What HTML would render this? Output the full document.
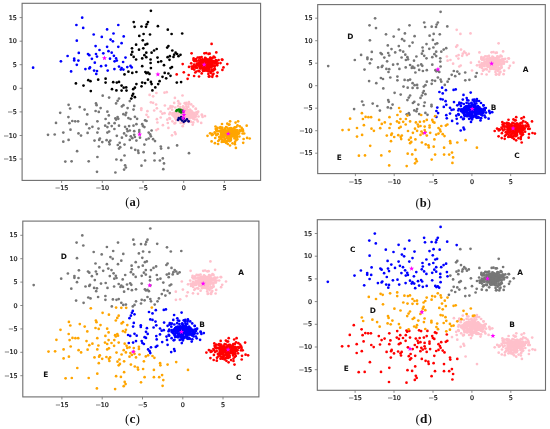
<!DOCTYPE html>
<html><head><meta charset="utf-8"><style>
html,body{margin:0;padding:0;background:#fff;}
svg{display:block;filter:blur(0.25px);}
.tk{font-family:"DejaVu Sans","Liberation Sans",sans-serif;font-size:6.4px;letter-spacing:-0.1px;fill:#111;stroke:#111;stroke-width:0.2px;}
.lt{font-family:"DejaVu Sans","Liberation Sans",sans-serif;font-size:7.4px;font-weight:bold;fill:#111;}
.lb{font-family:"Liberation Serif",serif;font-size:12.5px;fill:#111;}
</style></head><body>
<svg width="550" height="429" viewBox="0 0 550 429">
<rect width="550" height="429" fill="#fff"/>
<g fill="#767676"><circle cx="68.6" cy="104.8" r="1.35"/><circle cx="70.1" cy="108.5" r="1.35"/><circle cx="79.7" cy="107.1" r="1.35"/><circle cx="84.6" cy="109.6" r="1.35"/><circle cx="96.0" cy="103.4" r="1.35"/><circle cx="96.6" cy="105.2" r="1.35"/><circle cx="100.6" cy="108.1" r="1.35"/><circle cx="95.6" cy="111.0" r="1.35"/><circle cx="98.8" cy="111.9" r="1.35"/><circle cx="60.2" cy="112.8" r="1.35"/><circle cx="87.3" cy="114.4" r="1.35"/><circle cx="68.4" cy="117.1" r="1.35"/><circle cx="102.7" cy="95.7" r="1.35"/><circle cx="109.1" cy="97.6" r="1.35"/><circle cx="119.0" cy="98.6" r="1.35"/><circle cx="117.6" cy="100.8" r="1.35"/><circle cx="116.1" cy="103.4" r="1.35"/><circle cx="129.8" cy="101.1" r="1.35"/><circle cx="123.4" cy="105.2" r="1.35"/><circle cx="121.9" cy="106.4" r="1.35"/><circle cx="127.6" cy="108.1" r="1.35"/><circle cx="134.2" cy="105.9" r="1.35"/><circle cx="133.5" cy="109.6" r="1.35"/><circle cx="107.4" cy="111.7" r="1.35"/><circle cx="108.8" cy="115.4" r="1.35"/><circle cx="126.2" cy="112.8" r="1.35"/><circle cx="125.5" cy="115.1" r="1.35"/><circle cx="123.4" cy="114.2" r="1.35"/><circle cx="117.6" cy="117.1" r="1.35"/><circle cx="115.4" cy="118.3" r="1.35"/><circle cx="130.5" cy="119.0" r="1.35"/><circle cx="134.9" cy="116.8" r="1.35"/><circle cx="105.6" cy="119.0" r="1.35"/><circle cx="56.0" cy="122.9" r="1.35"/><circle cx="69.4" cy="123.2" r="1.35"/><circle cx="72.3" cy="121.0" r="1.35"/><circle cx="75.2" cy="121.3" r="1.35"/><circle cx="78.1" cy="121.3" r="1.35"/><circle cx="97.4" cy="121.3" r="1.35"/><circle cx="86.4" cy="124.2" r="1.35"/><circle cx="89.3" cy="128.3" r="1.35"/><circle cx="92.4" cy="126.8" r="1.35"/><circle cx="98.5" cy="128.6" r="1.35"/><circle cx="70.5" cy="129.7" r="1.35"/><circle cx="63.3" cy="132.6" r="1.35"/><circle cx="78.5" cy="133.4" r="1.35"/><circle cx="81.0" cy="135.6" r="1.35"/><circle cx="87.6" cy="132.9" r="1.35"/><circle cx="97.4" cy="132.6" r="1.35"/><circle cx="48.0" cy="134.8" r="1.35"/><circle cx="54.7" cy="134.5" r="1.35"/><circle cx="63.3" cy="141.7" r="1.35"/><circle cx="68.6" cy="139.9" r="1.35"/><circle cx="94.5" cy="140.6" r="1.35"/><circle cx="99.2" cy="139.9" r="1.35"/><circle cx="99.9" cy="138.5" r="1.35"/><circle cx="98.9" cy="146.5" r="1.35"/><circle cx="77.1" cy="151.2" r="1.35"/><circle cx="97.4" cy="157.0" r="1.35"/><circle cx="65.3" cy="161.6" r="1.35"/><circle cx="71.6" cy="161.3" r="1.35"/><circle cx="88.7" cy="161.3" r="1.35"/><circle cx="97.0" cy="171.8" r="1.35"/><circle cx="116.1" cy="119.6" r="1.35"/><circle cx="118.3" cy="118.8" r="1.35"/><circle cx="114.6" cy="123.2" r="1.35"/><circle cx="108.8" cy="123.2" r="1.35"/><circle cx="105.2" cy="125.7" r="1.35"/><circle cx="107.4" cy="127.1" r="1.35"/><circle cx="111.7" cy="126.1" r="1.35"/><circle cx="114.4" cy="129.0" r="1.35"/><circle cx="119.0" cy="125.7" r="1.35"/><circle cx="125.1" cy="126.8" r="1.35"/><circle cx="129.1" cy="126.1" r="1.35"/><circle cx="133.5" cy="125.7" r="1.35"/><circle cx="136.4" cy="124.2" r="1.35"/><circle cx="142.2" cy="124.2" r="1.35"/><circle cx="142.9" cy="126.1" r="1.35"/><circle cx="144.4" cy="127.1" r="1.35"/><circle cx="146.5" cy="121.0" r="1.35"/><circle cx="145.1" cy="120.3" r="1.35"/><circle cx="126.9" cy="129.0" r="1.35"/><circle cx="127.6" cy="131.2" r="1.35"/><circle cx="129.8" cy="130.5" r="1.35"/><circle cx="134.2" cy="131.2" r="1.35"/><circle cx="139.3" cy="130.0" r="1.35"/><circle cx="124.1" cy="133.4" r="1.35"/><circle cx="126.2" cy="135.6" r="1.35"/><circle cx="107.4" cy="132.6" r="1.35"/><circle cx="109.1" cy="131.5" r="1.35"/><circle cx="116.8" cy="135.8" r="1.35"/><circle cx="121.9" cy="137.7" r="1.35"/><circle cx="130.8" cy="136.3" r="1.35"/><circle cx="132.3" cy="138.2" r="1.35"/><circle cx="134.9" cy="137.0" r="1.35"/><circle cx="129.8" cy="139.9" r="1.35"/><circle cx="136.4" cy="140.6" r="1.35"/><circle cx="140.0" cy="137.7" r="1.35"/><circle cx="134.2" cy="134.8" r="1.35"/><circle cx="148.7" cy="132.6" r="1.35"/><circle cx="150.2" cy="134.4" r="1.35"/><circle cx="151.6" cy="130.5" r="1.35"/><circle cx="150.9" cy="136.3" r="1.35"/><circle cx="153.1" cy="139.2" r="1.35"/><circle cx="155.0" cy="141.1" r="1.35"/><circle cx="146.3" cy="139.6" r="1.35"/><circle cx="148.7" cy="138.5" r="1.35"/><circle cx="102.3" cy="142.1" r="1.35"/><circle cx="106.6" cy="140.2" r="1.35"/><circle cx="110.3" cy="140.6" r="1.35"/><circle cx="109.6" cy="144.3" r="1.35"/><circle cx="109.1" cy="142.1" r="1.35"/><circle cx="117.8" cy="145.0" r="1.35"/><circle cx="119.7" cy="142.8" r="1.35"/><circle cx="120.2" cy="147.2" r="1.35"/><circle cx="119.0" cy="148.6" r="1.35"/><circle cx="124.5" cy="144.6" r="1.35"/><circle cx="144.4" cy="144.6" r="1.35"/><circle cx="131.3" cy="147.9" r="1.35"/><circle cx="135.2" cy="149.8" r="1.35"/><circle cx="138.1" cy="150.7" r="1.35"/><circle cx="138.5" cy="152.9" r="1.35"/><circle cx="143.6" cy="152.2" r="1.35"/><circle cx="154.5" cy="153.2" r="1.35"/><circle cx="160.8" cy="146.5" r="1.35"/><circle cx="161.1" cy="148.6" r="1.35"/><circle cx="168.4" cy="147.9" r="1.35"/><circle cx="177.1" cy="145.4" r="1.35"/><circle cx="124.5" cy="155.5" r="1.35"/><circle cx="116.4" cy="159.5" r="1.35"/><circle cx="121.2" cy="160.2" r="1.35"/><circle cx="145.1" cy="160.5" r="1.35"/><circle cx="154.5" cy="160.5" r="1.35"/><circle cx="159.9" cy="160.5" r="1.35"/><circle cx="162.8" cy="158.4" r="1.35"/><circle cx="164.0" cy="163.4" r="1.35"/><circle cx="125.1" cy="165.3" r="1.35"/><circle cx="125.9" cy="167.5" r="1.35"/><circle cx="124.1" cy="169.6" r="1.35"/><circle cx="141.5" cy="165.7" r="1.35"/><circle cx="163.3" cy="169.2" r="1.35"/><circle cx="115.4" cy="172.5" r="1.35"/><circle cx="137.1" cy="118.8" r="1.35"/><circle cx="128.4" cy="118.1" r="1.35"/><circle cx="189.0" cy="153.2" r="1.35"/><circle cx="139.3" cy="132.1" r="1.35"/></g>
<g fill="#0000ff"><circle cx="82.2" cy="17.7" r="1.35"/><circle cx="76.4" cy="25.0" r="1.35"/><circle cx="83.2" cy="27.9" r="1.35"/><circle cx="93.7" cy="34.5" r="1.35"/><circle cx="101.8" cy="36.9" r="1.35"/><circle cx="76.8" cy="40.7" r="1.35"/><circle cx="95.6" cy="46.1" r="1.35"/><circle cx="99.5" cy="50.0" r="1.35"/><circle cx="78.8" cy="52.9" r="1.35"/><circle cx="67.6" cy="56.0" r="1.35"/><circle cx="88.0" cy="54.0" r="1.35"/><circle cx="89.3" cy="55.2" r="1.35"/><circle cx="96.0" cy="54.0" r="1.35"/><circle cx="97.0" cy="56.6" r="1.35"/><circle cx="74.2" cy="58.7" r="1.35"/><circle cx="78.4" cy="60.6" r="1.35"/><circle cx="91.9" cy="58.8" r="1.35"/><circle cx="60.9" cy="61.3" r="1.35"/><circle cx="94.8" cy="62.7" r="1.35"/><circle cx="118.3" cy="25.0" r="1.35"/><circle cx="107.1" cy="29.4" r="1.35"/><circle cx="113.5" cy="33.5" r="1.35"/><circle cx="123.7" cy="36.4" r="1.35"/><circle cx="110.6" cy="39.6" r="1.35"/><circle cx="112.9" cy="41.3" r="1.35"/><circle cx="121.6" cy="43.2" r="1.35"/><circle cx="107.1" cy="46.8" r="1.35"/><circle cx="118.3" cy="46.8" r="1.35"/><circle cx="108.5" cy="51.2" r="1.35"/><circle cx="111.7" cy="52.7" r="1.35"/><circle cx="103.3" cy="53.3" r="1.35"/><circle cx="113.9" cy="55.8" r="1.35"/><circle cx="116.1" cy="58.4" r="1.35"/><circle cx="110.0" cy="58.7" r="1.35"/><circle cx="125.5" cy="57.6" r="1.35"/><circle cx="114.6" cy="61.3" r="1.35"/><circle cx="116.8" cy="60.6" r="1.35"/><circle cx="123.1" cy="62.0" r="1.35"/><circle cx="33.1" cy="67.7" r="1.35"/><circle cx="74.2" cy="60.4" r="1.35"/><circle cx="76.8" cy="64.8" r="1.35"/><circle cx="71.1" cy="71.4" r="1.35"/><circle cx="85.4" cy="69.1" r="1.35"/><circle cx="89.3" cy="68.5" r="1.35"/><circle cx="90.0" cy="67.4" r="1.35"/><circle cx="94.1" cy="70.6" r="1.35"/><circle cx="97.0" cy="71.0" r="1.35"/><circle cx="96.3" cy="73.9" r="1.35"/><circle cx="101.1" cy="66.2" r="1.35"/><circle cx="105.9" cy="65.6" r="1.35"/><circle cx="107.7" cy="70.6" r="1.35"/><circle cx="114.4" cy="69.1" r="1.35"/><circle cx="119.0" cy="66.6" r="1.35"/><circle cx="121.6" cy="68.1" r="1.35"/><circle cx="123.4" cy="69.6" r="1.35"/><circle cx="127.3" cy="67.1" r="1.35"/><circle cx="130.5" cy="65.9" r="1.35"/><circle cx="131.7" cy="67.4" r="1.35"/><circle cx="120.8" cy="69.6" r="1.35"/></g>
<g fill="#000000"><circle cx="150.9" cy="10.8" r="1.35"/><circle cx="133.7" cy="22.1" r="1.35"/><circle cx="148.0" cy="22.1" r="1.35"/><circle cx="146.8" cy="24.3" r="1.35"/><circle cx="134.6" cy="26.8" r="1.35"/><circle cx="141.5" cy="26.5" r="1.35"/><circle cx="146.0" cy="26.8" r="1.35"/><circle cx="157.9" cy="26.2" r="1.35"/><circle cx="167.8" cy="29.7" r="1.35"/><circle cx="171.6" cy="34.0" r="1.35"/><circle cx="143.6" cy="34.0" r="1.35"/><circle cx="150.0" cy="34.5" r="1.35"/><circle cx="139.3" cy="35.9" r="1.35"/><circle cx="142.8" cy="40.3" r="1.35"/><circle cx="145.4" cy="44.7" r="1.35"/><circle cx="147.3" cy="43.9" r="1.35"/><circle cx="136.1" cy="44.7" r="1.35"/><circle cx="168.4" cy="46.1" r="1.35"/><circle cx="167.2" cy="47.6" r="1.35"/><circle cx="132.0" cy="48.3" r="1.35"/><circle cx="139.0" cy="49.7" r="1.35"/><circle cx="143.3" cy="48.3" r="1.35"/><circle cx="156.7" cy="49.0" r="1.35"/><circle cx="154.1" cy="50.5" r="1.35"/><circle cx="172.3" cy="50.5" r="1.35"/><circle cx="132.3" cy="51.9" r="1.35"/><circle cx="151.6" cy="52.7" r="1.35"/><circle cx="146.3" cy="52.7" r="1.35"/><circle cx="175.6" cy="52.7" r="1.35"/><circle cx="177.1" cy="54.0" r="1.35"/><circle cx="131.3" cy="54.7" r="1.35"/><circle cx="144.4" cy="55.2" r="1.35"/><circle cx="174.2" cy="54.7" r="1.35"/><circle cx="169.8" cy="56.2" r="1.35"/><circle cx="133.7" cy="56.9" r="1.35"/><circle cx="146.3" cy="57.2" r="1.35"/><circle cx="157.5" cy="57.6" r="1.35"/><circle cx="167.6" cy="57.2" r="1.35"/><circle cx="173.5" cy="56.9" r="1.35"/><circle cx="178.5" cy="56.2" r="1.35"/><circle cx="142.2" cy="58.4" r="1.35"/><circle cx="136.1" cy="59.5" r="1.35"/><circle cx="150.6" cy="59.5" r="1.35"/><circle cx="161.1" cy="61.3" r="1.35"/><circle cx="169.5" cy="59.8" r="1.35"/><circle cx="158.2" cy="62.0" r="1.35"/><circle cx="182.2" cy="33.5" r="1.35"/><circle cx="180.5" cy="54.8" r="1.35"/><circle cx="181.1" cy="82.1" r="1.35"/><circle cx="75.9" cy="83.4" r="1.35"/><circle cx="83.5" cy="85.6" r="1.35"/><circle cx="88.3" cy="80.2" r="1.35"/><circle cx="90.5" cy="81.2" r="1.35"/><circle cx="98.2" cy="79.7" r="1.35"/><circle cx="90.8" cy="91.1" r="1.35"/><circle cx="150.6" cy="63.0" r="1.35"/><circle cx="164.0" cy="65.2" r="1.35"/><circle cx="170.5" cy="68.1" r="1.35"/><circle cx="172.0" cy="67.1" r="1.35"/><circle cx="142.2" cy="66.2" r="1.35"/><circle cx="150.9" cy="68.1" r="1.35"/><circle cx="128.4" cy="71.7" r="1.35"/><circle cx="132.3" cy="72.9" r="1.35"/><circle cx="136.4" cy="72.0" r="1.35"/><circle cx="124.5" cy="74.4" r="1.35"/><circle cx="145.4" cy="72.0" r="1.35"/><circle cx="146.5" cy="73.2" r="1.35"/><circle cx="149.5" cy="73.9" r="1.35"/><circle cx="148.0" cy="72.5" r="1.35"/><circle cx="164.7" cy="72.9" r="1.35"/><circle cx="168.4" cy="73.5" r="1.35"/><circle cx="170.5" cy="75.8" r="1.35"/><circle cx="162.5" cy="76.8" r="1.35"/><circle cx="166.2" cy="78.3" r="1.35"/><circle cx="105.6" cy="78.7" r="1.35"/><circle cx="105.6" cy="82.6" r="1.35"/><circle cx="113.2" cy="82.2" r="1.35"/><circle cx="116.8" cy="82.6" r="1.35"/><circle cx="119.0" cy="81.9" r="1.35"/><circle cx="121.6" cy="85.6" r="1.35"/><circle cx="123.7" cy="87.7" r="1.35"/><circle cx="126.2" cy="87.4" r="1.35"/><circle cx="112.0" cy="89.2" r="1.35"/><circle cx="116.4" cy="90.4" r="1.35"/><circle cx="121.6" cy="90.6" r="1.35"/><circle cx="126.5" cy="90.6" r="1.35"/><circle cx="133.2" cy="89.2" r="1.35"/><circle cx="136.4" cy="84.1" r="1.35"/><circle cx="134.9" cy="87.7" r="1.35"/><circle cx="142.2" cy="82.6" r="1.35"/><circle cx="141.5" cy="86.3" r="1.35"/><circle cx="145.1" cy="83.1" r="1.35"/><circle cx="148.0" cy="79.7" r="1.35"/><circle cx="150.9" cy="81.9" r="1.35"/><circle cx="151.6" cy="84.1" r="1.35"/><circle cx="159.6" cy="81.2" r="1.35"/><circle cx="158.2" cy="84.1" r="1.35"/><circle cx="155.3" cy="87.4" r="1.35"/><circle cx="152.4" cy="90.4" r="1.35"/><circle cx="133.2" cy="93.8" r="1.35"/><circle cx="132.3" cy="95.7" r="1.35"/><circle cx="134.9" cy="97.2" r="1.35"/><circle cx="131.3" cy="98.6" r="1.35"/><circle cx="176.8" cy="82.6" r="1.35"/></g>
<g fill="#ffc0cb"><circle cx="201.8" cy="114.6" r="1.35"/><circle cx="205.0" cy="116.1" r="1.35"/><circle cx="172.0" cy="135.3" r="1.35"/><circle cx="175.6" cy="134.1" r="1.35"/><circle cx="156.4" cy="93.0" r="1.35"/><circle cx="164.5" cy="92.7" r="1.35"/><circle cx="166.7" cy="92.2" r="1.35"/><circle cx="149.6" cy="94.9" r="1.35"/><circle cx="153.1" cy="96.3" r="1.35"/><circle cx="182.5" cy="95.5" r="1.35"/><circle cx="150.9" cy="102.3" r="1.35"/><circle cx="153.1" cy="102.8" r="1.35"/><circle cx="156.1" cy="104.5" r="1.35"/><circle cx="178.2" cy="101.2" r="1.35"/><circle cx="184.7" cy="103.2" r="1.35"/><circle cx="186.3" cy="102.8" r="1.35"/><circle cx="141.3" cy="108.3" r="1.35"/><circle cx="141.3" cy="109.9" r="1.35"/><circle cx="147.4" cy="111.2" r="1.35"/><circle cx="154.2" cy="110.5" r="1.35"/><circle cx="156.9" cy="108.3" r="1.35"/><circle cx="160.7" cy="111.5" r="1.35"/><circle cx="162.4" cy="113.7" r="1.35"/><circle cx="164.5" cy="113.2" r="1.35"/><circle cx="168.4" cy="108.8" r="1.35"/><circle cx="172.7" cy="106.6" r="1.35"/><circle cx="146.5" cy="114.8" r="1.35"/><circle cx="148.2" cy="117.0" r="1.35"/><circle cx="156.9" cy="119.2" r="1.35"/><circle cx="157.4" cy="122.5" r="1.35"/><circle cx="160.7" cy="117.5" r="1.35"/><circle cx="167.3" cy="119.7" r="1.35"/><circle cx="167.8" cy="123.0" r="1.35"/><circle cx="162.9" cy="125.2" r="1.35"/><circle cx="168.4" cy="127.9" r="1.35"/><circle cx="156.4" cy="130.1" r="1.35"/><circle cx="158.0" cy="129.0" r="1.35"/><circle cx="197.8" cy="121.4" r="1.35"/><circle cx="174.9" cy="132.3" r="1.35"/><circle cx="174.9" cy="97.9" r="1.35"/><circle cx="181.4" cy="110.1" r="1.35"/><circle cx="191.7" cy="114.0" r="1.35"/><circle cx="175.1" cy="113.2" r="1.35"/><circle cx="186.9" cy="109.0" r="1.35"/><circle cx="190.1" cy="113.9" r="1.35"/><circle cx="190.7" cy="111.6" r="1.35"/><circle cx="185.7" cy="113.8" r="1.35"/><circle cx="182.2" cy="110.9" r="1.35"/><circle cx="175.9" cy="116.8" r="1.35"/><circle cx="184.1" cy="120.6" r="1.35"/><circle cx="180.7" cy="123.0" r="1.35"/><circle cx="178.8" cy="111.5" r="1.35"/><circle cx="188.5" cy="114.3" r="1.35"/><circle cx="182.3" cy="120.4" r="1.35"/><circle cx="198.2" cy="111.7" r="1.35"/><circle cx="192.5" cy="118.0" r="1.35"/><circle cx="182.7" cy="122.2" r="1.35"/><circle cx="190.1" cy="109.8" r="1.35"/><circle cx="169.4" cy="114.2" r="1.35"/><circle cx="189.0" cy="121.9" r="1.35"/><circle cx="170.0" cy="118.8" r="1.35"/><circle cx="179.2" cy="120.3" r="1.35"/><circle cx="184.3" cy="112.9" r="1.35"/><circle cx="189.0" cy="110.9" r="1.35"/><circle cx="195.7" cy="108.8" r="1.35"/><circle cx="173.9" cy="116.3" r="1.35"/><circle cx="175.9" cy="118.8" r="1.35"/><circle cx="183.5" cy="114.0" r="1.35"/><circle cx="187.9" cy="121.1" r="1.35"/><circle cx="174.5" cy="114.1" r="1.35"/><circle cx="182.5" cy="115.4" r="1.35"/><circle cx="183.6" cy="117.4" r="1.35"/><circle cx="189.5" cy="112.4" r="1.35"/><circle cx="183.4" cy="117.0" r="1.35"/><circle cx="182.7" cy="126.2" r="1.35"/><circle cx="176.5" cy="113.8" r="1.35"/><circle cx="172.5" cy="113.1" r="1.35"/><circle cx="185.2" cy="120.2" r="1.35"/><circle cx="182.1" cy="115.4" r="1.35"/><circle cx="187.6" cy="111.3" r="1.35"/><circle cx="183.8" cy="117.8" r="1.35"/><circle cx="183.0" cy="114.3" r="1.35"/><circle cx="189.8" cy="112.7" r="1.35"/><circle cx="178.5" cy="120.1" r="1.35"/><circle cx="181.2" cy="117.3" r="1.35"/><circle cx="175.5" cy="114.5" r="1.35"/><circle cx="180.3" cy="113.5" r="1.35"/><circle cx="188.1" cy="115.9" r="1.35"/><circle cx="202.1" cy="115.5" r="1.35"/><circle cx="192.6" cy="113.5" r="1.35"/><circle cx="192.7" cy="124.7" r="1.35"/><circle cx="178.3" cy="112.9" r="1.35"/><circle cx="188.7" cy="103.5" r="1.35"/><circle cx="186.6" cy="108.3" r="1.35"/><circle cx="190.0" cy="109.8" r="1.35"/><circle cx="188.0" cy="114.7" r="1.35"/><circle cx="188.0" cy="118.8" r="1.35"/><circle cx="193.2" cy="118.6" r="1.35"/><circle cx="186.0" cy="104.5" r="1.35"/><circle cx="182.4" cy="113.9" r="1.35"/><circle cx="193.1" cy="113.9" r="1.35"/><circle cx="177.8" cy="112.9" r="1.35"/><circle cx="188.6" cy="110.8" r="1.35"/><circle cx="178.1" cy="106.2" r="1.35"/><circle cx="197.0" cy="113.9" r="1.35"/><circle cx="186.2" cy="115.9" r="1.35"/><circle cx="195.0" cy="117.2" r="1.35"/><circle cx="189.3" cy="116.2" r="1.35"/><circle cx="178.7" cy="110.8" r="1.35"/><circle cx="194.4" cy="114.1" r="1.35"/><circle cx="178.8" cy="110.4" r="1.35"/><circle cx="183.7" cy="112.6" r="1.35"/><circle cx="195.9" cy="108.9" r="1.35"/><circle cx="180.1" cy="103.8" r="1.35"/><circle cx="184.1" cy="110.5" r="1.35"/><circle cx="179.1" cy="114.2" r="1.35"/><circle cx="170.6" cy="106.0" r="1.35"/><circle cx="194.6" cy="119.5" r="1.35"/><circle cx="172.4" cy="121.3" r="1.35"/><circle cx="193.2" cy="116.1" r="1.35"/><circle cx="183.6" cy="115.4" r="1.35"/><circle cx="183.1" cy="118.9" r="1.35"/><circle cx="184.3" cy="120.5" r="1.35"/><circle cx="183.5" cy="112.6" r="1.35"/><circle cx="187.7" cy="115.0" r="1.35"/><circle cx="177.1" cy="113.3" r="1.35"/><circle cx="180.3" cy="107.0" r="1.35"/><circle cx="190.0" cy="114.5" r="1.35"/><circle cx="180.4" cy="117.2" r="1.35"/><circle cx="176.8" cy="115.6" r="1.35"/><circle cx="186.4" cy="111.7" r="1.35"/><circle cx="188.5" cy="104.6" r="1.35"/><circle cx="178.6" cy="114.0" r="1.35"/><circle cx="180.1" cy="113.3" r="1.35"/><circle cx="185.3" cy="112.2" r="1.35"/><circle cx="182.2" cy="112.4" r="1.35"/><circle cx="184.5" cy="110.6" r="1.35"/><circle cx="169.4" cy="118.0" r="1.35"/><circle cx="184.1" cy="118.6" r="1.35"/><circle cx="176.0" cy="111.2" r="1.35"/><circle cx="179.1" cy="111.2" r="1.35"/><circle cx="189.9" cy="112.6" r="1.35"/><circle cx="188.0" cy="114.5" r="1.35"/><circle cx="173.2" cy="114.1" r="1.35"/><circle cx="187.6" cy="116.4" r="1.35"/><circle cx="183.3" cy="110.7" r="1.35"/><circle cx="177.3" cy="111.1" r="1.35"/><circle cx="198.5" cy="116.5" r="1.35"/><circle cx="185.2" cy="114.7" r="1.35"/><circle cx="196.0" cy="112.6" r="1.35"/><circle cx="191.0" cy="117.1" r="1.35"/><circle cx="184.0" cy="114.1" r="1.35"/><circle cx="170.4" cy="107.6" r="1.35"/><circle cx="191.0" cy="121.8" r="1.35"/><circle cx="189.8" cy="114.6" r="1.35"/><circle cx="187.6" cy="112.4" r="1.35"/><circle cx="172.5" cy="115.0" r="1.35"/><circle cx="195.6" cy="116.6" r="1.35"/><circle cx="176.2" cy="120.1" r="1.35"/><circle cx="174.6" cy="112.5" r="1.35"/><circle cx="197.2" cy="112.1" r="1.35"/><circle cx="186.0" cy="104.0" r="1.35"/><circle cx="180.1" cy="117.0" r="1.35"/><circle cx="188.2" cy="111.6" r="1.35"/><circle cx="176.2" cy="119.3" r="1.35"/><circle cx="186.3" cy="112.9" r="1.35"/><circle cx="174.0" cy="114.9" r="1.35"/><circle cx="179.9" cy="112.0" r="1.35"/><circle cx="183.2" cy="114.4" r="1.35"/><circle cx="181.4" cy="109.3" r="1.35"/><circle cx="194.8" cy="115.7" r="1.35"/><circle cx="190.6" cy="117.4" r="1.35"/><circle cx="184.6" cy="110.7" r="1.35"/><circle cx="195.8" cy="115.7" r="1.35"/><circle cx="183.5" cy="113.1" r="1.35"/><circle cx="172.5" cy="113.9" r="1.35"/><circle cx="178.9" cy="112.3" r="1.35"/><circle cx="175.3" cy="122.9" r="1.35"/><circle cx="184.4" cy="112.8" r="1.35"/><circle cx="179.8" cy="110.0" r="1.35"/><circle cx="182.0" cy="116.7" r="1.35"/><circle cx="187.8" cy="121.0" r="1.35"/><circle cx="178.8" cy="114.1" r="1.35"/><circle cx="190.6" cy="114.7" r="1.35"/><circle cx="186.5" cy="116.9" r="1.35"/><circle cx="186.4" cy="106.6" r="1.35"/><circle cx="178.8" cy="103.4" r="1.35"/><circle cx="179.1" cy="113.9" r="1.35"/><circle cx="185.4" cy="109.4" r="1.35"/><circle cx="174.5" cy="123.4" r="1.35"/><circle cx="188.8" cy="110.4" r="1.35"/><circle cx="188.9" cy="102.2" r="1.35"/><circle cx="185.7" cy="112.9" r="1.35"/><circle cx="191.3" cy="112.4" r="1.35"/><circle cx="196.9" cy="119.6" r="1.35"/><circle cx="190.4" cy="115.7" r="1.35"/><circle cx="191.2" cy="104.4" r="1.35"/><circle cx="184.0" cy="115.2" r="1.35"/><circle cx="180.2" cy="117.8" r="1.35"/><circle cx="179.2" cy="111.1" r="1.35"/><circle cx="184.4" cy="113.7" r="1.35"/><circle cx="182.7" cy="109.9" r="1.35"/><circle cx="187.9" cy="114.6" r="1.35"/><circle cx="189.2" cy="114.7" r="1.35"/><circle cx="175.2" cy="107.5" r="1.35"/><circle cx="187.7" cy="118.3" r="1.35"/><circle cx="192.4" cy="112.5" r="1.35"/><circle cx="172.0" cy="106.8" r="1.35"/><circle cx="186.7" cy="110.0" r="1.35"/><circle cx="185.6" cy="114.7" r="1.35"/><circle cx="172.1" cy="109.7" r="1.35"/><circle cx="184.3" cy="115.3" r="1.35"/><circle cx="186.8" cy="113.7" r="1.35"/><circle cx="189.3" cy="115.7" r="1.35"/><circle cx="183.8" cy="123.6" r="1.35"/><circle cx="180.8" cy="111.0" r="1.35"/><circle cx="194.4" cy="115.6" r="1.35"/><circle cx="183.1" cy="106.9" r="1.35"/><circle cx="181.6" cy="110.7" r="1.35"/><circle cx="197.1" cy="113.8" r="1.35"/><circle cx="193.6" cy="117.2" r="1.35"/><circle cx="185.7" cy="114.4" r="1.35"/><circle cx="185.0" cy="109.0" r="1.35"/><circle cx="202.6" cy="117.0" r="1.35"/><circle cx="179.6" cy="111.8" r="1.35"/><circle cx="175.9" cy="111.8" r="1.35"/><circle cx="188.5" cy="115.3" r="1.35"/><circle cx="188.2" cy="121.0" r="1.35"/><circle cx="190.0" cy="120.9" r="1.35"/><circle cx="178.7" cy="116.5" r="1.35"/><circle cx="181.0" cy="110.2" r="1.35"/><circle cx="184.7" cy="115.8" r="1.35"/><circle cx="188.3" cy="106.9" r="1.35"/><circle cx="184.1" cy="112.4" r="1.35"/><circle cx="193.7" cy="112.8" r="1.35"/><circle cx="174.2" cy="102.9" r="1.35"/><circle cx="201.2" cy="122.9" r="1.35"/><circle cx="183.8" cy="112.1" r="1.35"/><circle cx="191.6" cy="111.0" r="1.35"/><circle cx="182.0" cy="118.7" r="1.35"/><circle cx="184.9" cy="109.4" r="1.35"/><circle cx="175.7" cy="118.6" r="1.35"/><circle cx="183.9" cy="122.7" r="1.35"/><circle cx="182.1" cy="116.0" r="1.35"/><circle cx="187.6" cy="117.2" r="1.35"/><circle cx="177.3" cy="115.8" r="1.35"/><circle cx="183.7" cy="117.0" r="1.35"/><circle cx="184.2" cy="110.7" r="1.35"/><circle cx="193.2" cy="106.4" r="1.35"/><circle cx="178.0" cy="115.9" r="1.35"/><circle cx="164.9" cy="105.5" r="1.35"/><circle cx="178.5" cy="114.2" r="1.35"/><circle cx="188.1" cy="120.1" r="1.35"/><circle cx="187.7" cy="114.1" r="1.35"/><circle cx="170.0" cy="112.7" r="1.35"/><circle cx="193.3" cy="122.4" r="1.35"/><circle cx="190.3" cy="113.1" r="1.35"/><circle cx="187.8" cy="112.0" r="1.35"/><circle cx="194.2" cy="115.0" r="1.35"/><circle cx="190.8" cy="115.8" r="1.35"/><circle cx="189.7" cy="117.7" r="1.35"/><circle cx="183.2" cy="106.3" r="1.35"/><circle cx="187.5" cy="114.7" r="1.35"/><circle cx="175.2" cy="117.6" r="1.35"/><circle cx="185.6" cy="109.8" r="1.35"/><circle cx="187.4" cy="111.7" r="1.35"/><circle cx="183.8" cy="108.0" r="1.35"/><circle cx="181.1" cy="116.5" r="1.35"/><circle cx="191.0" cy="113.7" r="1.35"/><circle cx="181.9" cy="116.6" r="1.35"/></g>
<g fill="#ff0000"><circle cx="211.6" cy="43.9" r="1.35"/><circle cx="191.6" cy="53.3" r="1.35"/><circle cx="216.3" cy="52.4" r="1.35"/><circle cx="209.7" cy="53.7" r="1.35"/><circle cx="222.4" cy="59.8" r="1.35"/><circle cx="182.7" cy="64.1" r="1.35"/><circle cx="183.8" cy="72.3" r="1.35"/><circle cx="187.6" cy="78.8" r="1.35"/><circle cx="188.7" cy="75.0" r="1.35"/><circle cx="227.3" cy="64.1" r="1.35"/><circle cx="208.8" cy="76.6" r="1.35"/><circle cx="212.6" cy="75.0" r="1.35"/><circle cx="223.5" cy="67.4" r="1.35"/><circle cx="176.7" cy="74.4" r="1.35"/><circle cx="204.1" cy="62.4" r="1.35"/><circle cx="204.3" cy="66.1" r="1.35"/><circle cx="200.0" cy="65.7" r="1.35"/><circle cx="212.4" cy="62.8" r="1.35"/><circle cx="212.0" cy="63.6" r="1.35"/><circle cx="208.1" cy="63.9" r="1.35"/><circle cx="195.5" cy="60.9" r="1.35"/><circle cx="208.7" cy="62.5" r="1.35"/><circle cx="195.3" cy="72.5" r="1.35"/><circle cx="200.2" cy="66.8" r="1.35"/><circle cx="207.5" cy="64.9" r="1.35"/><circle cx="208.8" cy="67.6" r="1.35"/><circle cx="207.5" cy="63.0" r="1.35"/><circle cx="201.6" cy="57.0" r="1.35"/><circle cx="209.1" cy="59.4" r="1.35"/><circle cx="201.9" cy="68.1" r="1.35"/><circle cx="203.6" cy="65.2" r="1.35"/><circle cx="209.5" cy="63.6" r="1.35"/><circle cx="202.9" cy="69.0" r="1.35"/><circle cx="202.5" cy="59.3" r="1.35"/><circle cx="200.7" cy="63.6" r="1.35"/><circle cx="208.3" cy="71.4" r="1.35"/><circle cx="206.0" cy="58.9" r="1.35"/><circle cx="193.4" cy="66.2" r="1.35"/><circle cx="205.0" cy="68.4" r="1.35"/><circle cx="208.7" cy="65.0" r="1.35"/><circle cx="196.7" cy="61.0" r="1.35"/><circle cx="209.7" cy="60.5" r="1.35"/><circle cx="214.5" cy="63.1" r="1.35"/><circle cx="206.4" cy="70.6" r="1.35"/><circle cx="209.4" cy="67.5" r="1.35"/><circle cx="202.9" cy="70.4" r="1.35"/><circle cx="199.7" cy="67.1" r="1.35"/><circle cx="213.5" cy="73.8" r="1.35"/><circle cx="196.8" cy="63.7" r="1.35"/><circle cx="214.5" cy="62.1" r="1.35"/><circle cx="194.1" cy="76.0" r="1.35"/><circle cx="207.8" cy="68.0" r="1.35"/><circle cx="198.8" cy="60.4" r="1.35"/><circle cx="212.4" cy="64.0" r="1.35"/><circle cx="207.2" cy="62.8" r="1.35"/><circle cx="215.4" cy="62.0" r="1.35"/><circle cx="208.8" cy="62.3" r="1.35"/><circle cx="196.1" cy="59.0" r="1.35"/><circle cx="211.5" cy="62.4" r="1.35"/><circle cx="193.6" cy="67.6" r="1.35"/><circle cx="210.8" cy="72.9" r="1.35"/><circle cx="204.5" cy="60.2" r="1.35"/><circle cx="197.7" cy="57.5" r="1.35"/><circle cx="209.0" cy="65.4" r="1.35"/><circle cx="207.6" cy="61.8" r="1.35"/><circle cx="206.4" cy="59.6" r="1.35"/><circle cx="201.6" cy="66.6" r="1.35"/><circle cx="212.0" cy="64.6" r="1.35"/><circle cx="200.3" cy="60.5" r="1.35"/><circle cx="214.6" cy="66.7" r="1.35"/><circle cx="197.2" cy="65.3" r="1.35"/><circle cx="204.7" cy="66.1" r="1.35"/><circle cx="214.2" cy="69.3" r="1.35"/><circle cx="213.4" cy="70.4" r="1.35"/><circle cx="200.9" cy="61.9" r="1.35"/><circle cx="212.5" cy="60.9" r="1.35"/><circle cx="207.8" cy="64.1" r="1.35"/><circle cx="206.6" cy="62.2" r="1.35"/><circle cx="204.6" cy="63.5" r="1.35"/><circle cx="209.2" cy="64.7" r="1.35"/><circle cx="210.3" cy="62.2" r="1.35"/><circle cx="217.9" cy="63.3" r="1.35"/><circle cx="203.0" cy="66.4" r="1.35"/><circle cx="205.6" cy="60.6" r="1.35"/><circle cx="203.6" cy="63.0" r="1.35"/><circle cx="216.9" cy="76.2" r="1.35"/><circle cx="198.8" cy="63.6" r="1.35"/><circle cx="208.1" cy="63.7" r="1.35"/><circle cx="203.0" cy="61.8" r="1.35"/><circle cx="207.4" cy="67.1" r="1.35"/><circle cx="220.5" cy="63.1" r="1.35"/><circle cx="202.3" cy="65.2" r="1.35"/><circle cx="204.3" cy="65.0" r="1.35"/><circle cx="189.0" cy="66.9" r="1.35"/><circle cx="211.8" cy="70.0" r="1.35"/><circle cx="205.2" cy="60.5" r="1.35"/><circle cx="210.9" cy="58.1" r="1.35"/><circle cx="195.3" cy="66.3" r="1.35"/><circle cx="203.6" cy="61.9" r="1.35"/><circle cx="212.3" cy="76.8" r="1.35"/><circle cx="212.3" cy="71.2" r="1.35"/><circle cx="209.8" cy="71.4" r="1.35"/><circle cx="206.7" cy="59.4" r="1.35"/><circle cx="204.7" cy="63.9" r="1.35"/><circle cx="210.5" cy="64.1" r="1.35"/><circle cx="205.1" cy="57.9" r="1.35"/><circle cx="212.1" cy="66.1" r="1.35"/><circle cx="222.4" cy="69.9" r="1.35"/><circle cx="211.2" cy="65.9" r="1.35"/><circle cx="206.5" cy="61.6" r="1.35"/><circle cx="207.0" cy="61.9" r="1.35"/><circle cx="196.3" cy="71.5" r="1.35"/><circle cx="209.4" cy="69.1" r="1.35"/><circle cx="199.4" cy="71.3" r="1.35"/><circle cx="213.4" cy="61.4" r="1.35"/><circle cx="214.6" cy="68.9" r="1.35"/><circle cx="205.7" cy="69.8" r="1.35"/><circle cx="210.3" cy="57.6" r="1.35"/><circle cx="200.2" cy="57.7" r="1.35"/><circle cx="211.7" cy="65.5" r="1.35"/><circle cx="193.6" cy="58.4" r="1.35"/><circle cx="205.1" cy="67.4" r="1.35"/><circle cx="208.1" cy="62.9" r="1.35"/><circle cx="214.8" cy="69.3" r="1.35"/><circle cx="212.6" cy="58.1" r="1.35"/><circle cx="214.5" cy="65.5" r="1.35"/><circle cx="201.1" cy="60.2" r="1.35"/><circle cx="206.4" cy="64.2" r="1.35"/><circle cx="214.4" cy="65.9" r="1.35"/><circle cx="191.6" cy="66.5" r="1.35"/><circle cx="194.3" cy="61.1" r="1.35"/><circle cx="207.6" cy="67.5" r="1.35"/><circle cx="205.6" cy="61.0" r="1.35"/><circle cx="206.1" cy="58.8" r="1.35"/><circle cx="205.3" cy="60.1" r="1.35"/><circle cx="214.8" cy="57.5" r="1.35"/><circle cx="201.6" cy="60.8" r="1.35"/><circle cx="194.2" cy="69.6" r="1.35"/><circle cx="193.7" cy="59.9" r="1.35"/><circle cx="198.1" cy="64.8" r="1.35"/><circle cx="204.5" cy="64.9" r="1.35"/><circle cx="202.0" cy="63.7" r="1.35"/><circle cx="216.6" cy="64.5" r="1.35"/><circle cx="208.9" cy="60.3" r="1.35"/><circle cx="204.4" cy="70.4" r="1.35"/><circle cx="202.3" cy="59.9" r="1.35"/><circle cx="195.6" cy="67.4" r="1.35"/><circle cx="211.8" cy="61.2" r="1.35"/><circle cx="205.7" cy="61.1" r="1.35"/><circle cx="206.7" cy="70.0" r="1.35"/><circle cx="196.1" cy="67.6" r="1.35"/><circle cx="211.3" cy="67.3" r="1.35"/><circle cx="200.1" cy="68.2" r="1.35"/><circle cx="196.3" cy="65.3" r="1.35"/><circle cx="198.5" cy="63.1" r="1.35"/><circle cx="191.2" cy="63.3" r="1.35"/><circle cx="201.7" cy="73.4" r="1.35"/><circle cx="210.1" cy="66.0" r="1.35"/><circle cx="192.0" cy="68.7" r="1.35"/><circle cx="207.4" cy="66.8" r="1.35"/><circle cx="210.4" cy="61.4" r="1.35"/><circle cx="209.7" cy="63.3" r="1.35"/><circle cx="213.8" cy="61.8" r="1.35"/><circle cx="208.4" cy="74.1" r="1.35"/><circle cx="211.1" cy="58.9" r="1.35"/><circle cx="203.8" cy="66.8" r="1.35"/><circle cx="217.5" cy="72.6" r="1.35"/><circle cx="208.5" cy="53.9" r="1.35"/><circle cx="200.0" cy="61.6" r="1.35"/><circle cx="217.2" cy="65.3" r="1.35"/><circle cx="209.1" cy="60.7" r="1.35"/><circle cx="200.1" cy="65.1" r="1.35"/><circle cx="207.4" cy="61.0" r="1.35"/><circle cx="205.4" cy="65.6" r="1.35"/><circle cx="199.5" cy="66.3" r="1.35"/><circle cx="211.1" cy="64.3" r="1.35"/><circle cx="200.4" cy="68.5" r="1.35"/><circle cx="221.9" cy="59.6" r="1.35"/><circle cx="209.5" cy="76.4" r="1.35"/><circle cx="209.4" cy="62.6" r="1.35"/><circle cx="215.9" cy="62.8" r="1.35"/><circle cx="205.2" cy="62.4" r="1.35"/><circle cx="193.8" cy="60.1" r="1.35"/><circle cx="207.6" cy="67.9" r="1.35"/><circle cx="213.7" cy="56.6" r="1.35"/><circle cx="197.1" cy="67.7" r="1.35"/><circle cx="207.4" cy="63.9" r="1.35"/><circle cx="203.2" cy="69.1" r="1.35"/><circle cx="218.6" cy="60.1" r="1.35"/><circle cx="198.4" cy="70.8" r="1.35"/><circle cx="216.1" cy="60.3" r="1.35"/><circle cx="216.8" cy="61.1" r="1.35"/><circle cx="200.3" cy="63.6" r="1.35"/><circle cx="192.5" cy="68.1" r="1.35"/><circle cx="205.3" cy="62.4" r="1.35"/><circle cx="201.2" cy="65.3" r="1.35"/><circle cx="208.5" cy="63.1" r="1.35"/><circle cx="209.6" cy="63.8" r="1.35"/><circle cx="203.7" cy="61.2" r="1.35"/><circle cx="206.0" cy="68.4" r="1.35"/><circle cx="201.8" cy="64.7" r="1.35"/><circle cx="205.0" cy="64.0" r="1.35"/><circle cx="205.7" cy="64.0" r="1.35"/><circle cx="204.8" cy="70.4" r="1.35"/><circle cx="208.2" cy="60.0" r="1.35"/><circle cx="208.3" cy="65.6" r="1.35"/><circle cx="208.4" cy="69.1" r="1.35"/><circle cx="194.1" cy="64.5" r="1.35"/><circle cx="200.0" cy="61.4" r="1.35"/><circle cx="199.0" cy="76.5" r="1.35"/><circle cx="199.3" cy="57.7" r="1.35"/><circle cx="203.3" cy="70.9" r="1.35"/><circle cx="201.0" cy="62.4" r="1.35"/><circle cx="208.7" cy="63.9" r="1.35"/><circle cx="214.7" cy="61.6" r="1.35"/><circle cx="205.5" cy="62.1" r="1.35"/><circle cx="215.8" cy="60.4" r="1.35"/><circle cx="211.9" cy="69.6" r="1.35"/><circle cx="204.7" cy="61.5" r="1.35"/><circle cx="203.8" cy="60.0" r="1.35"/><circle cx="209.3" cy="60.7" r="1.35"/><circle cx="204.4" cy="53.3" r="1.35"/><circle cx="213.2" cy="65.7" r="1.35"/><circle cx="206.2" cy="53.1" r="1.35"/></g>
<g fill="#ffa500"><circle cx="207.5" cy="135.8" r="1.35"/><circle cx="211.6" cy="141.4" r="1.35"/><circle cx="235.9" cy="147.9" r="1.35"/><circle cx="243.2" cy="142.8" r="1.35"/><circle cx="249.7" cy="138.5" r="1.35"/><circle cx="238.1" cy="121.3" r="1.35"/><circle cx="230.1" cy="121.3" r="1.35"/><circle cx="215.5" cy="126.5" r="1.35"/><circle cx="226.6" cy="131.2" r="1.35"/><circle cx="231.0" cy="138.9" r="1.35"/><circle cx="231.6" cy="133.1" r="1.35"/><circle cx="221.1" cy="130.5" r="1.35"/><circle cx="226.4" cy="135.2" r="1.35"/><circle cx="234.3" cy="128.2" r="1.35"/><circle cx="223.4" cy="132.0" r="1.35"/><circle cx="222.0" cy="124.0" r="1.35"/><circle cx="224.8" cy="128.7" r="1.35"/><circle cx="223.7" cy="130.4" r="1.35"/><circle cx="225.3" cy="131.7" r="1.35"/><circle cx="227.8" cy="136.7" r="1.35"/><circle cx="244.2" cy="133.5" r="1.35"/><circle cx="216.4" cy="130.2" r="1.35"/><circle cx="215.8" cy="128.9" r="1.35"/><circle cx="224.2" cy="133.2" r="1.35"/><circle cx="237.7" cy="133.3" r="1.35"/><circle cx="218.3" cy="141.0" r="1.35"/><circle cx="237.1" cy="130.7" r="1.35"/><circle cx="222.5" cy="130.2" r="1.35"/><circle cx="232.1" cy="131.1" r="1.35"/><circle cx="211.9" cy="135.1" r="1.35"/><circle cx="235.0" cy="130.7" r="1.35"/><circle cx="234.9" cy="144.2" r="1.35"/><circle cx="229.7" cy="131.7" r="1.35"/><circle cx="247.1" cy="137.9" r="1.35"/><circle cx="226.0" cy="133.7" r="1.35"/><circle cx="234.9" cy="135.7" r="1.35"/><circle cx="236.9" cy="137.2" r="1.35"/><circle cx="230.4" cy="136.1" r="1.35"/><circle cx="229.6" cy="136.7" r="1.35"/><circle cx="216.7" cy="129.2" r="1.35"/><circle cx="230.7" cy="136.2" r="1.35"/><circle cx="229.9" cy="129.6" r="1.35"/><circle cx="221.3" cy="134.3" r="1.35"/><circle cx="232.4" cy="131.6" r="1.35"/><circle cx="226.0" cy="142.8" r="1.35"/><circle cx="237.6" cy="132.4" r="1.35"/><circle cx="228.5" cy="135.0" r="1.35"/><circle cx="230.4" cy="135.6" r="1.35"/><circle cx="220.9" cy="137.0" r="1.35"/><circle cx="224.1" cy="136.4" r="1.35"/><circle cx="220.0" cy="131.1" r="1.35"/><circle cx="218.9" cy="131.0" r="1.35"/><circle cx="221.0" cy="132.3" r="1.35"/><circle cx="238.5" cy="133.0" r="1.35"/><circle cx="223.1" cy="133.6" r="1.35"/><circle cx="229.5" cy="141.2" r="1.35"/><circle cx="224.0" cy="133.1" r="1.35"/><circle cx="225.0" cy="133.5" r="1.35"/><circle cx="233.8" cy="130.6" r="1.35"/><circle cx="235.1" cy="131.3" r="1.35"/><circle cx="226.3" cy="133.9" r="1.35"/><circle cx="226.5" cy="135.1" r="1.35"/><circle cx="227.1" cy="141.1" r="1.35"/><circle cx="226.0" cy="133.9" r="1.35"/><circle cx="221.3" cy="133.9" r="1.35"/><circle cx="232.2" cy="134.5" r="1.35"/><circle cx="226.9" cy="141.6" r="1.35"/><circle cx="235.6" cy="122.6" r="1.35"/><circle cx="210.1" cy="133.3" r="1.35"/><circle cx="232.3" cy="135.1" r="1.35"/><circle cx="232.5" cy="143.3" r="1.35"/><circle cx="234.7" cy="132.2" r="1.35"/><circle cx="228.6" cy="136.3" r="1.35"/><circle cx="233.1" cy="135.9" r="1.35"/><circle cx="230.1" cy="136.0" r="1.35"/><circle cx="212.0" cy="133.9" r="1.35"/><circle cx="229.9" cy="130.6" r="1.35"/><circle cx="222.0" cy="134.0" r="1.35"/><circle cx="233.0" cy="133.2" r="1.35"/><circle cx="237.5" cy="125.4" r="1.35"/><circle cx="221.8" cy="142.0" r="1.35"/><circle cx="234.7" cy="127.3" r="1.35"/><circle cx="235.2" cy="130.4" r="1.35"/><circle cx="223.9" cy="136.8" r="1.35"/><circle cx="235.0" cy="137.7" r="1.35"/><circle cx="215.2" cy="138.0" r="1.35"/><circle cx="246.7" cy="125.7" r="1.35"/><circle cx="223.4" cy="136.9" r="1.35"/><circle cx="230.1" cy="137.0" r="1.35"/><circle cx="238.0" cy="134.1" r="1.35"/><circle cx="220.5" cy="128.3" r="1.35"/><circle cx="224.2" cy="132.9" r="1.35"/><circle cx="228.4" cy="135.1" r="1.35"/><circle cx="230.8" cy="136.8" r="1.35"/><circle cx="214.9" cy="143.2" r="1.35"/><circle cx="219.2" cy="137.0" r="1.35"/><circle cx="228.3" cy="133.6" r="1.35"/><circle cx="232.5" cy="133.3" r="1.35"/><circle cx="222.6" cy="136.8" r="1.35"/><circle cx="212.9" cy="134.5" r="1.35"/><circle cx="232.0" cy="131.6" r="1.35"/><circle cx="227.6" cy="134.6" r="1.35"/><circle cx="235.3" cy="133.7" r="1.35"/><circle cx="233.9" cy="131.3" r="1.35"/><circle cx="230.0" cy="128.3" r="1.35"/><circle cx="224.3" cy="135.3" r="1.35"/><circle cx="222.5" cy="137.2" r="1.35"/><circle cx="239.8" cy="126.3" r="1.35"/><circle cx="228.6" cy="131.4" r="1.35"/><circle cx="237.1" cy="130.4" r="1.35"/><circle cx="237.3" cy="139.2" r="1.35"/><circle cx="223.8" cy="131.9" r="1.35"/><circle cx="239.0" cy="133.4" r="1.35"/><circle cx="222.2" cy="135.3" r="1.35"/><circle cx="223.6" cy="137.5" r="1.35"/><circle cx="239.4" cy="136.5" r="1.35"/><circle cx="228.6" cy="124.6" r="1.35"/><circle cx="237.1" cy="132.4" r="1.35"/><circle cx="224.0" cy="132.1" r="1.35"/><circle cx="240.3" cy="131.2" r="1.35"/><circle cx="237.7" cy="133.4" r="1.35"/><circle cx="232.2" cy="134.7" r="1.35"/><circle cx="231.6" cy="128.3" r="1.35"/><circle cx="218.0" cy="134.1" r="1.35"/><circle cx="230.2" cy="136.2" r="1.35"/><circle cx="226.2" cy="130.5" r="1.35"/><circle cx="243.1" cy="131.1" r="1.35"/><circle cx="230.8" cy="140.4" r="1.35"/><circle cx="242.6" cy="133.5" r="1.35"/><circle cx="228.2" cy="138.6" r="1.35"/><circle cx="228.0" cy="138.5" r="1.35"/><circle cx="229.0" cy="131.8" r="1.35"/><circle cx="228.7" cy="132.6" r="1.35"/><circle cx="222.2" cy="127.7" r="1.35"/><circle cx="223.7" cy="141.5" r="1.35"/><circle cx="227.1" cy="137.1" r="1.35"/><circle cx="221.0" cy="135.3" r="1.35"/><circle cx="230.6" cy="138.8" r="1.35"/><circle cx="227.4" cy="127.8" r="1.35"/><circle cx="233.4" cy="134.5" r="1.35"/><circle cx="229.4" cy="134.3" r="1.35"/><circle cx="228.1" cy="130.7" r="1.35"/><circle cx="227.8" cy="144.0" r="1.35"/><circle cx="228.3" cy="137.6" r="1.35"/><circle cx="233.2" cy="136.4" r="1.35"/><circle cx="229.5" cy="124.6" r="1.35"/><circle cx="220.8" cy="138.6" r="1.35"/><circle cx="218.1" cy="144.0" r="1.35"/><circle cx="214.7" cy="132.3" r="1.35"/><circle cx="223.8" cy="141.7" r="1.35"/><circle cx="217.6" cy="131.2" r="1.35"/><circle cx="222.8" cy="135.4" r="1.35"/><circle cx="230.9" cy="128.1" r="1.35"/><circle cx="242.7" cy="129.4" r="1.35"/><circle cx="229.5" cy="133.0" r="1.35"/><circle cx="241.6" cy="127.8" r="1.35"/><circle cx="226.2" cy="131.9" r="1.35"/><circle cx="230.5" cy="133.6" r="1.35"/><circle cx="224.8" cy="139.4" r="1.35"/><circle cx="224.5" cy="140.4" r="1.35"/><circle cx="237.4" cy="131.5" r="1.35"/><circle cx="219.6" cy="127.9" r="1.35"/><circle cx="235.0" cy="141.9" r="1.35"/><circle cx="241.9" cy="130.4" r="1.35"/><circle cx="243.6" cy="139.0" r="1.35"/><circle cx="232.3" cy="132.0" r="1.35"/><circle cx="229.9" cy="133.1" r="1.35"/><circle cx="236.2" cy="140.2" r="1.35"/><circle cx="219.3" cy="139.7" r="1.35"/><circle cx="224.4" cy="136.4" r="1.35"/><circle cx="231.1" cy="132.7" r="1.35"/><circle cx="228.7" cy="136.7" r="1.35"/><circle cx="225.2" cy="129.8" r="1.35"/><circle cx="234.0" cy="133.4" r="1.35"/><circle cx="226.1" cy="127.2" r="1.35"/><circle cx="224.1" cy="131.1" r="1.35"/><circle cx="236.9" cy="134.9" r="1.35"/><circle cx="234.5" cy="138.5" r="1.35"/><circle cx="235.9" cy="133.0" r="1.35"/><circle cx="216.8" cy="131.0" r="1.35"/><circle cx="221.9" cy="128.4" r="1.35"/><circle cx="223.5" cy="134.5" r="1.35"/><circle cx="230.5" cy="135.2" r="1.35"/><circle cx="230.3" cy="136.2" r="1.35"/><circle cx="233.4" cy="133.8" r="1.35"/><circle cx="230.0" cy="145.5" r="1.35"/><circle cx="237.0" cy="133.7" r="1.35"/><circle cx="215.4" cy="133.4" r="1.35"/><circle cx="231.9" cy="129.3" r="1.35"/><circle cx="220.5" cy="127.2" r="1.35"/><circle cx="227.3" cy="123.7" r="1.35"/><circle cx="227.4" cy="130.9" r="1.35"/><circle cx="225.8" cy="138.5" r="1.35"/><circle cx="236.5" cy="130.0" r="1.35"/><circle cx="239.7" cy="130.2" r="1.35"/><circle cx="224.2" cy="140.9" r="1.35"/><circle cx="223.7" cy="136.7" r="1.35"/><circle cx="222.5" cy="131.3" r="1.35"/><circle cx="230.8" cy="135.0" r="1.35"/><circle cx="229.7" cy="134.4" r="1.35"/><circle cx="230.0" cy="130.6" r="1.35"/><circle cx="235.5" cy="136.7" r="1.35"/><circle cx="217.4" cy="127.8" r="1.35"/><circle cx="229.3" cy="129.1" r="1.35"/><circle cx="216.4" cy="135.2" r="1.35"/><circle cx="228.6" cy="139.9" r="1.35"/><circle cx="224.7" cy="130.7" r="1.35"/><circle cx="236.3" cy="127.0" r="1.35"/><circle cx="222.1" cy="139.8" r="1.35"/><circle cx="232.3" cy="129.8" r="1.35"/><circle cx="229.9" cy="139.3" r="1.35"/><circle cx="234.2" cy="130.5" r="1.35"/><circle cx="232.5" cy="135.9" r="1.35"/><circle cx="230.7" cy="130.5" r="1.35"/><circle cx="224.4" cy="141.6" r="1.35"/><circle cx="230.9" cy="131.8" r="1.35"/><circle cx="228.5" cy="130.0" r="1.35"/><circle cx="224.1" cy="134.2" r="1.35"/></g>
<g fill="#008000"><circle cx="177.2" cy="110.0" r="1.35"/><circle cx="178.8" cy="109.5" r="1.35"/><circle cx="180.4" cy="109.8" r="1.35"/><circle cx="182.0" cy="110.5" r="1.35"/><circle cx="179.6" cy="111.4" r="1.35"/><circle cx="182.9" cy="111.7" r="1.35"/><circle cx="176.4" cy="110.9" r="1.35"/><circle cx="181.2" cy="112.4" r="1.35"/></g>
<g fill="#000080"><circle cx="178.8" cy="118.0" r="1.35"/><circle cx="181.2" cy="117.1" r="1.35"/><circle cx="183.7" cy="118.5" r="1.35"/><circle cx="178.0" cy="119.9" r="1.35"/><circle cx="182.0" cy="120.4" r="1.35"/><circle cx="185.3" cy="120.8" r="1.35"/><circle cx="188.6" cy="121.3" r="1.35"/><circle cx="186.9" cy="119.4" r="1.35"/><circle cx="180.4" cy="119.0" r="1.35"/><circle cx="183.7" cy="121.8" r="1.35"/></g>
<path d="M104.48,55.54 L105.12,57.26 L106.95,57.34 L105.51,58.48 L106.00,60.25 L104.48,59.24 L102.95,60.25 L103.44,58.48 L102.00,57.34 L103.83,57.26Z" fill="#ff00ff"/>
<path d="M157.91,71.83 L158.55,73.54 L160.38,73.62 L158.95,74.77 L159.44,76.53 L157.91,75.52 L156.38,76.53 L156.87,74.77 L155.44,73.62 L157.27,73.54Z" fill="#ff00ff"/>
<path d="M204.15,62.04 L204.79,63.75 L206.63,63.83 L205.19,64.98 L205.68,66.74 L204.15,65.73 L202.62,66.74 L203.11,64.98 L201.68,63.83 L203.51,63.75Z" fill="#ff00ff"/>
<path d="M183.58,108.79 L184.22,110.51 L186.05,110.59 L184.62,111.73 L185.11,113.49 L183.58,112.48 L182.05,113.49 L182.54,111.73 L181.11,110.59 L182.94,110.51Z" fill="#ff00ff"/>
<path d="M183.88,112.29 L184.52,114.00 L186.35,114.08 L184.92,115.22 L185.41,116.99 L183.88,115.98 L182.35,116.99 L182.84,115.22 L181.40,114.08 L183.24,114.00Z" fill="#ff00ff"/>
<path d="M183.28,115.48 L183.92,117.20 L185.75,117.28 L184.32,118.42 L184.81,120.19 L183.28,119.17 L181.75,120.19 L182.24,118.42 L180.81,117.28 L182.64,117.20Z" fill="#ff00ff"/>
<path d="M228.22,131.17 L228.86,132.88 L230.70,132.96 L229.26,134.10 L229.75,135.87 L228.22,134.86 L226.69,135.87 L227.18,134.10 L225.75,132.96 L227.58,132.88Z" fill="#ff00ff"/>
<path d="M139.63,131.87 L140.27,133.58 L142.10,133.66 L140.67,134.80 L141.16,136.57 L139.63,135.56 L138.10,136.57 L138.59,134.80 L137.16,133.66 L138.99,133.58Z" fill="#ff00ff"/>
<rect x="22.1" y="3.3" width="238.5" height="177.1" fill="none" stroke="#6e6e6e" stroke-width="1.1"/>
<line x1="61.6" y1="180.4" x2="61.6" y2="182.9" stroke="#6e6e6e" stroke-width="0.8"/>
<text x="61.6" y="190.3" text-anchor="middle" class="tk">−15</text>
<line x1="102.3" y1="180.4" x2="102.3" y2="182.9" stroke="#6e6e6e" stroke-width="0.8"/>
<text x="102.3" y="190.3" text-anchor="middle" class="tk">−10</text>
<line x1="143.0" y1="180.4" x2="143.0" y2="182.9" stroke="#6e6e6e" stroke-width="0.8"/>
<text x="143.0" y="190.3" text-anchor="middle" class="tk">−5</text>
<line x1="183.7" y1="180.4" x2="183.7" y2="182.9" stroke="#6e6e6e" stroke-width="0.8"/>
<text x="183.7" y="190.3" text-anchor="middle" class="tk">0</text>
<line x1="224.4" y1="180.4" x2="224.4" y2="182.9" stroke="#6e6e6e" stroke-width="0.8"/>
<text x="224.4" y="190.3" text-anchor="middle" class="tk">5</text>
<line x1="19.6" y1="159.0" x2="22.1" y2="159.0" stroke="#6e6e6e" stroke-width="0.8"/>
<text x="16.8" y="161.1" text-anchor="end" class="tk">−15</text>
<line x1="19.6" y1="135.5" x2="22.1" y2="135.5" stroke="#6e6e6e" stroke-width="0.8"/>
<text x="16.8" y="137.6" text-anchor="end" class="tk">−10</text>
<line x1="19.6" y1="111.9" x2="22.1" y2="111.9" stroke="#6e6e6e" stroke-width="0.8"/>
<text x="16.8" y="114.0" text-anchor="end" class="tk">−5</text>
<line x1="19.6" y1="88.3" x2="22.1" y2="88.3" stroke="#6e6e6e" stroke-width="0.8"/>
<text x="16.8" y="90.4" text-anchor="end" class="tk">0</text>
<line x1="19.6" y1="64.7" x2="22.1" y2="64.7" stroke="#6e6e6e" stroke-width="0.8"/>
<text x="16.8" y="66.8" text-anchor="end" class="tk">5</text>
<line x1="19.6" y1="41.2" x2="22.1" y2="41.2" stroke="#6e6e6e" stroke-width="0.8"/>
<text x="16.8" y="43.3" text-anchor="end" class="tk">10</text>
<line x1="19.6" y1="17.6" x2="22.1" y2="17.6" stroke="#6e6e6e" stroke-width="0.8"/>
<text x="16.8" y="19.7" text-anchor="end" class="tk">15</text>
<text x="132.5" y="206.2" text-anchor="middle" class="lb" style="font-size:12.5px">(<tspan font-weight="bold">a</tspan>)</text>
<g fill="#767676"><circle cx="375.1" cy="18.3" r="1.35"/><circle cx="369.5" cy="25.3" r="1.35"/><circle cx="376.0" cy="28.1" r="1.35"/><circle cx="386.0" cy="34.3" r="1.35"/><circle cx="393.7" cy="36.6" r="1.35"/><circle cx="369.9" cy="40.3" r="1.35"/><circle cx="387.8" cy="45.4" r="1.35"/><circle cx="391.5" cy="49.1" r="1.35"/><circle cx="371.8" cy="51.9" r="1.35"/><circle cx="361.1" cy="54.9" r="1.35"/><circle cx="380.6" cy="53.0" r="1.35"/><circle cx="381.8" cy="54.2" r="1.35"/><circle cx="388.2" cy="53.0" r="1.35"/><circle cx="389.2" cy="55.5" r="1.35"/><circle cx="367.4" cy="57.5" r="1.35"/><circle cx="371.4" cy="59.3" r="1.35"/><circle cx="384.3" cy="57.6" r="1.35"/><circle cx="354.8" cy="60.0" r="1.35"/><circle cx="387.1" cy="61.3" r="1.35"/><circle cx="409.5" cy="25.3" r="1.35"/><circle cx="398.8" cy="29.5" r="1.35"/><circle cx="404.9" cy="33.4" r="1.35"/><circle cx="414.6" cy="36.2" r="1.35"/><circle cx="402.1" cy="39.2" r="1.35"/><circle cx="404.3" cy="40.8" r="1.35"/><circle cx="412.6" cy="42.6" r="1.35"/><circle cx="398.8" cy="46.1" r="1.35"/><circle cx="409.5" cy="46.1" r="1.35"/><circle cx="400.1" cy="50.3" r="1.35"/><circle cx="403.2" cy="51.7" r="1.35"/><circle cx="395.2" cy="52.4" r="1.35"/><circle cx="405.3" cy="54.7" r="1.35"/><circle cx="407.4" cy="57.2" r="1.35"/><circle cx="401.6" cy="57.5" r="1.35"/><circle cx="416.4" cy="56.5" r="1.35"/><circle cx="405.9" cy="60.0" r="1.35"/><circle cx="408.0" cy="59.3" r="1.35"/><circle cx="414.0" cy="60.7" r="1.35"/><circle cx="328.2" cy="66.1" r="1.35"/><circle cx="367.4" cy="59.1" r="1.35"/><circle cx="369.9" cy="63.3" r="1.35"/><circle cx="364.5" cy="69.6" r="1.35"/><circle cx="378.1" cy="67.4" r="1.35"/><circle cx="381.8" cy="66.9" r="1.35"/><circle cx="382.5" cy="65.8" r="1.35"/><circle cx="386.4" cy="68.9" r="1.35"/><circle cx="389.2" cy="69.2" r="1.35"/><circle cx="388.5" cy="72.0" r="1.35"/><circle cx="393.1" cy="64.7" r="1.35"/><circle cx="397.6" cy="64.1" r="1.35"/><circle cx="399.4" cy="68.9" r="1.35"/><circle cx="405.7" cy="67.4" r="1.35"/><circle cx="410.1" cy="65.0" r="1.35"/><circle cx="412.6" cy="66.5" r="1.35"/><circle cx="414.3" cy="67.9" r="1.35"/><circle cx="418.1" cy="65.5" r="1.35"/><circle cx="421.2" cy="64.4" r="1.35"/><circle cx="422.3" cy="65.8" r="1.35"/><circle cx="411.8" cy="67.9" r="1.35"/><circle cx="440.6" cy="11.8" r="1.35"/><circle cx="424.2" cy="22.5" r="1.35"/><circle cx="437.9" cy="22.5" r="1.35"/><circle cx="436.7" cy="24.6" r="1.35"/><circle cx="425.1" cy="27.0" r="1.35"/><circle cx="431.7" cy="26.7" r="1.35"/><circle cx="436.0" cy="27.0" r="1.35"/><circle cx="447.3" cy="26.4" r="1.35"/><circle cx="433.7" cy="33.9" r="1.35"/><circle cx="439.8" cy="34.3" r="1.35"/><circle cx="429.6" cy="35.7" r="1.35"/><circle cx="432.9" cy="39.9" r="1.35"/><circle cx="435.4" cy="44.1" r="1.35"/><circle cx="437.2" cy="43.3" r="1.35"/><circle cx="426.5" cy="44.1" r="1.35"/><circle cx="422.6" cy="47.5" r="1.35"/><circle cx="429.3" cy="48.8" r="1.35"/><circle cx="433.4" cy="47.5" r="1.35"/><circle cx="446.2" cy="48.2" r="1.35"/><circle cx="443.7" cy="49.6" r="1.35"/><circle cx="422.9" cy="50.9" r="1.35"/><circle cx="441.3" cy="51.7" r="1.35"/><circle cx="436.2" cy="51.7" r="1.35"/><circle cx="421.9" cy="53.7" r="1.35"/><circle cx="434.4" cy="54.2" r="1.35"/><circle cx="424.2" cy="55.8" r="1.35"/><circle cx="436.2" cy="56.1" r="1.35"/><circle cx="432.3" cy="57.2" r="1.35"/><circle cx="426.5" cy="58.3" r="1.35"/><circle cx="440.3" cy="58.3" r="1.35"/><circle cx="469.4" cy="79.8" r="1.35"/><circle cx="369.1" cy="81.1" r="1.35"/><circle cx="376.3" cy="83.2" r="1.35"/><circle cx="380.9" cy="78.0" r="1.35"/><circle cx="383.0" cy="79.0" r="1.35"/><circle cx="390.3" cy="77.5" r="1.35"/><circle cx="383.3" cy="88.4" r="1.35"/><circle cx="440.3" cy="61.6" r="1.35"/><circle cx="432.3" cy="64.7" r="1.35"/><circle cx="440.6" cy="66.5" r="1.35"/><circle cx="419.2" cy="69.9" r="1.35"/><circle cx="422.9" cy="71.0" r="1.35"/><circle cx="426.8" cy="70.2" r="1.35"/><circle cx="415.4" cy="72.5" r="1.35"/><circle cx="435.4" cy="70.2" r="1.35"/><circle cx="436.4" cy="71.3" r="1.35"/><circle cx="439.3" cy="72.0" r="1.35"/><circle cx="437.9" cy="70.7" r="1.35"/><circle cx="453.8" cy="71.0" r="1.35"/><circle cx="457.3" cy="71.6" r="1.35"/><circle cx="459.3" cy="73.8" r="1.35"/><circle cx="451.7" cy="74.8" r="1.35"/><circle cx="455.2" cy="76.2" r="1.35"/><circle cx="397.4" cy="76.6" r="1.35"/><circle cx="397.4" cy="80.3" r="1.35"/><circle cx="404.6" cy="79.9" r="1.35"/><circle cx="408.0" cy="80.3" r="1.35"/><circle cx="410.1" cy="79.6" r="1.35"/><circle cx="412.6" cy="83.2" r="1.35"/><circle cx="414.6" cy="85.2" r="1.35"/><circle cx="417.1" cy="84.9" r="1.35"/><circle cx="403.5" cy="86.6" r="1.35"/><circle cx="407.7" cy="87.7" r="1.35"/><circle cx="412.6" cy="87.9" r="1.35"/><circle cx="417.4" cy="87.9" r="1.35"/><circle cx="423.8" cy="86.6" r="1.35"/><circle cx="426.8" cy="81.7" r="1.35"/><circle cx="425.4" cy="85.2" r="1.35"/><circle cx="432.3" cy="80.3" r="1.35"/><circle cx="431.7" cy="83.8" r="1.35"/><circle cx="435.1" cy="80.8" r="1.35"/><circle cx="437.9" cy="77.5" r="1.35"/><circle cx="440.6" cy="79.6" r="1.35"/><circle cx="441.3" cy="81.7" r="1.35"/><circle cx="448.9" cy="79.0" r="1.35"/><circle cx="447.6" cy="81.7" r="1.35"/><circle cx="444.8" cy="84.9" r="1.35"/><circle cx="423.8" cy="91.0" r="1.35"/><circle cx="422.9" cy="92.8" r="1.35"/><circle cx="425.4" cy="94.2" r="1.35"/><circle cx="421.9" cy="95.5" r="1.35"/><circle cx="465.3" cy="80.3" r="1.35"/><circle cx="362.1" cy="101.5" r="1.35"/><circle cx="363.5" cy="105.0" r="1.35"/><circle cx="372.7" cy="103.6" r="1.35"/><circle cx="377.3" cy="106.0" r="1.35"/><circle cx="388.2" cy="100.1" r="1.35"/><circle cx="388.8" cy="101.8" r="1.35"/><circle cx="392.6" cy="104.6" r="1.35"/><circle cx="387.8" cy="107.4" r="1.35"/><circle cx="390.9" cy="108.2" r="1.35"/><circle cx="354.1" cy="109.1" r="1.35"/><circle cx="379.9" cy="110.6" r="1.35"/><circle cx="394.6" cy="92.8" r="1.35"/><circle cx="400.7" cy="94.6" r="1.35"/><circle cx="410.1" cy="95.5" r="1.35"/><circle cx="408.8" cy="97.6" r="1.35"/><circle cx="407.4" cy="100.1" r="1.35"/><circle cx="420.5" cy="97.9" r="1.35"/><circle cx="414.3" cy="101.8" r="1.35"/><circle cx="412.9" cy="103.0" r="1.35"/><circle cx="418.4" cy="104.6" r="1.35"/><circle cx="424.7" cy="102.5" r="1.35"/><circle cx="424.0" cy="106.0" r="1.35"/><circle cx="417.1" cy="109.1" r="1.35"/><circle cx="416.4" cy="111.3" r="1.35"/><circle cx="414.3" cy="110.4" r="1.35"/><circle cx="408.8" cy="113.2" r="1.35"/><circle cx="406.7" cy="114.3" r="1.35"/><circle cx="425.4" cy="112.9" r="1.35"/><circle cx="409.5" cy="114.8" r="1.35"/><circle cx="427.5" cy="114.8" r="1.35"/><circle cx="419.2" cy="114.1" r="1.35"/><circle cx="431.5" cy="104.8" r="1.35"/><circle cx="431.5" cy="106.3" r="1.35"/><circle cx="475.6" cy="76.7" r="1.35"/><circle cx="476.7" cy="73.0" r="1.35"/><circle cx="465.2" cy="72.5" r="1.35"/></g>
<g fill="#0000ff"><circle cx="442.1" cy="87.7" r="1.35"/><circle cx="436.4" cy="116.9" r="1.35"/><circle cx="489.1" cy="110.8" r="1.35"/><circle cx="492.2" cy="112.2" r="1.35"/><circle cx="460.7" cy="130.5" r="1.35"/><circle cx="464.2" cy="129.4" r="1.35"/><circle cx="445.9" cy="90.2" r="1.35"/><circle cx="453.6" cy="89.9" r="1.35"/><circle cx="455.7" cy="89.4" r="1.35"/><circle cx="439.4" cy="92.0" r="1.35"/><circle cx="442.7" cy="93.4" r="1.35"/><circle cx="470.7" cy="92.6" r="1.35"/><circle cx="440.6" cy="99.1" r="1.35"/><circle cx="442.7" cy="99.5" r="1.35"/><circle cx="445.6" cy="101.2" r="1.35"/><circle cx="466.7" cy="98.0" r="1.35"/><circle cx="472.8" cy="99.9" r="1.35"/><circle cx="474.4" cy="99.5" r="1.35"/><circle cx="437.3" cy="107.6" r="1.35"/><circle cx="443.8" cy="106.9" r="1.35"/><circle cx="446.3" cy="104.8" r="1.35"/><circle cx="450.0" cy="107.8" r="1.35"/><circle cx="451.6" cy="109.9" r="1.35"/><circle cx="453.6" cy="109.5" r="1.35"/><circle cx="457.3" cy="105.3" r="1.35"/><circle cx="461.4" cy="103.2" r="1.35"/><circle cx="436.4" cy="111.0" r="1.35"/><circle cx="438.1" cy="113.1" r="1.35"/><circle cx="446.3" cy="115.2" r="1.35"/><circle cx="446.8" cy="118.3" r="1.35"/><circle cx="450.0" cy="113.6" r="1.35"/><circle cx="456.3" cy="115.7" r="1.35"/><circle cx="456.7" cy="118.8" r="1.35"/><circle cx="452.1" cy="120.9" r="1.35"/><circle cx="457.3" cy="123.5" r="1.35"/><circle cx="485.3" cy="117.3" r="1.35"/><circle cx="463.5" cy="127.7" r="1.35"/><circle cx="463.5" cy="94.9" r="1.35"/><circle cx="469.7" cy="106.5" r="1.35"/><circle cx="479.5" cy="110.2" r="1.35"/><circle cx="463.7" cy="109.4" r="1.35"/><circle cx="474.9" cy="105.4" r="1.35"/><circle cx="478.1" cy="110.1" r="1.35"/><circle cx="478.6" cy="107.9" r="1.35"/><circle cx="473.8" cy="110.0" r="1.35"/><circle cx="470.5" cy="107.3" r="1.35"/><circle cx="464.5" cy="112.9" r="1.35"/><circle cx="472.3" cy="116.5" r="1.35"/><circle cx="469.1" cy="118.8" r="1.35"/><circle cx="467.2" cy="107.8" r="1.35"/><circle cx="476.5" cy="110.5" r="1.35"/><circle cx="470.6" cy="116.3" r="1.35"/><circle cx="485.8" cy="108.0" r="1.35"/><circle cx="480.4" cy="114.0" r="1.35"/><circle cx="470.9" cy="118.0" r="1.35"/><circle cx="478.0" cy="106.3" r="1.35"/><circle cx="458.3" cy="110.5" r="1.35"/><circle cx="476.9" cy="117.8" r="1.35"/><circle cx="458.8" cy="114.8" r="1.35"/><circle cx="467.6" cy="116.2" r="1.35"/><circle cx="472.5" cy="109.2" r="1.35"/><circle cx="477.0" cy="107.2" r="1.35"/><circle cx="483.4" cy="105.3" r="1.35"/><circle cx="462.6" cy="112.4" r="1.35"/><circle cx="464.5" cy="114.8" r="1.35"/><circle cx="471.7" cy="110.2" r="1.35"/><circle cx="475.9" cy="117.0" r="1.35"/><circle cx="463.1" cy="110.3" r="1.35"/><circle cx="470.8" cy="111.6" r="1.35"/><circle cx="471.8" cy="113.5" r="1.35"/><circle cx="477.5" cy="108.7" r="1.35"/><circle cx="471.6" cy="113.1" r="1.35"/><circle cx="471.0" cy="121.9" r="1.35"/><circle cx="465.0" cy="110.1" r="1.35"/><circle cx="461.2" cy="109.4" r="1.35"/><circle cx="473.4" cy="116.1" r="1.35"/><circle cx="470.4" cy="111.6" r="1.35"/><circle cx="475.7" cy="107.6" r="1.35"/><circle cx="472.0" cy="113.9" r="1.35"/><circle cx="471.2" cy="110.5" r="1.35"/><circle cx="477.7" cy="109.0" r="1.35"/><circle cx="466.9" cy="116.0" r="1.35"/><circle cx="469.5" cy="113.4" r="1.35"/><circle cx="464.1" cy="110.7" r="1.35"/><circle cx="468.7" cy="109.8" r="1.35"/><circle cx="476.1" cy="112.0" r="1.35"/><circle cx="489.4" cy="111.6" r="1.35"/><circle cx="480.4" cy="109.7" r="1.35"/><circle cx="480.5" cy="120.4" r="1.35"/><circle cx="466.7" cy="109.2" r="1.35"/><circle cx="476.7" cy="100.3" r="1.35"/><circle cx="474.7" cy="104.8" r="1.35"/><circle cx="477.9" cy="106.2" r="1.35"/><circle cx="476.0" cy="110.9" r="1.35"/><circle cx="476.0" cy="114.9" r="1.35"/><circle cx="481.0" cy="114.6" r="1.35"/><circle cx="474.1" cy="101.2" r="1.35"/><circle cx="470.6" cy="110.2" r="1.35"/><circle cx="480.9" cy="110.1" r="1.35"/><circle cx="466.3" cy="109.1" r="1.35"/><circle cx="476.6" cy="107.2" r="1.35"/><circle cx="466.6" cy="102.8" r="1.35"/><circle cx="484.6" cy="110.2" r="1.35"/><circle cx="474.3" cy="112.1" r="1.35"/><circle cx="482.7" cy="113.3" r="1.35"/><circle cx="477.3" cy="112.3" r="1.35"/><circle cx="467.2" cy="107.2" r="1.35"/><circle cx="482.1" cy="110.3" r="1.35"/><circle cx="467.3" cy="106.8" r="1.35"/><circle cx="471.9" cy="108.9" r="1.35"/><circle cx="483.5" cy="105.4" r="1.35"/><circle cx="468.4" cy="100.5" r="1.35"/><circle cx="472.3" cy="106.9" r="1.35"/><circle cx="467.5" cy="110.4" r="1.35"/><circle cx="459.4" cy="102.6" r="1.35"/><circle cx="482.4" cy="115.4" r="1.35"/><circle cx="461.2" cy="117.2" r="1.35"/><circle cx="481.0" cy="112.2" r="1.35"/><circle cx="471.8" cy="111.6" r="1.35"/><circle cx="471.4" cy="114.9" r="1.35"/><circle cx="472.5" cy="116.4" r="1.35"/><circle cx="471.8" cy="108.9" r="1.35"/><circle cx="475.7" cy="111.2" r="1.35"/><circle cx="465.6" cy="109.6" r="1.35"/><circle cx="468.7" cy="103.6" r="1.35"/><circle cx="477.9" cy="110.7" r="1.35"/><circle cx="468.8" cy="113.3" r="1.35"/><circle cx="465.4" cy="111.8" r="1.35"/><circle cx="474.5" cy="108.0" r="1.35"/><circle cx="476.5" cy="101.3" r="1.35"/><circle cx="467.1" cy="110.2" r="1.35"/><circle cx="468.4" cy="109.5" r="1.35"/><circle cx="473.4" cy="108.5" r="1.35"/><circle cx="470.5" cy="108.7" r="1.35"/><circle cx="472.7" cy="107.0" r="1.35"/><circle cx="458.3" cy="114.0" r="1.35"/><circle cx="472.3" cy="114.7" r="1.35"/><circle cx="464.6" cy="107.6" r="1.35"/><circle cx="467.5" cy="107.5" r="1.35"/><circle cx="477.8" cy="108.9" r="1.35"/><circle cx="476.0" cy="110.7" r="1.35"/><circle cx="461.9" cy="110.4" r="1.35"/><circle cx="475.6" cy="112.5" r="1.35"/><circle cx="471.5" cy="107.0" r="1.35"/><circle cx="465.8" cy="107.5" r="1.35"/><circle cx="486.0" cy="112.6" r="1.35"/><circle cx="473.4" cy="110.9" r="1.35"/><circle cx="483.6" cy="108.9" r="1.35"/><circle cx="478.9" cy="113.2" r="1.35"/><circle cx="472.2" cy="110.3" r="1.35"/><circle cx="459.2" cy="104.1" r="1.35"/><circle cx="478.9" cy="117.7" r="1.35"/><circle cx="477.8" cy="110.8" r="1.35"/><circle cx="475.6" cy="108.7" r="1.35"/><circle cx="461.2" cy="111.2" r="1.35"/><circle cx="483.3" cy="112.7" r="1.35"/><circle cx="464.7" cy="116.1" r="1.35"/><circle cx="463.3" cy="108.8" r="1.35"/><circle cx="484.8" cy="108.4" r="1.35"/><circle cx="474.1" cy="100.7" r="1.35"/><circle cx="468.4" cy="113.1" r="1.35"/><circle cx="476.2" cy="107.9" r="1.35"/><circle cx="464.8" cy="115.2" r="1.35"/><circle cx="474.4" cy="109.2" r="1.35"/><circle cx="462.6" cy="111.1" r="1.35"/><circle cx="468.3" cy="108.3" r="1.35"/><circle cx="471.4" cy="110.6" r="1.35"/><circle cx="469.7" cy="105.7" r="1.35"/><circle cx="482.5" cy="111.8" r="1.35"/><circle cx="478.5" cy="113.5" r="1.35"/><circle cx="472.8" cy="107.0" r="1.35"/><circle cx="483.5" cy="111.9" r="1.35"/><circle cx="471.7" cy="109.4" r="1.35"/><circle cx="461.2" cy="110.2" r="1.35"/><circle cx="467.3" cy="108.7" r="1.35"/><circle cx="463.9" cy="118.7" r="1.35"/><circle cx="472.6" cy="109.1" r="1.35"/><circle cx="468.2" cy="106.4" r="1.35"/><circle cx="470.3" cy="112.8" r="1.35"/><circle cx="475.8" cy="117.0" r="1.35"/><circle cx="467.3" cy="110.3" r="1.35"/><circle cx="478.5" cy="110.9" r="1.35"/><circle cx="474.6" cy="113.0" r="1.35"/><circle cx="474.5" cy="103.1" r="1.35"/><circle cx="467.2" cy="100.1" r="1.35"/><circle cx="467.5" cy="110.2" r="1.35"/><circle cx="473.6" cy="105.9" r="1.35"/><circle cx="463.2" cy="119.2" r="1.35"/><circle cx="476.8" cy="106.8" r="1.35"/><circle cx="476.9" cy="99.0" r="1.35"/><circle cx="473.8" cy="109.2" r="1.35"/><circle cx="479.1" cy="108.7" r="1.35"/><circle cx="484.6" cy="115.5" r="1.35"/><circle cx="478.3" cy="111.8" r="1.35"/><circle cx="479.1" cy="101.0" r="1.35"/><circle cx="472.2" cy="111.3" r="1.35"/><circle cx="468.6" cy="113.8" r="1.35"/><circle cx="467.6" cy="107.5" r="1.35"/><circle cx="472.6" cy="110.0" r="1.35"/><circle cx="471.0" cy="106.3" r="1.35"/><circle cx="475.9" cy="110.9" r="1.35"/><circle cx="477.2" cy="110.9" r="1.35"/><circle cx="463.8" cy="104.0" r="1.35"/><circle cx="475.7" cy="114.3" r="1.35"/><circle cx="480.2" cy="108.8" r="1.35"/><circle cx="460.7" cy="103.4" r="1.35"/><circle cx="474.7" cy="106.4" r="1.35"/><circle cx="473.7" cy="110.9" r="1.35"/><circle cx="460.9" cy="106.1" r="1.35"/><circle cx="472.5" cy="111.5" r="1.35"/><circle cx="474.9" cy="109.9" r="1.35"/><circle cx="477.3" cy="111.8" r="1.35"/><circle cx="472.0" cy="119.4" r="1.35"/><circle cx="469.2" cy="107.4" r="1.35"/><circle cx="482.1" cy="111.8" r="1.35"/><circle cx="471.4" cy="103.5" r="1.35"/><circle cx="469.9" cy="107.1" r="1.35"/><circle cx="484.7" cy="110.1" r="1.35"/><circle cx="481.3" cy="113.3" r="1.35"/><circle cx="473.8" cy="110.6" r="1.35"/><circle cx="473.1" cy="105.4" r="1.35"/><circle cx="489.9" cy="113.1" r="1.35"/><circle cx="468.0" cy="108.1" r="1.35"/><circle cx="464.5" cy="108.1" r="1.35"/><circle cx="476.5" cy="111.4" r="1.35"/><circle cx="476.2" cy="116.9" r="1.35"/><circle cx="477.9" cy="116.9" r="1.35"/><circle cx="467.1" cy="112.6" r="1.35"/><circle cx="469.3" cy="106.6" r="1.35"/><circle cx="472.9" cy="111.9" r="1.35"/><circle cx="476.3" cy="103.5" r="1.35"/><circle cx="472.3" cy="108.7" r="1.35"/><circle cx="481.4" cy="109.1" r="1.35"/><circle cx="462.8" cy="99.6" r="1.35"/><circle cx="488.6" cy="118.7" r="1.35"/><circle cx="472.0" cy="108.5" r="1.35"/><circle cx="479.4" cy="107.4" r="1.35"/><circle cx="470.3" cy="114.8" r="1.35"/><circle cx="473.0" cy="105.8" r="1.35"/><circle cx="464.2" cy="114.6" r="1.35"/><circle cx="472.1" cy="118.5" r="1.35"/><circle cx="470.4" cy="112.1" r="1.35"/><circle cx="475.6" cy="113.2" r="1.35"/><circle cx="465.8" cy="111.9" r="1.35"/><circle cx="471.9" cy="113.1" r="1.35"/><circle cx="472.4" cy="107.0" r="1.35"/><circle cx="481.0" cy="103.0" r="1.35"/><circle cx="466.5" cy="112.0" r="1.35"/><circle cx="454.0" cy="102.1" r="1.35"/><circle cx="466.9" cy="110.4" r="1.35"/><circle cx="476.1" cy="116.1" r="1.35"/><circle cx="475.7" cy="110.4" r="1.35"/><circle cx="458.8" cy="109.0" r="1.35"/><circle cx="481.1" cy="118.2" r="1.35"/><circle cx="478.2" cy="109.4" r="1.35"/><circle cx="475.8" cy="108.4" r="1.35"/><circle cx="481.9" cy="111.2" r="1.35"/><circle cx="478.7" cy="112.0" r="1.35"/><circle cx="477.7" cy="113.7" r="1.35"/><circle cx="471.5" cy="102.8" r="1.35"/><circle cx="475.6" cy="110.9" r="1.35"/><circle cx="463.8" cy="113.6" r="1.35"/><circle cx="473.7" cy="106.2" r="1.35"/><circle cx="475.4" cy="108.0" r="1.35"/><circle cx="472.0" cy="104.5" r="1.35"/><circle cx="469.4" cy="112.6" r="1.35"/><circle cx="478.8" cy="110.0" r="1.35"/><circle cx="470.2" cy="112.7" r="1.35"/><circle cx="465.7" cy="106.4" r="1.35"/><circle cx="467.2" cy="106.0" r="1.35"/><circle cx="468.8" cy="106.2" r="1.35"/><circle cx="470.3" cy="106.9" r="1.35"/><circle cx="468.0" cy="107.8" r="1.35"/><circle cx="471.1" cy="108.0" r="1.35"/><circle cx="464.9" cy="107.3" r="1.35"/><circle cx="469.6" cy="108.7" r="1.35"/><circle cx="467.2" cy="114.1" r="1.35"/><circle cx="469.6" cy="113.2" r="1.35"/><circle cx="471.9" cy="114.5" r="1.35"/><circle cx="466.5" cy="115.9" r="1.35"/><circle cx="470.3" cy="116.3" r="1.35"/><circle cx="473.4" cy="116.8" r="1.35"/><circle cx="476.6" cy="117.2" r="1.35"/><circle cx="475.0" cy="115.4" r="1.35"/><circle cx="468.8" cy="115.0" r="1.35"/><circle cx="471.9" cy="117.7" r="1.35"/></g>
<g fill="#ffc0cb"><circle cx="456.7" cy="29.8" r="1.35"/><circle cx="460.4" cy="33.9" r="1.35"/><circle cx="457.3" cy="45.4" r="1.35"/><circle cx="456.2" cy="46.8" r="1.35"/><circle cx="461.0" cy="49.6" r="1.35"/><circle cx="464.2" cy="51.7" r="1.35"/><circle cx="465.6" cy="53.0" r="1.35"/><circle cx="462.8" cy="53.7" r="1.35"/><circle cx="458.6" cy="55.1" r="1.35"/><circle cx="446.9" cy="56.5" r="1.35"/><circle cx="456.5" cy="56.1" r="1.35"/><circle cx="462.2" cy="55.8" r="1.35"/><circle cx="466.9" cy="55.1" r="1.35"/><circle cx="450.4" cy="60.0" r="1.35"/><circle cx="458.4" cy="58.6" r="1.35"/><circle cx="447.6" cy="60.7" r="1.35"/><circle cx="470.5" cy="33.4" r="1.35"/><circle cx="468.8" cy="53.8" r="1.35"/><circle cx="453.1" cy="63.7" r="1.35"/><circle cx="459.3" cy="66.5" r="1.35"/><circle cx="460.7" cy="65.5" r="1.35"/><circle cx="498.6" cy="43.3" r="1.35"/><circle cx="479.4" cy="52.4" r="1.35"/><circle cx="503.1" cy="51.4" r="1.35"/><circle cx="496.8" cy="52.7" r="1.35"/><circle cx="508.9" cy="58.6" r="1.35"/><circle cx="470.9" cy="62.7" r="1.35"/><circle cx="472.0" cy="70.5" r="1.35"/><circle cx="513.5" cy="62.7" r="1.35"/><circle cx="495.9" cy="74.6" r="1.35"/><circle cx="499.5" cy="73.0" r="1.35"/><circle cx="509.9" cy="65.8" r="1.35"/><circle cx="491.4" cy="61.0" r="1.35"/><circle cx="491.5" cy="64.6" r="1.35"/><circle cx="487.4" cy="64.1" r="1.35"/><circle cx="499.3" cy="61.4" r="1.35"/><circle cx="498.9" cy="62.2" r="1.35"/><circle cx="495.2" cy="62.4" r="1.35"/><circle cx="483.2" cy="59.6" r="1.35"/><circle cx="495.8" cy="61.1" r="1.35"/><circle cx="483.0" cy="70.7" r="1.35"/><circle cx="487.7" cy="65.2" r="1.35"/><circle cx="494.6" cy="63.4" r="1.35"/><circle cx="495.9" cy="66.0" r="1.35"/><circle cx="494.7" cy="61.5" r="1.35"/><circle cx="489.0" cy="55.9" r="1.35"/><circle cx="496.1" cy="58.1" r="1.35"/><circle cx="489.3" cy="66.4" r="1.35"/><circle cx="490.9" cy="63.7" r="1.35"/><circle cx="496.5" cy="62.2" r="1.35"/><circle cx="490.3" cy="67.3" r="1.35"/><circle cx="489.8" cy="58.0" r="1.35"/><circle cx="488.2" cy="62.2" r="1.35"/><circle cx="495.4" cy="69.6" r="1.35"/><circle cx="493.1" cy="57.6" r="1.35"/><circle cx="481.1" cy="64.6" r="1.35"/><circle cx="492.2" cy="66.7" r="1.35"/><circle cx="495.8" cy="63.5" r="1.35"/><circle cx="484.3" cy="59.7" r="1.35"/><circle cx="496.8" cy="59.2" r="1.35"/><circle cx="501.3" cy="61.7" r="1.35"/><circle cx="493.6" cy="68.8" r="1.35"/><circle cx="496.5" cy="65.8" r="1.35"/><circle cx="490.2" cy="68.6" r="1.35"/><circle cx="487.2" cy="65.5" r="1.35"/><circle cx="500.4" cy="71.9" r="1.35"/><circle cx="484.4" cy="62.2" r="1.35"/><circle cx="501.3" cy="60.8" r="1.35"/><circle cx="481.8" cy="74.0" r="1.35"/><circle cx="494.9" cy="66.4" r="1.35"/><circle cx="486.3" cy="59.1" r="1.35"/><circle cx="499.3" cy="62.6" r="1.35"/><circle cx="494.3" cy="61.4" r="1.35"/><circle cx="502.2" cy="60.6" r="1.35"/><circle cx="495.9" cy="60.9" r="1.35"/><circle cx="483.7" cy="57.7" r="1.35"/><circle cx="498.4" cy="61.0" r="1.35"/><circle cx="481.4" cy="65.9" r="1.35"/><circle cx="497.8" cy="71.0" r="1.35"/><circle cx="491.8" cy="58.9" r="1.35"/><circle cx="485.2" cy="56.3" r="1.35"/><circle cx="496.1" cy="63.9" r="1.35"/><circle cx="494.8" cy="60.5" r="1.35"/><circle cx="493.6" cy="58.3" r="1.35"/><circle cx="489.0" cy="65.0" r="1.35"/><circle cx="498.9" cy="63.1" r="1.35"/><circle cx="487.7" cy="59.2" r="1.35"/><circle cx="501.4" cy="65.1" r="1.35"/><circle cx="484.8" cy="63.8" r="1.35"/><circle cx="492.0" cy="64.5" r="1.35"/><circle cx="501.1" cy="67.6" r="1.35"/><circle cx="500.2" cy="68.6" r="1.35"/><circle cx="488.3" cy="60.5" r="1.35"/><circle cx="499.4" cy="59.6" r="1.35"/><circle cx="494.9" cy="62.6" r="1.35"/><circle cx="493.8" cy="60.8" r="1.35"/><circle cx="491.8" cy="62.0" r="1.35"/><circle cx="496.2" cy="63.2" r="1.35"/><circle cx="497.3" cy="60.8" r="1.35"/><circle cx="504.6" cy="61.8" r="1.35"/><circle cx="490.4" cy="64.8" r="1.35"/><circle cx="492.8" cy="59.3" r="1.35"/><circle cx="490.9" cy="61.6" r="1.35"/><circle cx="503.6" cy="74.2" r="1.35"/><circle cx="486.3" cy="62.2" r="1.35"/><circle cx="495.2" cy="62.2" r="1.35"/><circle cx="490.4" cy="60.4" r="1.35"/><circle cx="494.5" cy="65.5" r="1.35"/><circle cx="507.0" cy="61.7" r="1.35"/><circle cx="489.6" cy="63.7" r="1.35"/><circle cx="491.6" cy="63.5" r="1.35"/><circle cx="477.0" cy="65.3" r="1.35"/><circle cx="498.7" cy="68.2" r="1.35"/><circle cx="492.5" cy="59.2" r="1.35"/><circle cx="497.9" cy="56.9" r="1.35"/><circle cx="483.0" cy="64.7" r="1.35"/><circle cx="490.9" cy="60.6" r="1.35"/><circle cx="499.2" cy="74.7" r="1.35"/><circle cx="499.2" cy="69.4" r="1.35"/><circle cx="496.8" cy="69.6" r="1.35"/><circle cx="493.9" cy="58.1" r="1.35"/><circle cx="492.0" cy="62.4" r="1.35"/><circle cx="497.5" cy="62.6" r="1.35"/><circle cx="492.4" cy="56.7" r="1.35"/><circle cx="499.0" cy="64.5" r="1.35"/><circle cx="508.9" cy="68.1" r="1.35"/><circle cx="498.2" cy="64.4" r="1.35"/><circle cx="493.6" cy="60.2" r="1.35"/><circle cx="494.2" cy="60.5" r="1.35"/><circle cx="484.0" cy="69.7" r="1.35"/><circle cx="496.4" cy="67.3" r="1.35"/><circle cx="486.9" cy="69.5" r="1.35"/><circle cx="500.2" cy="60.0" r="1.35"/><circle cx="501.4" cy="67.2" r="1.35"/><circle cx="492.9" cy="68.1" r="1.35"/><circle cx="497.3" cy="56.4" r="1.35"/><circle cx="487.7" cy="56.6" r="1.35"/><circle cx="498.6" cy="64.0" r="1.35"/><circle cx="481.4" cy="57.2" r="1.35"/><circle cx="492.3" cy="65.8" r="1.35"/><circle cx="495.2" cy="61.5" r="1.35"/><circle cx="501.6" cy="67.6" r="1.35"/><circle cx="499.5" cy="56.9" r="1.35"/><circle cx="501.3" cy="64.0" r="1.35"/><circle cx="488.5" cy="58.9" r="1.35"/><circle cx="493.5" cy="62.7" r="1.35"/><circle cx="501.2" cy="64.4" r="1.35"/><circle cx="479.5" cy="64.9" r="1.35"/><circle cx="482.1" cy="59.7" r="1.35"/><circle cx="494.7" cy="65.8" r="1.35"/><circle cx="492.8" cy="59.7" r="1.35"/><circle cx="493.3" cy="57.6" r="1.35"/><circle cx="492.5" cy="58.8" r="1.35"/><circle cx="501.6" cy="56.3" r="1.35"/><circle cx="489.0" cy="59.5" r="1.35"/><circle cx="481.9" cy="67.9" r="1.35"/><circle cx="481.4" cy="58.7" r="1.35"/><circle cx="485.7" cy="63.3" r="1.35"/><circle cx="491.7" cy="63.4" r="1.35"/><circle cx="489.4" cy="62.2" r="1.35"/><circle cx="503.3" cy="63.0" r="1.35"/><circle cx="496.0" cy="59.0" r="1.35"/><circle cx="491.7" cy="68.6" r="1.35"/><circle cx="489.6" cy="58.6" r="1.35"/><circle cx="483.3" cy="65.8" r="1.35"/><circle cx="498.7" cy="59.8" r="1.35"/><circle cx="492.9" cy="59.8" r="1.35"/><circle cx="493.8" cy="68.3" r="1.35"/><circle cx="483.8" cy="66.0" r="1.35"/><circle cx="498.2" cy="65.6" r="1.35"/><circle cx="487.6" cy="66.5" r="1.35"/><circle cx="483.9" cy="63.7" r="1.35"/><circle cx="486.0" cy="61.7" r="1.35"/><circle cx="479.1" cy="61.8" r="1.35"/><circle cx="489.1" cy="71.5" r="1.35"/><circle cx="497.1" cy="64.4" r="1.35"/><circle cx="479.9" cy="67.0" r="1.35"/><circle cx="494.6" cy="65.2" r="1.35"/><circle cx="497.4" cy="60.0" r="1.35"/><circle cx="496.7" cy="61.8" r="1.35"/><circle cx="500.6" cy="60.4" r="1.35"/><circle cx="495.5" cy="72.1" r="1.35"/><circle cx="498.1" cy="57.6" r="1.35"/><circle cx="491.1" cy="65.2" r="1.35"/><circle cx="504.2" cy="70.7" r="1.35"/><circle cx="495.6" cy="52.9" r="1.35"/><circle cx="487.5" cy="60.3" r="1.35"/><circle cx="503.9" cy="63.7" r="1.35"/><circle cx="496.1" cy="59.4" r="1.35"/><circle cx="487.6" cy="63.6" r="1.35"/><circle cx="494.6" cy="59.7" r="1.35"/><circle cx="492.7" cy="64.1" r="1.35"/><circle cx="486.9" cy="64.8" r="1.35"/><circle cx="498.1" cy="62.8" r="1.35"/><circle cx="487.9" cy="66.8" r="1.35"/><circle cx="508.4" cy="58.4" r="1.35"/><circle cx="496.6" cy="74.3" r="1.35"/><circle cx="496.5" cy="61.2" r="1.35"/><circle cx="502.7" cy="61.4" r="1.35"/><circle cx="492.5" cy="61.0" r="1.35"/><circle cx="481.5" cy="58.8" r="1.35"/><circle cx="494.8" cy="66.2" r="1.35"/><circle cx="500.6" cy="55.5" r="1.35"/><circle cx="484.7" cy="66.1" r="1.35"/><circle cx="494.6" cy="62.4" r="1.35"/><circle cx="490.5" cy="67.4" r="1.35"/><circle cx="505.2" cy="58.8" r="1.35"/><circle cx="485.9" cy="69.0" r="1.35"/><circle cx="502.8" cy="59.0" r="1.35"/><circle cx="503.5" cy="59.8" r="1.35"/><circle cx="487.8" cy="62.1" r="1.35"/><circle cx="480.3" cy="66.4" r="1.35"/><circle cx="492.5" cy="61.0" r="1.35"/><circle cx="488.6" cy="63.8" r="1.35"/><circle cx="495.5" cy="61.6" r="1.35"/><circle cx="496.6" cy="62.3" r="1.35"/><circle cx="491.0" cy="59.9" r="1.35"/><circle cx="493.2" cy="66.8" r="1.35"/><circle cx="489.2" cy="63.2" r="1.35"/><circle cx="492.2" cy="62.6" r="1.35"/><circle cx="492.9" cy="62.5" r="1.35"/><circle cx="492.1" cy="68.6" r="1.35"/><circle cx="495.3" cy="58.7" r="1.35"/><circle cx="495.4" cy="64.0" r="1.35"/><circle cx="495.5" cy="67.4" r="1.35"/><circle cx="481.8" cy="63.0" r="1.35"/><circle cx="487.4" cy="60.1" r="1.35"/><circle cx="486.6" cy="74.5" r="1.35"/><circle cx="486.8" cy="56.5" r="1.35"/><circle cx="490.6" cy="69.1" r="1.35"/><circle cx="488.4" cy="61.0" r="1.35"/><circle cx="495.8" cy="62.5" r="1.35"/><circle cx="501.5" cy="60.2" r="1.35"/><circle cx="492.7" cy="60.7" r="1.35"/><circle cx="502.5" cy="59.1" r="1.35"/><circle cx="498.8" cy="67.9" r="1.35"/><circle cx="492.0" cy="60.1" r="1.35"/><circle cx="491.1" cy="58.7" r="1.35"/><circle cx="496.3" cy="59.3" r="1.35"/><circle cx="491.6" cy="52.3" r="1.35"/><circle cx="500.1" cy="64.1" r="1.35"/><circle cx="493.4" cy="52.1" r="1.35"/></g>
<g fill="#ff0000"><circle cx="494.7" cy="131.0" r="1.35"/><circle cx="498.6" cy="136.3" r="1.35"/><circle cx="521.7" cy="142.5" r="1.35"/><circle cx="528.7" cy="137.7" r="1.35"/><circle cx="534.9" cy="133.6" r="1.35"/><circle cx="523.8" cy="117.2" r="1.35"/><circle cx="516.2" cy="117.2" r="1.35"/><circle cx="502.3" cy="122.1" r="1.35"/><circle cx="512.8" cy="126.6" r="1.35"/><circle cx="517.1" cy="134.0" r="1.35"/><circle cx="517.6" cy="128.4" r="1.35"/><circle cx="507.6" cy="126.0" r="1.35"/><circle cx="512.7" cy="130.5" r="1.35"/><circle cx="520.2" cy="123.8" r="1.35"/><circle cx="509.8" cy="127.4" r="1.35"/><circle cx="508.5" cy="119.8" r="1.35"/><circle cx="511.2" cy="124.3" r="1.35"/><circle cx="510.1" cy="125.9" r="1.35"/><circle cx="511.6" cy="127.1" r="1.35"/><circle cx="514.0" cy="131.9" r="1.35"/><circle cx="529.7" cy="128.8" r="1.35"/><circle cx="503.1" cy="125.7" r="1.35"/><circle cx="502.6" cy="124.5" r="1.35"/><circle cx="510.6" cy="128.6" r="1.35"/><circle cx="523.4" cy="128.7" r="1.35"/><circle cx="504.9" cy="136.0" r="1.35"/><circle cx="522.9" cy="126.1" r="1.35"/><circle cx="508.9" cy="125.7" r="1.35"/><circle cx="518.1" cy="126.5" r="1.35"/><circle cx="498.8" cy="130.4" r="1.35"/><circle cx="520.9" cy="126.2" r="1.35"/><circle cx="520.8" cy="139.1" r="1.35"/><circle cx="515.8" cy="127.2" r="1.35"/><circle cx="532.5" cy="133.0" r="1.35"/><circle cx="512.3" cy="129.0" r="1.35"/><circle cx="520.8" cy="130.9" r="1.35"/><circle cx="522.6" cy="132.3" r="1.35"/><circle cx="516.5" cy="131.3" r="1.35"/><circle cx="515.7" cy="131.9" r="1.35"/><circle cx="503.4" cy="124.7" r="1.35"/><circle cx="516.7" cy="131.4" r="1.35"/><circle cx="516.0" cy="125.1" r="1.35"/><circle cx="507.8" cy="129.6" r="1.35"/><circle cx="518.4" cy="127.0" r="1.35"/><circle cx="512.3" cy="137.7" r="1.35"/><circle cx="523.3" cy="127.8" r="1.35"/><circle cx="514.7" cy="130.3" r="1.35"/><circle cx="516.5" cy="130.9" r="1.35"/><circle cx="507.5" cy="132.1" r="1.35"/><circle cx="510.4" cy="131.6" r="1.35"/><circle cx="506.5" cy="126.6" r="1.35"/><circle cx="505.5" cy="126.5" r="1.35"/><circle cx="507.5" cy="127.7" r="1.35"/><circle cx="524.2" cy="128.3" r="1.35"/><circle cx="509.5" cy="128.9" r="1.35"/><circle cx="515.7" cy="136.2" r="1.35"/><circle cx="510.4" cy="128.5" r="1.35"/><circle cx="511.3" cy="128.8" r="1.35"/><circle cx="519.7" cy="126.0" r="1.35"/><circle cx="520.9" cy="126.8" r="1.35"/><circle cx="512.6" cy="129.2" r="1.35"/><circle cx="512.7" cy="130.4" r="1.35"/><circle cx="513.4" cy="136.1" r="1.35"/><circle cx="512.3" cy="129.2" r="1.35"/><circle cx="507.8" cy="129.2" r="1.35"/><circle cx="518.2" cy="129.8" r="1.35"/><circle cx="513.2" cy="136.5" r="1.35"/><circle cx="521.5" cy="118.4" r="1.35"/><circle cx="497.1" cy="128.6" r="1.35"/><circle cx="518.2" cy="130.4" r="1.35"/><circle cx="518.5" cy="138.2" r="1.35"/><circle cx="520.6" cy="127.6" r="1.35"/><circle cx="514.8" cy="131.5" r="1.35"/><circle cx="519.1" cy="131.1" r="1.35"/><circle cx="516.2" cy="131.2" r="1.35"/><circle cx="498.9" cy="129.3" r="1.35"/><circle cx="516.0" cy="126.1" r="1.35"/><circle cx="508.5" cy="129.3" r="1.35"/><circle cx="518.9" cy="128.6" r="1.35"/><circle cx="523.3" cy="121.1" r="1.35"/><circle cx="508.3" cy="136.9" r="1.35"/><circle cx="520.6" cy="123.0" r="1.35"/><circle cx="521.1" cy="125.8" r="1.35"/><circle cx="510.3" cy="132.0" r="1.35"/><circle cx="520.8" cy="132.8" r="1.35"/><circle cx="501.9" cy="133.2" r="1.35"/><circle cx="532.0" cy="121.4" r="1.35"/><circle cx="509.8" cy="132.1" r="1.35"/><circle cx="516.2" cy="132.2" r="1.35"/><circle cx="523.8" cy="129.5" r="1.35"/><circle cx="507.0" cy="123.8" r="1.35"/><circle cx="510.5" cy="128.2" r="1.35"/><circle cx="514.5" cy="130.4" r="1.35"/><circle cx="516.9" cy="131.9" r="1.35"/><circle cx="501.7" cy="138.1" r="1.35"/><circle cx="505.8" cy="132.2" r="1.35"/><circle cx="514.5" cy="128.9" r="1.35"/><circle cx="518.5" cy="128.7" r="1.35"/><circle cx="509.1" cy="132.0" r="1.35"/><circle cx="499.8" cy="129.8" r="1.35"/><circle cx="518.0" cy="127.0" r="1.35"/><circle cx="513.8" cy="129.9" r="1.35"/><circle cx="521.2" cy="129.1" r="1.35"/><circle cx="519.8" cy="126.8" r="1.35"/><circle cx="516.1" cy="123.9" r="1.35"/><circle cx="510.6" cy="130.6" r="1.35"/><circle cx="509.0" cy="132.4" r="1.35"/><circle cx="525.5" cy="122.0" r="1.35"/><circle cx="514.8" cy="126.8" r="1.35"/><circle cx="522.8" cy="125.9" r="1.35"/><circle cx="523.0" cy="134.3" r="1.35"/><circle cx="510.1" cy="127.3" r="1.35"/><circle cx="524.7" cy="128.7" r="1.35"/><circle cx="508.6" cy="130.6" r="1.35"/><circle cx="510.0" cy="132.6" r="1.35"/><circle cx="525.1" cy="131.7" r="1.35"/><circle cx="514.8" cy="120.4" r="1.35"/><circle cx="522.9" cy="127.8" r="1.35"/><circle cx="510.3" cy="127.5" r="1.35"/><circle cx="526.0" cy="126.6" r="1.35"/><circle cx="523.4" cy="128.7" r="1.35"/><circle cx="518.2" cy="130.0" r="1.35"/><circle cx="517.6" cy="123.9" r="1.35"/><circle cx="504.6" cy="129.4" r="1.35"/><circle cx="516.3" cy="131.5" r="1.35"/><circle cx="512.5" cy="126.0" r="1.35"/><circle cx="528.6" cy="126.6" r="1.35"/><circle cx="516.9" cy="135.4" r="1.35"/><circle cx="528.1" cy="128.8" r="1.35"/><circle cx="514.4" cy="133.7" r="1.35"/><circle cx="514.2" cy="133.6" r="1.35"/><circle cx="515.1" cy="127.3" r="1.35"/><circle cx="514.8" cy="128.0" r="1.35"/><circle cx="508.7" cy="123.4" r="1.35"/><circle cx="510.0" cy="136.5" r="1.35"/><circle cx="513.3" cy="132.2" r="1.35"/><circle cx="507.6" cy="130.6" r="1.35"/><circle cx="516.7" cy="133.9" r="1.35"/><circle cx="513.7" cy="123.4" r="1.35"/><circle cx="519.4" cy="129.8" r="1.35"/><circle cx="515.5" cy="129.6" r="1.35"/><circle cx="514.3" cy="126.2" r="1.35"/><circle cx="514.0" cy="138.9" r="1.35"/><circle cx="514.5" cy="132.7" r="1.35"/><circle cx="519.2" cy="131.6" r="1.35"/><circle cx="515.7" cy="120.3" r="1.35"/><circle cx="507.3" cy="133.7" r="1.35"/><circle cx="504.7" cy="138.8" r="1.35"/><circle cx="501.5" cy="127.7" r="1.35"/><circle cx="510.2" cy="136.7" r="1.35"/><circle cx="504.3" cy="126.6" r="1.35"/><circle cx="509.2" cy="130.6" r="1.35"/><circle cx="516.9" cy="123.7" r="1.35"/><circle cx="528.2" cy="125.0" r="1.35"/><circle cx="515.6" cy="128.4" r="1.35"/><circle cx="527.2" cy="123.4" r="1.35"/><circle cx="512.4" cy="127.3" r="1.35"/><circle cx="516.6" cy="128.9" r="1.35"/><circle cx="511.1" cy="134.5" r="1.35"/><circle cx="510.9" cy="135.4" r="1.35"/><circle cx="523.2" cy="127.0" r="1.35"/><circle cx="506.2" cy="123.5" r="1.35"/><circle cx="520.9" cy="136.9" r="1.35"/><circle cx="527.5" cy="125.9" r="1.35"/><circle cx="529.0" cy="134.1" r="1.35"/><circle cx="518.3" cy="127.4" r="1.35"/><circle cx="516.0" cy="128.5" r="1.35"/><circle cx="522.0" cy="135.2" r="1.35"/><circle cx="505.9" cy="134.8" r="1.35"/><circle cx="510.7" cy="131.6" r="1.35"/><circle cx="517.2" cy="128.1" r="1.35"/><circle cx="514.8" cy="131.9" r="1.35"/><circle cx="511.5" cy="125.3" r="1.35"/><circle cx="520.0" cy="128.7" r="1.35"/><circle cx="512.4" cy="122.9" r="1.35"/><circle cx="510.5" cy="126.5" r="1.35"/><circle cx="522.7" cy="130.2" r="1.35"/><circle cx="520.4" cy="133.7" r="1.35"/><circle cx="521.7" cy="128.3" r="1.35"/><circle cx="503.5" cy="126.4" r="1.35"/><circle cx="508.4" cy="124.0" r="1.35"/><circle cx="509.9" cy="129.8" r="1.35"/><circle cx="516.6" cy="130.5" r="1.35"/><circle cx="516.4" cy="131.4" r="1.35"/><circle cx="519.3" cy="129.1" r="1.35"/><circle cx="516.1" cy="140.3" r="1.35"/><circle cx="522.7" cy="129.0" r="1.35"/><circle cx="502.2" cy="128.8" r="1.35"/><circle cx="517.9" cy="124.8" r="1.35"/><circle cx="507.0" cy="122.9" r="1.35"/><circle cx="513.5" cy="119.4" r="1.35"/><circle cx="513.6" cy="126.4" r="1.35"/><circle cx="512.1" cy="133.7" r="1.35"/><circle cx="522.3" cy="125.5" r="1.35"/><circle cx="525.4" cy="125.7" r="1.35"/><circle cx="510.6" cy="135.9" r="1.35"/><circle cx="510.1" cy="131.9" r="1.35"/><circle cx="508.9" cy="126.8" r="1.35"/><circle cx="516.9" cy="130.2" r="1.35"/><circle cx="515.8" cy="129.7" r="1.35"/><circle cx="516.1" cy="126.1" r="1.35"/><circle cx="521.3" cy="131.9" r="1.35"/><circle cx="504.1" cy="123.4" r="1.35"/><circle cx="515.4" cy="124.7" r="1.35"/><circle cx="503.1" cy="130.5" r="1.35"/><circle cx="514.8" cy="135.0" r="1.35"/><circle cx="511.0" cy="126.2" r="1.35"/><circle cx="522.2" cy="122.7" r="1.35"/><circle cx="508.6" cy="134.8" r="1.35"/><circle cx="518.3" cy="125.3" r="1.35"/><circle cx="516.0" cy="134.4" r="1.35"/><circle cx="520.1" cy="125.9" r="1.35"/><circle cx="518.5" cy="131.1" r="1.35"/><circle cx="516.7" cy="125.9" r="1.35"/><circle cx="510.7" cy="136.6" r="1.35"/><circle cx="516.9" cy="127.2" r="1.35"/><circle cx="514.7" cy="125.5" r="1.35"/><circle cx="510.5" cy="129.5" r="1.35"/></g>
<g fill="#ffa500"><circle cx="361.9" cy="113.2" r="1.35"/><circle cx="399.1" cy="108.0" r="1.35"/><circle cx="400.4" cy="111.6" r="1.35"/><circle cx="421.2" cy="115.0" r="1.35"/><circle cx="397.4" cy="115.0" r="1.35"/><circle cx="350.1" cy="118.7" r="1.35"/><circle cx="362.9" cy="119.0" r="1.35"/><circle cx="365.6" cy="116.9" r="1.35"/><circle cx="368.4" cy="117.2" r="1.35"/><circle cx="371.1" cy="117.2" r="1.35"/><circle cx="389.5" cy="117.2" r="1.35"/><circle cx="379.1" cy="119.9" r="1.35"/><circle cx="381.8" cy="123.9" r="1.35"/><circle cx="384.8" cy="122.4" r="1.35"/><circle cx="390.6" cy="124.1" r="1.35"/><circle cx="363.9" cy="125.2" r="1.35"/><circle cx="357.0" cy="128.0" r="1.35"/><circle cx="371.5" cy="128.7" r="1.35"/><circle cx="373.9" cy="130.8" r="1.35"/><circle cx="380.2" cy="128.2" r="1.35"/><circle cx="389.5" cy="128.0" r="1.35"/><circle cx="342.5" cy="130.1" r="1.35"/><circle cx="348.8" cy="129.8" r="1.35"/><circle cx="357.0" cy="136.6" r="1.35"/><circle cx="362.1" cy="134.9" r="1.35"/><circle cx="386.8" cy="135.6" r="1.35"/><circle cx="391.3" cy="134.9" r="1.35"/><circle cx="391.9" cy="133.6" r="1.35"/><circle cx="391.0" cy="141.2" r="1.35"/><circle cx="370.2" cy="145.8" r="1.35"/><circle cx="389.5" cy="151.3" r="1.35"/><circle cx="358.9" cy="155.7" r="1.35"/><circle cx="365.0" cy="155.4" r="1.35"/><circle cx="381.3" cy="155.4" r="1.35"/><circle cx="389.2" cy="165.4" r="1.35"/><circle cx="407.4" cy="115.6" r="1.35"/><circle cx="405.9" cy="119.0" r="1.35"/><circle cx="400.4" cy="119.0" r="1.35"/><circle cx="397.0" cy="121.4" r="1.35"/><circle cx="399.1" cy="122.7" r="1.35"/><circle cx="403.2" cy="121.8" r="1.35"/><circle cx="405.7" cy="124.5" r="1.35"/><circle cx="410.1" cy="121.4" r="1.35"/><circle cx="415.9" cy="122.4" r="1.35"/><circle cx="419.9" cy="121.8" r="1.35"/><circle cx="424.0" cy="121.4" r="1.35"/><circle cx="426.8" cy="119.9" r="1.35"/><circle cx="432.3" cy="119.9" r="1.35"/><circle cx="433.0" cy="121.8" r="1.35"/><circle cx="434.4" cy="122.7" r="1.35"/><circle cx="435.1" cy="116.2" r="1.35"/><circle cx="417.8" cy="124.5" r="1.35"/><circle cx="418.4" cy="126.6" r="1.35"/><circle cx="420.5" cy="126.0" r="1.35"/><circle cx="424.7" cy="126.6" r="1.35"/><circle cx="429.6" cy="125.5" r="1.35"/><circle cx="415.0" cy="128.7" r="1.35"/><circle cx="417.1" cy="130.8" r="1.35"/><circle cx="399.1" cy="128.0" r="1.35"/><circle cx="400.7" cy="126.9" r="1.35"/><circle cx="408.0" cy="131.0" r="1.35"/><circle cx="412.9" cy="132.8" r="1.35"/><circle cx="421.5" cy="131.5" r="1.35"/><circle cx="422.9" cy="133.3" r="1.35"/><circle cx="425.4" cy="132.1" r="1.35"/><circle cx="420.5" cy="134.9" r="1.35"/><circle cx="426.8" cy="135.6" r="1.35"/><circle cx="430.2" cy="132.8" r="1.35"/><circle cx="424.7" cy="130.1" r="1.35"/><circle cx="438.5" cy="128.0" r="1.35"/><circle cx="440.0" cy="129.7" r="1.35"/><circle cx="441.3" cy="126.0" r="1.35"/><circle cx="440.6" cy="131.5" r="1.35"/><circle cx="442.7" cy="134.2" r="1.35"/><circle cx="444.5" cy="136.1" r="1.35"/><circle cx="436.2" cy="134.6" r="1.35"/><circle cx="438.5" cy="133.6" r="1.35"/><circle cx="394.2" cy="137.0" r="1.35"/><circle cx="398.3" cy="135.2" r="1.35"/><circle cx="401.8" cy="135.6" r="1.35"/><circle cx="401.2" cy="139.1" r="1.35"/><circle cx="400.7" cy="137.0" r="1.35"/><circle cx="409.0" cy="139.8" r="1.35"/><circle cx="410.8" cy="137.7" r="1.35"/><circle cx="411.3" cy="141.9" r="1.35"/><circle cx="410.1" cy="143.2" r="1.35"/><circle cx="415.4" cy="139.4" r="1.35"/><circle cx="434.4" cy="139.4" r="1.35"/><circle cx="421.9" cy="142.5" r="1.35"/><circle cx="425.7" cy="144.4" r="1.35"/><circle cx="428.4" cy="145.3" r="1.35"/><circle cx="428.8" cy="147.4" r="1.35"/><circle cx="433.7" cy="146.7" r="1.35"/><circle cx="444.1" cy="147.7" r="1.35"/><circle cx="450.1" cy="141.2" r="1.35"/><circle cx="450.4" cy="143.2" r="1.35"/><circle cx="457.3" cy="142.5" r="1.35"/><circle cx="465.6" cy="140.2" r="1.35"/><circle cx="415.4" cy="149.9" r="1.35"/><circle cx="407.7" cy="153.7" r="1.35"/><circle cx="412.2" cy="154.4" r="1.35"/><circle cx="435.1" cy="154.6" r="1.35"/><circle cx="444.1" cy="154.6" r="1.35"/><circle cx="449.2" cy="154.6" r="1.35"/><circle cx="452.0" cy="152.6" r="1.35"/><circle cx="453.1" cy="157.4" r="1.35"/><circle cx="415.9" cy="159.2" r="1.35"/><circle cx="416.8" cy="161.3" r="1.35"/><circle cx="415.0" cy="163.3" r="1.35"/><circle cx="431.7" cy="159.6" r="1.35"/><circle cx="452.4" cy="162.9" r="1.35"/><circle cx="406.7" cy="166.1" r="1.35"/><circle cx="476.9" cy="147.7" r="1.35"/><circle cx="429.6" cy="127.5" r="1.35"/><circle cx="445.9" cy="125.6" r="1.35"/><circle cx="447.4" cy="124.5" r="1.35"/></g>
<path d="M437.95,66.79 L438.59,68.51 L440.42,68.59 L438.99,69.73 L439.48,71.50 L437.95,70.48 L436.42,71.50 L436.91,69.73 L435.47,68.59 L437.31,68.51Z" fill="#ff00ff"/>
<path d="M491.62,61.08 L492.27,62.79 L494.10,62.87 L492.66,64.02 L493.15,65.78 L491.62,64.77 L490.10,65.78 L490.59,64.02 L489.15,62.87 L490.98,62.79Z" fill="#ff00ff"/>
<path d="M472.20,106.39 L472.85,108.10 L474.68,108.18 L473.24,109.33 L473.73,111.09 L472.20,110.08 L470.68,111.09 L471.17,109.33 L469.73,108.18 L471.56,108.10Z" fill="#ff00ff"/>
<path d="M513.06,125.87 L513.71,127.59 L515.54,127.67 L514.10,128.81 L514.59,130.57 L513.06,129.56 L511.53,130.57 L512.02,128.81 L510.59,127.67 L512.42,127.59Z" fill="#ff00ff"/>
<path d="M424.82,130.37 L425.46,132.09 L427.29,132.17 L425.86,133.31 L426.35,135.07 L424.82,134.06 L423.29,135.07 L423.78,133.31 L422.35,132.17 L424.18,132.09Z" fill="#ff00ff"/>
<rect x="317.7" y="4.6" width="227.6" height="169.0" fill="none" stroke="#6e6e6e" stroke-width="1.1"/>
<line x1="355.4" y1="173.6" x2="355.4" y2="176.1" stroke="#6e6e6e" stroke-width="0.8"/>
<text x="355.4" y="183.5" text-anchor="middle" class="tk">−15</text>
<line x1="394.2" y1="173.6" x2="394.2" y2="176.1" stroke="#6e6e6e" stroke-width="0.8"/>
<text x="394.2" y="183.5" text-anchor="middle" class="tk">−10</text>
<line x1="433.1" y1="173.6" x2="433.1" y2="176.1" stroke="#6e6e6e" stroke-width="0.8"/>
<text x="433.1" y="183.5" text-anchor="middle" class="tk">−5</text>
<line x1="471.9" y1="173.6" x2="471.9" y2="176.1" stroke="#6e6e6e" stroke-width="0.8"/>
<text x="471.9" y="183.5" text-anchor="middle" class="tk">0</text>
<line x1="510.7" y1="173.6" x2="510.7" y2="176.1" stroke="#6e6e6e" stroke-width="0.8"/>
<text x="510.7" y="183.5" text-anchor="middle" class="tk">5</text>
<line x1="315.2" y1="153.2" x2="317.7" y2="153.2" stroke="#6e6e6e" stroke-width="0.8"/>
<text x="312.4" y="155.3" text-anchor="end" class="tk">−15</text>
<line x1="315.2" y1="130.7" x2="317.7" y2="130.7" stroke="#6e6e6e" stroke-width="0.8"/>
<text x="312.4" y="132.8" text-anchor="end" class="tk">−10</text>
<line x1="315.2" y1="108.2" x2="317.7" y2="108.2" stroke="#6e6e6e" stroke-width="0.8"/>
<text x="312.4" y="110.3" text-anchor="end" class="tk">−5</text>
<line x1="315.2" y1="85.7" x2="317.7" y2="85.7" stroke="#6e6e6e" stroke-width="0.8"/>
<text x="312.4" y="87.8" text-anchor="end" class="tk">0</text>
<line x1="315.2" y1="63.2" x2="317.7" y2="63.2" stroke="#6e6e6e" stroke-width="0.8"/>
<text x="312.4" y="65.3" text-anchor="end" class="tk">5</text>
<line x1="315.2" y1="40.7" x2="317.7" y2="40.7" stroke="#6e6e6e" stroke-width="0.8"/>
<text x="312.4" y="42.8" text-anchor="end" class="tk">10</text>
<line x1="315.2" y1="18.2" x2="317.7" y2="18.2" stroke="#6e6e6e" stroke-width="0.8"/>
<text x="312.4" y="20.3" text-anchor="end" class="tk">15</text>
<text x="350.2" y="39.0" text-anchor="middle" class="lt">D</text>
<text x="525.7" y="71.8" text-anchor="middle" class="lt">A</text>
<text x="493.5" y="110.2" text-anchor="middle" class="lt">B</text>
<text x="517.0" y="157.6" text-anchor="middle" class="lt">C</text>
<text x="339.3" y="159.6" text-anchor="middle" class="lt">E</text>
<text x="423.2" y="206.5" text-anchor="middle" class="lb" style="font-size:12.5px">(<tspan font-weight="bold">b</tspan>)</text>
<g fill="#767676"><circle cx="82.3" cy="235.4" r="1.35"/><circle cx="76.6" cy="242.6" r="1.35"/><circle cx="83.3" cy="245.5" r="1.35"/><circle cx="93.7" cy="252.0" r="1.35"/><circle cx="101.7" cy="254.4" r="1.35"/><circle cx="77.0" cy="258.2" r="1.35"/><circle cx="95.5" cy="263.5" r="1.35"/><circle cx="99.4" cy="267.4" r="1.35"/><circle cx="78.9" cy="270.3" r="1.35"/><circle cx="67.9" cy="273.5" r="1.35"/><circle cx="88.0" cy="271.5" r="1.35"/><circle cx="89.3" cy="272.7" r="1.35"/><circle cx="95.9" cy="271.5" r="1.35"/><circle cx="96.9" cy="274.1" r="1.35"/><circle cx="74.4" cy="276.1" r="1.35"/><circle cx="78.5" cy="278.0" r="1.35"/><circle cx="91.9" cy="276.2" r="1.35"/><circle cx="61.2" cy="278.7" r="1.35"/><circle cx="94.8" cy="280.1" r="1.35"/><circle cx="118.0" cy="242.6" r="1.35"/><circle cx="106.9" cy="247.0" r="1.35"/><circle cx="113.2" cy="251.0" r="1.35"/><circle cx="123.3" cy="253.9" r="1.35"/><circle cx="110.4" cy="257.1" r="1.35"/><circle cx="112.7" cy="258.8" r="1.35"/><circle cx="121.3" cy="260.7" r="1.35"/><circle cx="106.9" cy="264.2" r="1.35"/><circle cx="118.0" cy="264.2" r="1.35"/><circle cx="108.3" cy="268.6" r="1.35"/><circle cx="111.5" cy="270.1" r="1.35"/><circle cx="103.2" cy="270.8" r="1.35"/><circle cx="113.6" cy="273.3" r="1.35"/><circle cx="115.8" cy="275.8" r="1.35"/><circle cx="109.8" cy="276.1" r="1.35"/><circle cx="125.2" cy="275.0" r="1.35"/><circle cx="114.3" cy="278.7" r="1.35"/><circle cx="116.5" cy="278.0" r="1.35"/><circle cx="122.7" cy="279.4" r="1.35"/><circle cx="33.7" cy="285.1" r="1.35"/><circle cx="74.4" cy="277.8" r="1.35"/><circle cx="77.0" cy="282.2" r="1.35"/><circle cx="71.3" cy="288.7" r="1.35"/><circle cx="85.5" cy="286.5" r="1.35"/><circle cx="89.3" cy="285.9" r="1.35"/><circle cx="90.0" cy="284.8" r="1.35"/><circle cx="94.1" cy="287.9" r="1.35"/><circle cx="96.9" cy="288.3" r="1.35"/><circle cx="96.2" cy="291.2" r="1.35"/><circle cx="101.0" cy="283.6" r="1.35"/><circle cx="105.7" cy="283.0" r="1.35"/><circle cx="107.5" cy="287.9" r="1.35"/><circle cx="114.1" cy="286.5" r="1.35"/><circle cx="118.7" cy="284.0" r="1.35"/><circle cx="121.3" cy="285.5" r="1.35"/><circle cx="123.0" cy="286.9" r="1.35"/><circle cx="127.0" cy="284.5" r="1.35"/><circle cx="130.2" cy="283.3" r="1.35"/><circle cx="131.3" cy="284.8" r="1.35"/><circle cx="120.5" cy="286.9" r="1.35"/><circle cx="150.3" cy="228.5" r="1.35"/><circle cx="133.3" cy="239.7" r="1.35"/><circle cx="147.5" cy="239.7" r="1.35"/><circle cx="146.3" cy="241.9" r="1.35"/><circle cx="134.2" cy="244.4" r="1.35"/><circle cx="141.0" cy="244.1" r="1.35"/><circle cx="145.5" cy="244.4" r="1.35"/><circle cx="157.2" cy="243.8" r="1.35"/><circle cx="167.0" cy="247.3" r="1.35"/><circle cx="170.8" cy="251.5" r="1.35"/><circle cx="143.1" cy="251.5" r="1.35"/><circle cx="149.4" cy="252.0" r="1.35"/><circle cx="138.9" cy="253.4" r="1.35"/><circle cx="142.3" cy="257.8" r="1.35"/><circle cx="144.9" cy="262.2" r="1.35"/><circle cx="146.8" cy="261.4" r="1.35"/><circle cx="135.7" cy="262.2" r="1.35"/><circle cx="167.6" cy="263.5" r="1.35"/><circle cx="166.4" cy="265.0" r="1.35"/><circle cx="131.6" cy="265.7" r="1.35"/><circle cx="138.6" cy="267.1" r="1.35"/><circle cx="142.8" cy="265.7" r="1.35"/><circle cx="156.1" cy="266.4" r="1.35"/><circle cx="153.5" cy="267.9" r="1.35"/><circle cx="171.5" cy="267.9" r="1.35"/><circle cx="131.9" cy="269.3" r="1.35"/><circle cx="151.0" cy="270.1" r="1.35"/><circle cx="145.8" cy="270.1" r="1.35"/><circle cx="174.7" cy="270.1" r="1.35"/><circle cx="176.2" cy="271.5" r="1.35"/><circle cx="130.9" cy="272.2" r="1.35"/><circle cx="143.9" cy="272.7" r="1.35"/><circle cx="173.4" cy="272.2" r="1.35"/><circle cx="169.0" cy="273.7" r="1.35"/><circle cx="133.3" cy="274.4" r="1.35"/><circle cx="145.8" cy="274.6" r="1.35"/><circle cx="156.8" cy="275.0" r="1.35"/><circle cx="166.8" cy="274.6" r="1.35"/><circle cx="172.7" cy="274.4" r="1.35"/><circle cx="177.6" cy="273.7" r="1.35"/><circle cx="141.7" cy="275.8" r="1.35"/><circle cx="135.7" cy="276.9" r="1.35"/><circle cx="150.0" cy="276.9" r="1.35"/><circle cx="160.4" cy="278.7" r="1.35"/><circle cx="168.7" cy="277.2" r="1.35"/><circle cx="157.5" cy="279.4" r="1.35"/><circle cx="181.3" cy="251.0" r="1.35"/><circle cx="179.6" cy="272.3" r="1.35"/><circle cx="76.1" cy="300.6" r="1.35"/><circle cx="83.6" cy="302.8" r="1.35"/><circle cx="88.3" cy="297.5" r="1.35"/><circle cx="90.5" cy="298.4" r="1.35"/><circle cx="98.1" cy="297.0" r="1.35"/><circle cx="150.0" cy="280.4" r="1.35"/><circle cx="163.3" cy="282.6" r="1.35"/><circle cx="169.7" cy="285.5" r="1.35"/><circle cx="171.2" cy="284.5" r="1.35"/><circle cx="141.7" cy="283.6" r="1.35"/><circle cx="150.3" cy="285.5" r="1.35"/><circle cx="128.1" cy="289.0" r="1.35"/><circle cx="131.9" cy="290.2" r="1.35"/><circle cx="136.0" cy="289.3" r="1.35"/><circle cx="124.1" cy="291.7" r="1.35"/><circle cx="144.9" cy="289.3" r="1.35"/><circle cx="146.0" cy="290.5" r="1.35"/><circle cx="148.9" cy="291.2" r="1.35"/><circle cx="147.5" cy="289.8" r="1.35"/><circle cx="164.0" cy="290.2" r="1.35"/><circle cx="167.6" cy="290.8" r="1.35"/><circle cx="169.7" cy="293.1" r="1.35"/><circle cx="161.8" cy="294.1" r="1.35"/><circle cx="165.4" cy="295.6" r="1.35"/><circle cx="105.4" cy="296.0" r="1.35"/><circle cx="105.4" cy="299.8" r="1.35"/><circle cx="112.9" cy="299.4" r="1.35"/><circle cx="116.5" cy="299.8" r="1.35"/><circle cx="118.7" cy="299.1" r="1.35"/><circle cx="121.3" cy="302.8" r="1.35"/><circle cx="123.3" cy="304.9" r="1.35"/><circle cx="125.9" cy="304.6" r="1.35"/><circle cx="111.8" cy="306.4" r="1.35"/><circle cx="132.8" cy="306.4" r="1.35"/><circle cx="136.0" cy="301.3" r="1.35"/><circle cx="134.5" cy="304.9" r="1.35"/><circle cx="141.7" cy="299.8" r="1.35"/><circle cx="141.0" cy="303.5" r="1.35"/><circle cx="144.6" cy="300.3" r="1.35"/><circle cx="147.5" cy="297.0" r="1.35"/><circle cx="150.3" cy="299.1" r="1.35"/><circle cx="151.0" cy="301.3" r="1.35"/><circle cx="158.9" cy="298.4" r="1.35"/><circle cx="157.5" cy="301.3" r="1.35"/><circle cx="154.7" cy="304.6" r="1.35"/></g>
<g fill="#0000ff"><circle cx="132.8" cy="310.9" r="1.35"/><circle cx="131.9" cy="312.8" r="1.35"/><circle cx="134.5" cy="314.3" r="1.35"/><circle cx="130.9" cy="315.7" r="1.35"/><circle cx="129.5" cy="318.2" r="1.35"/><circle cx="133.8" cy="322.9" r="1.35"/><circle cx="133.1" cy="326.6" r="1.35"/><circle cx="130.2" cy="335.9" r="1.35"/><circle cx="134.5" cy="333.8" r="1.35"/><circle cx="128.8" cy="343.0" r="1.35"/><circle cx="133.1" cy="342.6" r="1.35"/><circle cx="136.0" cy="341.1" r="1.35"/><circle cx="141.7" cy="341.1" r="1.35"/><circle cx="142.4" cy="343.0" r="1.35"/><circle cx="143.9" cy="344.0" r="1.35"/><circle cx="146.0" cy="337.9" r="1.35"/><circle cx="144.6" cy="337.2" r="1.35"/><circle cx="148.1" cy="349.4" r="1.35"/><circle cx="149.6" cy="351.2" r="1.35"/><circle cx="151.0" cy="347.3" r="1.35"/><circle cx="150.3" cy="353.1" r="1.35"/><circle cx="136.7" cy="335.7" r="1.35"/><circle cx="128.1" cy="335.0" r="1.35"/><circle cx="200.6" cy="331.6" r="1.35"/><circle cx="203.8" cy="333.1" r="1.35"/><circle cx="171.2" cy="352.1" r="1.35"/><circle cx="174.7" cy="350.9" r="1.35"/><circle cx="155.8" cy="310.2" r="1.35"/><circle cx="163.8" cy="309.9" r="1.35"/><circle cx="165.9" cy="309.4" r="1.35"/><circle cx="149.0" cy="312.0" r="1.35"/><circle cx="152.5" cy="313.4" r="1.35"/><circle cx="181.6" cy="312.6" r="1.35"/><circle cx="150.3" cy="319.4" r="1.35"/><circle cx="152.5" cy="319.9" r="1.35"/><circle cx="155.5" cy="321.6" r="1.35"/><circle cx="177.3" cy="318.3" r="1.35"/><circle cx="183.7" cy="320.3" r="1.35"/><circle cx="185.3" cy="319.9" r="1.35"/><circle cx="140.8" cy="325.3" r="1.35"/><circle cx="140.8" cy="326.9" r="1.35"/><circle cx="146.9" cy="328.2" r="1.35"/><circle cx="153.6" cy="327.5" r="1.35"/><circle cx="156.3" cy="325.3" r="1.35"/><circle cx="160.0" cy="328.5" r="1.35"/><circle cx="161.7" cy="330.7" r="1.35"/><circle cx="163.8" cy="330.2" r="1.35"/><circle cx="167.6" cy="325.8" r="1.35"/><circle cx="171.9" cy="323.6" r="1.35"/><circle cx="146.0" cy="331.8" r="1.35"/><circle cx="147.7" cy="333.9" r="1.35"/><circle cx="156.3" cy="336.1" r="1.35"/><circle cx="156.7" cy="339.4" r="1.35"/><circle cx="160.0" cy="334.4" r="1.35"/><circle cx="166.5" cy="336.6" r="1.35"/><circle cx="167.0" cy="339.9" r="1.35"/><circle cx="162.2" cy="342.1" r="1.35"/><circle cx="167.6" cy="344.8" r="1.35"/><circle cx="155.8" cy="346.9" r="1.35"/><circle cx="157.3" cy="345.8" r="1.35"/><circle cx="196.7" cy="338.3" r="1.35"/><circle cx="174.1" cy="349.1" r="1.35"/><circle cx="174.1" cy="315.0" r="1.35"/><circle cx="180.5" cy="327.1" r="1.35"/><circle cx="190.7" cy="331.0" r="1.35"/><circle cx="174.2" cy="330.2" r="1.35"/><circle cx="185.9" cy="326.0" r="1.35"/><circle cx="189.1" cy="330.9" r="1.35"/><circle cx="189.7" cy="328.6" r="1.35"/><circle cx="184.7" cy="330.8" r="1.35"/><circle cx="181.3" cy="327.9" r="1.35"/><circle cx="175.1" cy="333.8" r="1.35"/><circle cx="183.2" cy="337.5" r="1.35"/><circle cx="179.8" cy="339.9" r="1.35"/><circle cx="177.9" cy="328.5" r="1.35"/><circle cx="187.5" cy="331.2" r="1.35"/><circle cx="181.4" cy="337.3" r="1.35"/><circle cx="197.1" cy="328.7" r="1.35"/><circle cx="191.5" cy="334.9" r="1.35"/><circle cx="181.7" cy="339.1" r="1.35"/><circle cx="189.1" cy="326.8" r="1.35"/><circle cx="168.6" cy="331.2" r="1.35"/><circle cx="188.0" cy="338.8" r="1.35"/><circle cx="169.2" cy="335.7" r="1.35"/><circle cx="178.3" cy="337.2" r="1.35"/><circle cx="183.4" cy="329.9" r="1.35"/><circle cx="188.0" cy="327.9" r="1.35"/><circle cx="194.7" cy="325.8" r="1.35"/><circle cx="173.1" cy="333.2" r="1.35"/><circle cx="175.0" cy="335.8" r="1.35"/><circle cx="182.5" cy="331.0" r="1.35"/><circle cx="186.9" cy="338.1" r="1.35"/><circle cx="173.7" cy="331.1" r="1.35"/><circle cx="181.6" cy="332.4" r="1.35"/><circle cx="182.7" cy="334.4" r="1.35"/><circle cx="188.5" cy="329.4" r="1.35"/><circle cx="182.5" cy="334.0" r="1.35"/><circle cx="181.8" cy="343.1" r="1.35"/><circle cx="175.6" cy="330.8" r="1.35"/><circle cx="171.6" cy="330.1" r="1.35"/><circle cx="184.3" cy="337.1" r="1.35"/><circle cx="181.2" cy="332.4" r="1.35"/><circle cx="186.7" cy="328.3" r="1.35"/><circle cx="182.9" cy="334.8" r="1.35"/><circle cx="182.1" cy="331.3" r="1.35"/><circle cx="188.8" cy="329.7" r="1.35"/><circle cx="177.6" cy="337.0" r="1.35"/><circle cx="180.3" cy="334.3" r="1.35"/><circle cx="174.6" cy="331.5" r="1.35"/><circle cx="179.4" cy="330.5" r="1.35"/><circle cx="187.2" cy="332.8" r="1.35"/><circle cx="200.9" cy="332.4" r="1.35"/><circle cx="191.6" cy="330.5" r="1.35"/><circle cx="191.7" cy="341.6" r="1.35"/><circle cx="177.4" cy="329.9" r="1.35"/><circle cx="187.8" cy="320.6" r="1.35"/><circle cx="185.6" cy="325.3" r="1.35"/><circle cx="189.0" cy="326.8" r="1.35"/><circle cx="187.1" cy="331.7" r="1.35"/><circle cx="187.1" cy="335.8" r="1.35"/><circle cx="192.2" cy="335.5" r="1.35"/><circle cx="185.1" cy="321.6" r="1.35"/><circle cx="181.4" cy="330.9" r="1.35"/><circle cx="192.1" cy="330.9" r="1.35"/><circle cx="177.0" cy="329.9" r="1.35"/><circle cx="187.6" cy="327.8" r="1.35"/><circle cx="177.2" cy="323.2" r="1.35"/><circle cx="195.9" cy="330.9" r="1.35"/><circle cx="185.2" cy="332.9" r="1.35"/><circle cx="194.0" cy="334.1" r="1.35"/><circle cx="188.3" cy="333.1" r="1.35"/><circle cx="177.8" cy="327.8" r="1.35"/><circle cx="193.4" cy="331.0" r="1.35"/><circle cx="178.0" cy="327.4" r="1.35"/><circle cx="182.8" cy="329.6" r="1.35"/><circle cx="194.8" cy="326.0" r="1.35"/><circle cx="179.2" cy="320.8" r="1.35"/><circle cx="183.2" cy="327.5" r="1.35"/><circle cx="178.2" cy="331.2" r="1.35"/><circle cx="169.8" cy="323.1" r="1.35"/><circle cx="193.6" cy="336.4" r="1.35"/><circle cx="171.6" cy="338.2" r="1.35"/><circle cx="192.2" cy="333.0" r="1.35"/><circle cx="182.7" cy="332.4" r="1.35"/><circle cx="182.2" cy="335.8" r="1.35"/><circle cx="183.3" cy="337.4" r="1.35"/><circle cx="182.6" cy="329.6" r="1.35"/><circle cx="186.7" cy="332.0" r="1.35"/><circle cx="176.2" cy="330.3" r="1.35"/><circle cx="179.4" cy="324.0" r="1.35"/><circle cx="189.0" cy="331.5" r="1.35"/><circle cx="179.5" cy="334.1" r="1.35"/><circle cx="176.0" cy="332.6" r="1.35"/><circle cx="185.4" cy="328.7" r="1.35"/><circle cx="187.5" cy="321.7" r="1.35"/><circle cx="177.8" cy="330.9" r="1.35"/><circle cx="179.2" cy="330.2" r="1.35"/><circle cx="184.3" cy="329.2" r="1.35"/><circle cx="181.3" cy="329.4" r="1.35"/><circle cx="183.6" cy="327.6" r="1.35"/><circle cx="168.7" cy="334.9" r="1.35"/><circle cx="183.1" cy="335.6" r="1.35"/><circle cx="175.2" cy="328.2" r="1.35"/><circle cx="178.2" cy="328.2" r="1.35"/><circle cx="188.9" cy="329.6" r="1.35"/><circle cx="187.0" cy="331.5" r="1.35"/><circle cx="172.4" cy="331.1" r="1.35"/><circle cx="186.6" cy="333.4" r="1.35"/><circle cx="182.4" cy="327.7" r="1.35"/><circle cx="176.4" cy="328.2" r="1.35"/><circle cx="197.4" cy="333.5" r="1.35"/><circle cx="184.3" cy="331.7" r="1.35"/><circle cx="194.9" cy="329.6" r="1.35"/><circle cx="190.0" cy="334.1" r="1.35"/><circle cx="183.0" cy="331.0" r="1.35"/><circle cx="169.6" cy="324.6" r="1.35"/><circle cx="190.0" cy="338.8" r="1.35"/><circle cx="188.9" cy="331.6" r="1.35"/><circle cx="186.6" cy="329.4" r="1.35"/><circle cx="171.7" cy="331.9" r="1.35"/><circle cx="194.6" cy="333.6" r="1.35"/><circle cx="175.3" cy="337.0" r="1.35"/><circle cx="173.8" cy="329.5" r="1.35"/><circle cx="196.1" cy="329.1" r="1.35"/><circle cx="185.0" cy="321.1" r="1.35"/><circle cx="179.2" cy="334.0" r="1.35"/><circle cx="187.2" cy="328.6" r="1.35"/><circle cx="175.4" cy="336.2" r="1.35"/><circle cx="185.4" cy="329.9" r="1.35"/><circle cx="173.2" cy="331.9" r="1.35"/><circle cx="179.0" cy="329.0" r="1.35"/><circle cx="182.3" cy="331.4" r="1.35"/><circle cx="180.4" cy="326.3" r="1.35"/><circle cx="193.8" cy="332.6" r="1.35"/><circle cx="189.6" cy="334.4" r="1.35"/><circle cx="183.7" cy="327.7" r="1.35"/><circle cx="194.7" cy="332.7" r="1.35"/><circle cx="182.6" cy="330.1" r="1.35"/><circle cx="171.7" cy="330.9" r="1.35"/><circle cx="178.0" cy="329.3" r="1.35"/><circle cx="174.5" cy="339.8" r="1.35"/><circle cx="183.4" cy="329.8" r="1.35"/><circle cx="179.0" cy="327.0" r="1.35"/><circle cx="181.1" cy="333.7" r="1.35"/><circle cx="186.8" cy="338.0" r="1.35"/><circle cx="178.0" cy="331.1" r="1.35"/><circle cx="189.7" cy="331.7" r="1.35"/><circle cx="185.5" cy="333.9" r="1.35"/><circle cx="185.5" cy="323.6" r="1.35"/><circle cx="177.9" cy="320.5" r="1.35"/><circle cx="178.2" cy="330.9" r="1.35"/><circle cx="184.5" cy="326.4" r="1.35"/><circle cx="173.7" cy="340.3" r="1.35"/><circle cx="187.8" cy="327.5" r="1.35"/><circle cx="187.9" cy="319.3" r="1.35"/><circle cx="184.7" cy="329.9" r="1.35"/><circle cx="190.3" cy="329.4" r="1.35"/><circle cx="195.9" cy="336.5" r="1.35"/><circle cx="189.4" cy="332.7" r="1.35"/><circle cx="190.2" cy="321.4" r="1.35"/><circle cx="183.1" cy="332.1" r="1.35"/><circle cx="179.3" cy="334.7" r="1.35"/><circle cx="178.3" cy="328.2" r="1.35"/><circle cx="183.4" cy="330.7" r="1.35"/><circle cx="181.8" cy="326.9" r="1.35"/><circle cx="186.9" cy="331.6" r="1.35"/><circle cx="188.2" cy="331.7" r="1.35"/><circle cx="174.3" cy="324.5" r="1.35"/><circle cx="186.7" cy="335.3" r="1.35"/><circle cx="191.4" cy="329.5" r="1.35"/><circle cx="171.2" cy="323.8" r="1.35"/><circle cx="185.7" cy="327.0" r="1.35"/><circle cx="184.7" cy="331.7" r="1.35"/><circle cx="171.3" cy="326.7" r="1.35"/><circle cx="183.4" cy="332.3" r="1.35"/><circle cx="185.8" cy="330.7" r="1.35"/><circle cx="188.3" cy="332.6" r="1.35"/><circle cx="182.9" cy="340.5" r="1.35"/><circle cx="179.9" cy="328.0" r="1.35"/><circle cx="193.4" cy="332.6" r="1.35"/><circle cx="182.2" cy="324.0" r="1.35"/><circle cx="180.7" cy="327.7" r="1.35"/><circle cx="196.0" cy="330.8" r="1.35"/><circle cx="192.5" cy="334.2" r="1.35"/><circle cx="184.7" cy="331.3" r="1.35"/><circle cx="184.0" cy="326.0" r="1.35"/><circle cx="201.4" cy="334.0" r="1.35"/><circle cx="178.8" cy="328.8" r="1.35"/><circle cx="175.1" cy="328.8" r="1.35"/><circle cx="187.5" cy="332.2" r="1.35"/><circle cx="187.2" cy="337.9" r="1.35"/><circle cx="189.0" cy="337.9" r="1.35"/><circle cx="177.8" cy="333.5" r="1.35"/><circle cx="180.1" cy="327.2" r="1.35"/><circle cx="183.8" cy="332.8" r="1.35"/><circle cx="187.3" cy="324.0" r="1.35"/><circle cx="183.2" cy="329.4" r="1.35"/><circle cx="192.6" cy="329.8" r="1.35"/><circle cx="173.3" cy="319.9" r="1.35"/><circle cx="200.1" cy="339.8" r="1.35"/><circle cx="182.9" cy="329.1" r="1.35"/><circle cx="190.5" cy="328.0" r="1.35"/><circle cx="181.1" cy="335.7" r="1.35"/><circle cx="183.9" cy="326.4" r="1.35"/><circle cx="174.8" cy="335.6" r="1.35"/><circle cx="183.0" cy="339.6" r="1.35"/><circle cx="181.2" cy="332.9" r="1.35"/><circle cx="186.6" cy="334.1" r="1.35"/><circle cx="176.4" cy="332.8" r="1.35"/><circle cx="182.8" cy="334.0" r="1.35"/><circle cx="183.2" cy="327.7" r="1.35"/><circle cx="192.2" cy="323.4" r="1.35"/><circle cx="177.2" cy="332.9" r="1.35"/><circle cx="164.1" cy="322.6" r="1.35"/><circle cx="177.6" cy="331.1" r="1.35"/><circle cx="187.2" cy="337.0" r="1.35"/><circle cx="186.7" cy="331.1" r="1.35"/><circle cx="169.2" cy="329.7" r="1.35"/><circle cx="192.3" cy="339.3" r="1.35"/><circle cx="189.3" cy="330.1" r="1.35"/><circle cx="186.8" cy="329.0" r="1.35"/><circle cx="193.1" cy="332.0" r="1.35"/><circle cx="189.8" cy="332.8" r="1.35"/><circle cx="188.7" cy="334.6" r="1.35"/><circle cx="182.3" cy="323.3" r="1.35"/><circle cx="186.6" cy="331.7" r="1.35"/><circle cx="174.4" cy="334.5" r="1.35"/><circle cx="184.6" cy="326.8" r="1.35"/><circle cx="186.4" cy="328.7" r="1.35"/><circle cx="182.8" cy="325.0" r="1.35"/><circle cx="180.2" cy="333.4" r="1.35"/><circle cx="190.0" cy="330.7" r="1.35"/><circle cx="181.0" cy="333.6" r="1.35"/><circle cx="176.3" cy="327.0" r="1.35"/><circle cx="177.9" cy="326.6" r="1.35"/><circle cx="179.5" cy="326.8" r="1.35"/><circle cx="181.1" cy="327.5" r="1.35"/><circle cx="178.7" cy="328.4" r="1.35"/><circle cx="181.9" cy="328.7" r="1.35"/><circle cx="175.5" cy="328.0" r="1.35"/><circle cx="180.3" cy="329.4" r="1.35"/><circle cx="177.9" cy="335.0" r="1.35"/><circle cx="180.3" cy="334.0" r="1.35"/><circle cx="182.8" cy="335.4" r="1.35"/><circle cx="177.1" cy="336.8" r="1.35"/><circle cx="181.1" cy="337.3" r="1.35"/><circle cx="184.4" cy="337.8" r="1.35"/><circle cx="187.6" cy="338.3" r="1.35"/><circle cx="186.0" cy="336.4" r="1.35"/><circle cx="179.5" cy="335.9" r="1.35"/><circle cx="182.8" cy="338.7" r="1.35"/></g>
<g fill="#ffc0cb"><circle cx="180.2" cy="299.3" r="1.35"/><circle cx="175.9" cy="299.8" r="1.35"/><circle cx="210.4" cy="261.4" r="1.35"/><circle cx="190.6" cy="270.8" r="1.35"/><circle cx="215.1" cy="269.8" r="1.35"/><circle cx="208.6" cy="271.2" r="1.35"/><circle cx="221.1" cy="277.2" r="1.35"/><circle cx="181.8" cy="281.5" r="1.35"/><circle cx="182.9" cy="289.6" r="1.35"/><circle cx="186.6" cy="296.1" r="1.35"/><circle cx="187.7" cy="292.3" r="1.35"/><circle cx="226.0" cy="281.5" r="1.35"/><circle cx="207.7" cy="293.9" r="1.35"/><circle cx="211.4" cy="292.3" r="1.35"/><circle cx="222.2" cy="284.8" r="1.35"/><circle cx="175.8" cy="291.7" r="1.35"/><circle cx="203.0" cy="279.8" r="1.35"/><circle cx="203.1" cy="283.5" r="1.35"/><circle cx="198.9" cy="283.0" r="1.35"/><circle cx="211.2" cy="280.2" r="1.35"/><circle cx="210.8" cy="281.0" r="1.35"/><circle cx="206.9" cy="281.3" r="1.35"/><circle cx="194.4" cy="278.3" r="1.35"/><circle cx="207.6" cy="279.9" r="1.35"/><circle cx="194.3" cy="289.8" r="1.35"/><circle cx="199.1" cy="284.2" r="1.35"/><circle cx="206.4" cy="282.3" r="1.35"/><circle cx="207.7" cy="284.9" r="1.35"/><circle cx="206.4" cy="280.3" r="1.35"/><circle cx="200.5" cy="274.5" r="1.35"/><circle cx="207.9" cy="276.8" r="1.35"/><circle cx="200.8" cy="285.4" r="1.35"/><circle cx="202.4" cy="282.6" r="1.35"/><circle cx="208.3" cy="281.0" r="1.35"/><circle cx="201.8" cy="286.3" r="1.35"/><circle cx="201.4" cy="276.7" r="1.35"/><circle cx="199.6" cy="281.0" r="1.35"/><circle cx="207.1" cy="288.7" r="1.35"/><circle cx="204.8" cy="276.3" r="1.35"/><circle cx="192.3" cy="283.5" r="1.35"/><circle cx="203.9" cy="285.7" r="1.35"/><circle cx="207.5" cy="282.4" r="1.35"/><circle cx="195.7" cy="278.4" r="1.35"/><circle cx="208.6" cy="277.9" r="1.35"/><circle cx="213.2" cy="280.5" r="1.35"/><circle cx="205.2" cy="287.9" r="1.35"/><circle cx="208.2" cy="284.8" r="1.35"/><circle cx="201.8" cy="287.7" r="1.35"/><circle cx="198.7" cy="284.4" r="1.35"/><circle cx="212.3" cy="291.1" r="1.35"/><circle cx="195.7" cy="281.0" r="1.35"/><circle cx="213.2" cy="279.5" r="1.35"/><circle cx="193.0" cy="293.3" r="1.35"/><circle cx="206.7" cy="285.4" r="1.35"/><circle cx="197.7" cy="277.7" r="1.35"/><circle cx="211.2" cy="281.4" r="1.35"/><circle cx="206.0" cy="280.2" r="1.35"/><circle cx="214.1" cy="279.3" r="1.35"/><circle cx="207.6" cy="279.7" r="1.35"/><circle cx="195.0" cy="276.4" r="1.35"/><circle cx="210.3" cy="279.7" r="1.35"/><circle cx="192.6" cy="284.9" r="1.35"/><circle cx="209.6" cy="290.1" r="1.35"/><circle cx="203.4" cy="277.6" r="1.35"/><circle cx="196.6" cy="274.9" r="1.35"/><circle cx="207.8" cy="282.8" r="1.35"/><circle cx="206.5" cy="279.2" r="1.35"/><circle cx="205.2" cy="277.0" r="1.35"/><circle cx="200.5" cy="283.9" r="1.35"/><circle cx="210.8" cy="282.0" r="1.35"/><circle cx="199.2" cy="277.9" r="1.35"/><circle cx="213.4" cy="284.1" r="1.35"/><circle cx="196.2" cy="282.7" r="1.35"/><circle cx="203.6" cy="283.4" r="1.35"/><circle cx="213.0" cy="286.7" r="1.35"/><circle cx="212.1" cy="287.7" r="1.35"/><circle cx="199.8" cy="279.3" r="1.35"/><circle cx="211.3" cy="278.3" r="1.35"/><circle cx="206.6" cy="281.5" r="1.35"/><circle cx="205.4" cy="279.5" r="1.35"/><circle cx="203.4" cy="280.9" r="1.35"/><circle cx="208.0" cy="282.1" r="1.35"/><circle cx="209.1" cy="279.6" r="1.35"/><circle cx="216.7" cy="280.6" r="1.35"/><circle cx="201.9" cy="283.7" r="1.35"/><circle cx="204.4" cy="278.0" r="1.35"/><circle cx="202.5" cy="280.4" r="1.35"/><circle cx="215.6" cy="293.5" r="1.35"/><circle cx="197.7" cy="281.0" r="1.35"/><circle cx="206.9" cy="281.0" r="1.35"/><circle cx="201.9" cy="279.2" r="1.35"/><circle cx="206.2" cy="284.4" r="1.35"/><circle cx="219.2" cy="280.5" r="1.35"/><circle cx="201.2" cy="282.5" r="1.35"/><circle cx="203.1" cy="282.4" r="1.35"/><circle cx="188.0" cy="284.3" r="1.35"/><circle cx="210.6" cy="287.3" r="1.35"/><circle cx="204.1" cy="277.8" r="1.35"/><circle cx="209.7" cy="275.5" r="1.35"/><circle cx="194.2" cy="283.7" r="1.35"/><circle cx="202.4" cy="279.3" r="1.35"/><circle cx="211.1" cy="294.0" r="1.35"/><circle cx="211.1" cy="288.5" r="1.35"/><circle cx="208.6" cy="288.7" r="1.35"/><circle cx="205.6" cy="276.8" r="1.35"/><circle cx="203.6" cy="281.2" r="1.35"/><circle cx="209.3" cy="281.5" r="1.35"/><circle cx="204.0" cy="275.3" r="1.35"/><circle cx="210.8" cy="283.4" r="1.35"/><circle cx="221.1" cy="287.2" r="1.35"/><circle cx="210.0" cy="283.3" r="1.35"/><circle cx="205.3" cy="279.0" r="1.35"/><circle cx="205.9" cy="279.2" r="1.35"/><circle cx="195.3" cy="288.8" r="1.35"/><circle cx="208.2" cy="286.4" r="1.35"/><circle cx="198.3" cy="288.6" r="1.35"/><circle cx="212.2" cy="278.8" r="1.35"/><circle cx="213.4" cy="286.3" r="1.35"/><circle cx="204.5" cy="287.2" r="1.35"/><circle cx="209.1" cy="275.0" r="1.35"/><circle cx="199.1" cy="275.1" r="1.35"/><circle cx="210.5" cy="282.9" r="1.35"/><circle cx="192.6" cy="275.8" r="1.35"/><circle cx="203.9" cy="284.8" r="1.35"/><circle cx="206.9" cy="280.3" r="1.35"/><circle cx="213.6" cy="286.6" r="1.35"/><circle cx="211.4" cy="275.5" r="1.35"/><circle cx="213.3" cy="282.9" r="1.35"/><circle cx="200.0" cy="277.6" r="1.35"/><circle cx="205.2" cy="281.5" r="1.35"/><circle cx="213.1" cy="283.3" r="1.35"/><circle cx="190.6" cy="283.8" r="1.35"/><circle cx="193.3" cy="278.4" r="1.35"/><circle cx="206.4" cy="284.8" r="1.35"/><circle cx="204.5" cy="278.4" r="1.35"/><circle cx="205.0" cy="276.2" r="1.35"/><circle cx="204.1" cy="277.5" r="1.35"/><circle cx="213.5" cy="274.9" r="1.35"/><circle cx="200.4" cy="278.2" r="1.35"/><circle cx="193.2" cy="286.9" r="1.35"/><circle cx="192.6" cy="277.3" r="1.35"/><circle cx="197.1" cy="282.1" r="1.35"/><circle cx="203.3" cy="282.2" r="1.35"/><circle cx="200.9" cy="281.0" r="1.35"/><circle cx="215.3" cy="281.9" r="1.35"/><circle cx="207.7" cy="277.6" r="1.35"/><circle cx="203.3" cy="287.7" r="1.35"/><circle cx="201.2" cy="277.3" r="1.35"/><circle cx="194.6" cy="284.7" r="1.35"/><circle cx="210.6" cy="278.6" r="1.35"/><circle cx="204.6" cy="278.5" r="1.35"/><circle cx="205.5" cy="287.3" r="1.35"/><circle cx="195.1" cy="284.9" r="1.35"/><circle cx="210.1" cy="284.6" r="1.35"/><circle cx="199.1" cy="285.5" r="1.35"/><circle cx="195.3" cy="282.6" r="1.35"/><circle cx="197.4" cy="280.5" r="1.35"/><circle cx="190.2" cy="280.6" r="1.35"/><circle cx="200.6" cy="290.7" r="1.35"/><circle cx="208.9" cy="283.3" r="1.35"/><circle cx="191.0" cy="286.0" r="1.35"/><circle cx="206.3" cy="284.1" r="1.35"/><circle cx="209.2" cy="278.8" r="1.35"/><circle cx="208.5" cy="280.6" r="1.35"/><circle cx="212.6" cy="279.2" r="1.35"/><circle cx="207.2" cy="291.4" r="1.35"/><circle cx="209.9" cy="276.3" r="1.35"/><circle cx="202.7" cy="284.2" r="1.35"/><circle cx="216.2" cy="289.9" r="1.35"/><circle cx="207.3" cy="271.3" r="1.35"/><circle cx="198.9" cy="279.0" r="1.35"/><circle cx="215.9" cy="282.6" r="1.35"/><circle cx="207.9" cy="278.1" r="1.35"/><circle cx="199.0" cy="282.5" r="1.35"/><circle cx="206.3" cy="278.4" r="1.35"/><circle cx="204.3" cy="283.0" r="1.35"/><circle cx="198.4" cy="283.7" r="1.35"/><circle cx="209.9" cy="281.6" r="1.35"/><circle cx="199.4" cy="285.8" r="1.35"/><circle cx="220.6" cy="277.0" r="1.35"/><circle cx="208.4" cy="293.6" r="1.35"/><circle cx="208.3" cy="279.9" r="1.35"/><circle cx="214.7" cy="280.2" r="1.35"/><circle cx="204.1" cy="279.8" r="1.35"/><circle cx="192.8" cy="277.5" r="1.35"/><circle cx="206.5" cy="285.2" r="1.35"/><circle cx="212.5" cy="274.0" r="1.35"/><circle cx="196.0" cy="285.0" r="1.35"/><circle cx="206.3" cy="281.3" r="1.35"/><circle cx="202.1" cy="286.4" r="1.35"/><circle cx="217.3" cy="277.5" r="1.35"/><circle cx="197.3" cy="288.1" r="1.35"/><circle cx="214.8" cy="277.7" r="1.35"/><circle cx="215.5" cy="278.5" r="1.35"/><circle cx="199.2" cy="280.9" r="1.35"/><circle cx="191.5" cy="285.4" r="1.35"/><circle cx="204.2" cy="279.8" r="1.35"/><circle cx="200.1" cy="282.6" r="1.35"/><circle cx="207.3" cy="280.4" r="1.35"/><circle cx="208.4" cy="281.2" r="1.35"/><circle cx="202.6" cy="278.6" r="1.35"/><circle cx="204.8" cy="285.8" r="1.35"/><circle cx="200.7" cy="282.1" r="1.35"/><circle cx="203.8" cy="281.4" r="1.35"/><circle cx="204.5" cy="281.3" r="1.35"/><circle cx="203.7" cy="287.7" r="1.35"/><circle cx="207.1" cy="277.4" r="1.35"/><circle cx="207.1" cy="282.9" r="1.35"/><circle cx="207.2" cy="286.4" r="1.35"/><circle cx="193.0" cy="281.8" r="1.35"/><circle cx="198.9" cy="278.8" r="1.35"/><circle cx="198.0" cy="293.8" r="1.35"/><circle cx="198.2" cy="275.1" r="1.35"/><circle cx="202.2" cy="288.2" r="1.35"/><circle cx="199.9" cy="279.8" r="1.35"/><circle cx="207.5" cy="281.3" r="1.35"/><circle cx="213.5" cy="278.9" r="1.35"/><circle cx="204.4" cy="279.4" r="1.35"/><circle cx="214.5" cy="277.8" r="1.35"/><circle cx="210.7" cy="286.9" r="1.35"/><circle cx="203.6" cy="278.8" r="1.35"/><circle cx="202.7" cy="277.3" r="1.35"/><circle cx="208.1" cy="278.0" r="1.35"/><circle cx="203.2" cy="270.8" r="1.35"/><circle cx="212.0" cy="283.0" r="1.35"/><circle cx="205.1" cy="270.5" r="1.35"/></g>
<g fill="#ff0000"><circle cx="206.4" cy="352.6" r="1.35"/><circle cx="210.4" cy="358.1" r="1.35"/><circle cx="234.5" cy="364.6" r="1.35"/><circle cx="241.7" cy="359.5" r="1.35"/><circle cx="248.1" cy="355.3" r="1.35"/><circle cx="236.6" cy="338.2" r="1.35"/><circle cx="228.7" cy="338.2" r="1.35"/><circle cx="214.3" cy="343.4" r="1.35"/><circle cx="225.2" cy="348.0" r="1.35"/><circle cx="229.6" cy="355.8" r="1.35"/><circle cx="230.2" cy="349.9" r="1.35"/><circle cx="219.8" cy="347.4" r="1.35"/><circle cx="225.0" cy="352.1" r="1.35"/><circle cx="232.8" cy="345.1" r="1.35"/><circle cx="222.1" cy="348.8" r="1.35"/><circle cx="220.7" cy="340.9" r="1.35"/><circle cx="223.5" cy="345.6" r="1.35"/><circle cx="222.4" cy="347.2" r="1.35"/><circle cx="223.9" cy="348.5" r="1.35"/><circle cx="226.4" cy="353.5" r="1.35"/><circle cx="242.7" cy="350.3" r="1.35"/><circle cx="215.1" cy="347.1" r="1.35"/><circle cx="214.6" cy="345.8" r="1.35"/><circle cx="222.9" cy="350.0" r="1.35"/><circle cx="236.2" cy="350.2" r="1.35"/><circle cx="217.0" cy="357.8" r="1.35"/><circle cx="235.6" cy="347.5" r="1.35"/><circle cx="221.2" cy="347.0" r="1.35"/><circle cx="230.7" cy="347.9" r="1.35"/><circle cx="210.7" cy="351.9" r="1.35"/><circle cx="233.6" cy="347.6" r="1.35"/><circle cx="233.5" cy="361.0" r="1.35"/><circle cx="228.3" cy="348.6" r="1.35"/><circle cx="245.6" cy="354.7" r="1.35"/><circle cx="224.7" cy="350.5" r="1.35"/><circle cx="233.5" cy="352.5" r="1.35"/><circle cx="235.4" cy="354.0" r="1.35"/><circle cx="229.0" cy="352.9" r="1.35"/><circle cx="228.2" cy="353.6" r="1.35"/><circle cx="215.5" cy="346.1" r="1.35"/><circle cx="229.3" cy="353.0" r="1.35"/><circle cx="228.5" cy="346.5" r="1.35"/><circle cx="220.0" cy="351.1" r="1.35"/><circle cx="231.0" cy="348.4" r="1.35"/><circle cx="224.6" cy="359.5" r="1.35"/><circle cx="236.1" cy="349.3" r="1.35"/><circle cx="227.2" cy="351.8" r="1.35"/><circle cx="229.0" cy="352.4" r="1.35"/><circle cx="219.6" cy="353.8" r="1.35"/><circle cx="222.7" cy="353.2" r="1.35"/><circle cx="218.7" cy="348.0" r="1.35"/><circle cx="217.6" cy="347.9" r="1.35"/><circle cx="219.7" cy="349.2" r="1.35"/><circle cx="237.0" cy="349.8" r="1.35"/><circle cx="221.8" cy="350.5" r="1.35"/><circle cx="228.1" cy="358.0" r="1.35"/><circle cx="222.7" cy="350.0" r="1.35"/><circle cx="223.7" cy="350.3" r="1.35"/><circle cx="232.4" cy="347.4" r="1.35"/><circle cx="233.6" cy="348.2" r="1.35"/><circle cx="225.0" cy="350.7" r="1.35"/><circle cx="225.1" cy="352.0" r="1.35"/><circle cx="225.8" cy="357.9" r="1.35"/><circle cx="224.7" cy="350.8" r="1.35"/><circle cx="220.0" cy="350.8" r="1.35"/><circle cx="230.8" cy="351.3" r="1.35"/><circle cx="225.6" cy="358.3" r="1.35"/><circle cx="234.2" cy="339.5" r="1.35"/><circle cx="208.9" cy="350.1" r="1.35"/><circle cx="230.8" cy="351.9" r="1.35"/><circle cx="231.1" cy="360.1" r="1.35"/><circle cx="233.2" cy="349.1" r="1.35"/><circle cx="227.2" cy="353.1" r="1.35"/><circle cx="231.7" cy="352.7" r="1.35"/><circle cx="228.7" cy="352.8" r="1.35"/><circle cx="210.8" cy="350.8" r="1.35"/><circle cx="228.5" cy="347.5" r="1.35"/><circle cx="220.7" cy="350.8" r="1.35"/><circle cx="231.5" cy="350.0" r="1.35"/><circle cx="236.1" cy="342.3" r="1.35"/><circle cx="220.5" cy="358.7" r="1.35"/><circle cx="233.3" cy="344.2" r="1.35"/><circle cx="233.8" cy="347.2" r="1.35"/><circle cx="222.6" cy="353.7" r="1.35"/><circle cx="233.5" cy="354.5" r="1.35"/><circle cx="213.9" cy="354.9" r="1.35"/><circle cx="245.1" cy="342.6" r="1.35"/><circle cx="222.1" cy="353.7" r="1.35"/><circle cx="228.7" cy="353.8" r="1.35"/><circle cx="236.6" cy="351.0" r="1.35"/><circle cx="219.2" cy="345.1" r="1.35"/><circle cx="222.8" cy="349.7" r="1.35"/><circle cx="227.0" cy="352.0" r="1.35"/><circle cx="229.4" cy="353.6" r="1.35"/><circle cx="213.7" cy="360.0" r="1.35"/><circle cx="217.9" cy="353.9" r="1.35"/><circle cx="226.9" cy="350.4" r="1.35"/><circle cx="231.1" cy="350.2" r="1.35"/><circle cx="221.3" cy="353.6" r="1.35"/><circle cx="211.7" cy="351.4" r="1.35"/><circle cx="230.6" cy="348.4" r="1.35"/><circle cx="226.2" cy="351.4" r="1.35"/><circle cx="233.9" cy="350.6" r="1.35"/><circle cx="232.4" cy="348.2" r="1.35"/><circle cx="228.6" cy="345.2" r="1.35"/><circle cx="222.9" cy="352.2" r="1.35"/><circle cx="221.2" cy="354.0" r="1.35"/><circle cx="238.4" cy="343.2" r="1.35"/><circle cx="227.2" cy="348.3" r="1.35"/><circle cx="235.6" cy="347.3" r="1.35"/><circle cx="235.8" cy="356.0" r="1.35"/><circle cx="222.4" cy="348.7" r="1.35"/><circle cx="237.5" cy="350.2" r="1.35"/><circle cx="220.8" cy="352.1" r="1.35"/><circle cx="222.3" cy="354.3" r="1.35"/><circle cx="238.0" cy="353.3" r="1.35"/><circle cx="227.2" cy="341.5" r="1.35"/><circle cx="235.7" cy="349.2" r="1.35"/><circle cx="222.6" cy="348.9" r="1.35"/><circle cx="238.8" cy="348.0" r="1.35"/><circle cx="236.2" cy="350.2" r="1.35"/><circle cx="230.8" cy="351.5" r="1.35"/><circle cx="230.2" cy="345.2" r="1.35"/><circle cx="216.7" cy="350.9" r="1.35"/><circle cx="228.8" cy="353.1" r="1.35"/><circle cx="224.8" cy="347.3" r="1.35"/><circle cx="241.6" cy="348.0" r="1.35"/><circle cx="229.4" cy="357.2" r="1.35"/><circle cx="241.0" cy="350.3" r="1.35"/><circle cx="226.8" cy="355.4" r="1.35"/><circle cx="226.7" cy="355.3" r="1.35"/><circle cx="227.6" cy="348.7" r="1.35"/><circle cx="227.3" cy="349.5" r="1.35"/><circle cx="220.9" cy="344.6" r="1.35"/><circle cx="222.3" cy="358.3" r="1.35"/><circle cx="225.7" cy="353.9" r="1.35"/><circle cx="219.7" cy="352.2" r="1.35"/><circle cx="229.2" cy="355.6" r="1.35"/><circle cx="226.1" cy="344.6" r="1.35"/><circle cx="232.0" cy="351.3" r="1.35"/><circle cx="228.0" cy="351.2" r="1.35"/><circle cx="226.7" cy="347.6" r="1.35"/><circle cx="226.4" cy="360.8" r="1.35"/><circle cx="226.9" cy="354.4" r="1.35"/><circle cx="231.8" cy="353.2" r="1.35"/><circle cx="228.1" cy="341.5" r="1.35"/><circle cx="219.5" cy="355.4" r="1.35"/><circle cx="216.8" cy="360.7" r="1.35"/><circle cx="213.4" cy="349.1" r="1.35"/><circle cx="222.4" cy="358.5" r="1.35"/><circle cx="216.3" cy="348.1" r="1.35"/><circle cx="221.4" cy="352.2" r="1.35"/><circle cx="229.5" cy="344.9" r="1.35"/><circle cx="241.1" cy="346.3" r="1.35"/><circle cx="228.1" cy="349.9" r="1.35"/><circle cx="240.1" cy="344.6" r="1.35"/><circle cx="224.8" cy="348.7" r="1.35"/><circle cx="229.2" cy="350.4" r="1.35"/><circle cx="223.4" cy="356.2" r="1.35"/><circle cx="223.2" cy="357.2" r="1.35"/><circle cx="235.9" cy="348.4" r="1.35"/><circle cx="218.3" cy="344.8" r="1.35"/><circle cx="233.5" cy="358.7" r="1.35"/><circle cx="240.4" cy="347.2" r="1.35"/><circle cx="242.0" cy="355.8" r="1.35"/><circle cx="230.9" cy="348.9" r="1.35"/><circle cx="228.5" cy="349.9" r="1.35"/><circle cx="234.7" cy="357.0" r="1.35"/><circle cx="218.1" cy="356.5" r="1.35"/><circle cx="223.0" cy="353.2" r="1.35"/><circle cx="229.7" cy="349.5" r="1.35"/><circle cx="227.3" cy="353.5" r="1.35"/><circle cx="223.9" cy="346.6" r="1.35"/><circle cx="232.6" cy="350.2" r="1.35"/><circle cx="224.7" cy="344.1" r="1.35"/><circle cx="222.8" cy="347.9" r="1.35"/><circle cx="235.4" cy="351.8" r="1.35"/><circle cx="233.1" cy="355.4" r="1.35"/><circle cx="234.4" cy="349.8" r="1.35"/><circle cx="215.6" cy="347.8" r="1.35"/><circle cx="220.6" cy="345.3" r="1.35"/><circle cx="222.1" cy="351.4" r="1.35"/><circle cx="229.1" cy="352.1" r="1.35"/><circle cx="229.0" cy="353.0" r="1.35"/><circle cx="231.9" cy="350.6" r="1.35"/><circle cx="228.6" cy="362.3" r="1.35"/><circle cx="235.5" cy="350.5" r="1.35"/><circle cx="214.1" cy="350.3" r="1.35"/><circle cx="230.5" cy="346.1" r="1.35"/><circle cx="219.2" cy="344.1" r="1.35"/><circle cx="225.9" cy="340.6" r="1.35"/><circle cx="226.0" cy="347.8" r="1.35"/><circle cx="224.4" cy="355.4" r="1.35"/><circle cx="235.0" cy="346.8" r="1.35"/><circle cx="238.2" cy="347.0" r="1.35"/><circle cx="222.9" cy="357.7" r="1.35"/><circle cx="222.4" cy="353.5" r="1.35"/><circle cx="221.2" cy="348.2" r="1.35"/><circle cx="229.4" cy="351.8" r="1.35"/><circle cx="228.3" cy="351.3" r="1.35"/><circle cx="228.6" cy="347.5" r="1.35"/><circle cx="234.0" cy="353.5" r="1.35"/><circle cx="216.1" cy="344.6" r="1.35"/><circle cx="227.9" cy="346.0" r="1.35"/><circle cx="215.2" cy="352.0" r="1.35"/><circle cx="227.3" cy="356.7" r="1.35"/><circle cx="223.3" cy="347.6" r="1.35"/><circle cx="234.9" cy="343.9" r="1.35"/><circle cx="220.8" cy="356.6" r="1.35"/><circle cx="230.8" cy="346.7" r="1.35"/><circle cx="228.5" cy="356.1" r="1.35"/><circle cx="232.7" cy="347.3" r="1.35"/><circle cx="231.1" cy="352.7" r="1.35"/><circle cx="229.3" cy="347.3" r="1.35"/><circle cx="223.0" cy="358.4" r="1.35"/><circle cx="229.5" cy="348.6" r="1.35"/><circle cx="227.2" cy="346.9" r="1.35"/><circle cx="222.8" cy="351.0" r="1.35"/></g>
<g fill="#ffa500"><circle cx="90.8" cy="308.3" r="1.35"/><circle cx="116.1" cy="307.6" r="1.35"/><circle cx="121.3" cy="307.8" r="1.35"/><circle cx="126.2" cy="307.8" r="1.35"/><circle cx="151.8" cy="307.6" r="1.35"/><circle cx="68.9" cy="321.9" r="1.35"/><circle cx="70.3" cy="325.5" r="1.35"/><circle cx="79.8" cy="324.1" r="1.35"/><circle cx="84.7" cy="326.6" r="1.35"/><circle cx="95.9" cy="320.5" r="1.35"/><circle cx="96.5" cy="322.2" r="1.35"/><circle cx="100.5" cy="325.1" r="1.35"/><circle cx="95.5" cy="328.0" r="1.35"/><circle cx="98.7" cy="328.9" r="1.35"/><circle cx="60.5" cy="329.8" r="1.35"/><circle cx="87.3" cy="331.4" r="1.35"/><circle cx="68.7" cy="334.0" r="1.35"/><circle cx="102.6" cy="312.8" r="1.35"/><circle cx="108.9" cy="314.7" r="1.35"/><circle cx="118.7" cy="315.7" r="1.35"/><circle cx="117.3" cy="317.9" r="1.35"/><circle cx="115.8" cy="320.5" r="1.35"/><circle cx="123.0" cy="322.2" r="1.35"/><circle cx="121.6" cy="323.4" r="1.35"/><circle cx="127.3" cy="325.1" r="1.35"/><circle cx="107.2" cy="328.7" r="1.35"/><circle cx="108.6" cy="332.4" r="1.35"/><circle cx="125.9" cy="329.8" r="1.35"/><circle cx="125.2" cy="332.1" r="1.35"/><circle cx="123.0" cy="331.2" r="1.35"/><circle cx="117.3" cy="334.0" r="1.35"/><circle cx="115.1" cy="335.2" r="1.35"/><circle cx="105.4" cy="335.9" r="1.35"/><circle cx="56.4" cy="339.8" r="1.35"/><circle cx="69.6" cy="340.1" r="1.35"/><circle cx="72.5" cy="337.9" r="1.35"/><circle cx="75.4" cy="338.2" r="1.35"/><circle cx="78.2" cy="338.2" r="1.35"/><circle cx="97.3" cy="338.2" r="1.35"/><circle cx="86.5" cy="341.1" r="1.35"/><circle cx="89.3" cy="345.2" r="1.35"/><circle cx="92.4" cy="343.7" r="1.35"/><circle cx="98.4" cy="345.5" r="1.35"/><circle cx="70.7" cy="346.5" r="1.35"/><circle cx="63.6" cy="349.4" r="1.35"/><circle cx="78.6" cy="350.2" r="1.35"/><circle cx="81.1" cy="352.4" r="1.35"/><circle cx="87.6" cy="349.7" r="1.35"/><circle cx="97.3" cy="349.4" r="1.35"/><circle cx="48.5" cy="351.6" r="1.35"/><circle cx="55.1" cy="351.3" r="1.35"/><circle cx="63.6" cy="358.4" r="1.35"/><circle cx="68.9" cy="356.7" r="1.35"/><circle cx="94.5" cy="357.4" r="1.35"/><circle cx="99.1" cy="356.7" r="1.35"/><circle cx="99.8" cy="355.3" r="1.35"/><circle cx="98.8" cy="363.2" r="1.35"/><circle cx="77.3" cy="368.0" r="1.35"/><circle cx="97.3" cy="373.7" r="1.35"/><circle cx="65.6" cy="378.3" r="1.35"/><circle cx="71.8" cy="378.0" r="1.35"/><circle cx="88.7" cy="378.0" r="1.35"/><circle cx="96.9" cy="388.4" r="1.35"/><circle cx="115.8" cy="336.5" r="1.35"/><circle cx="118.0" cy="335.7" r="1.35"/><circle cx="114.3" cy="340.1" r="1.35"/><circle cx="108.6" cy="340.1" r="1.35"/><circle cx="105.0" cy="342.6" r="1.35"/><circle cx="107.2" cy="344.0" r="1.35"/><circle cx="111.5" cy="343.0" r="1.35"/><circle cx="114.1" cy="345.8" r="1.35"/><circle cx="118.7" cy="342.6" r="1.35"/><circle cx="124.7" cy="343.7" r="1.35"/><circle cx="126.6" cy="345.8" r="1.35"/><circle cx="127.3" cy="348.0" r="1.35"/><circle cx="129.5" cy="347.3" r="1.35"/><circle cx="133.8" cy="348.0" r="1.35"/><circle cx="138.9" cy="346.8" r="1.35"/><circle cx="123.7" cy="350.2" r="1.35"/><circle cx="125.9" cy="352.4" r="1.35"/><circle cx="107.2" cy="349.4" r="1.35"/><circle cx="108.9" cy="348.3" r="1.35"/><circle cx="116.5" cy="352.6" r="1.35"/><circle cx="121.6" cy="354.5" r="1.35"/><circle cx="130.4" cy="353.1" r="1.35"/><circle cx="131.9" cy="355.0" r="1.35"/><circle cx="134.5" cy="353.8" r="1.35"/><circle cx="129.5" cy="356.7" r="1.35"/><circle cx="136.0" cy="357.4" r="1.35"/><circle cx="139.5" cy="354.5" r="1.35"/><circle cx="133.8" cy="351.6" r="1.35"/><circle cx="152.5" cy="356.0" r="1.35"/><circle cx="154.4" cy="357.8" r="1.35"/><circle cx="145.8" cy="356.4" r="1.35"/><circle cx="148.1" cy="355.3" r="1.35"/><circle cx="102.2" cy="358.8" r="1.35"/><circle cx="106.4" cy="357.0" r="1.35"/><circle cx="110.1" cy="357.4" r="1.35"/><circle cx="109.4" cy="361.0" r="1.35"/><circle cx="108.9" cy="358.8" r="1.35"/><circle cx="117.5" cy="361.7" r="1.35"/><circle cx="119.4" cy="359.5" r="1.35"/><circle cx="119.9" cy="363.9" r="1.35"/><circle cx="118.7" cy="365.3" r="1.35"/><circle cx="124.1" cy="361.3" r="1.35"/><circle cx="143.9" cy="361.3" r="1.35"/><circle cx="130.9" cy="364.6" r="1.35"/><circle cx="134.8" cy="366.5" r="1.35"/><circle cx="137.7" cy="367.5" r="1.35"/><circle cx="138.1" cy="369.6" r="1.35"/><circle cx="143.1" cy="369.0" r="1.35"/><circle cx="153.9" cy="369.9" r="1.35"/><circle cx="160.1" cy="363.2" r="1.35"/><circle cx="160.4" cy="365.3" r="1.35"/><circle cx="167.6" cy="364.6" r="1.35"/><circle cx="176.2" cy="362.1" r="1.35"/><circle cx="124.1" cy="372.2" r="1.35"/><circle cx="116.1" cy="376.2" r="1.35"/><circle cx="120.9" cy="376.9" r="1.35"/><circle cx="144.6" cy="377.2" r="1.35"/><circle cx="153.9" cy="377.2" r="1.35"/><circle cx="159.2" cy="377.2" r="1.35"/><circle cx="162.1" cy="375.1" r="1.35"/><circle cx="163.3" cy="380.1" r="1.35"/><circle cx="124.7" cy="381.9" r="1.35"/><circle cx="125.6" cy="384.1" r="1.35"/><circle cx="123.7" cy="386.2" r="1.35"/><circle cx="141.0" cy="382.3" r="1.35"/><circle cx="162.6" cy="385.8" r="1.35"/><circle cx="115.1" cy="389.1" r="1.35"/><circle cx="188.0" cy="369.9" r="1.35"/><circle cx="138.9" cy="348.9" r="1.35"/></g>
<path d="M149.71,282.76 L150.36,284.48 L152.19,284.56 L150.75,285.70 L151.24,287.47 L149.71,286.46 L148.19,287.47 L148.68,285.70 L147.24,284.56 L149.07,284.48Z" fill="#ff00ff"/>
<path d="M203.14,280.94 L203.78,282.65 L205.61,282.73 L204.18,283.88 L204.67,285.64 L203.14,284.63 L201.61,285.64 L202.10,283.88 L200.67,282.73 L202.50,282.65Z" fill="#ff00ff"/>
<path d="M181.54,329.33 L182.18,331.05 L184.02,331.13 L182.58,332.27 L183.07,334.04 L181.54,333.03 L180.01,334.04 L180.50,332.27 L179.07,331.13 L180.90,331.05Z" fill="#ff00ff"/>
<path d="M228.12,347.03 L228.76,348.74 L230.59,348.82 L229.16,349.96 L229.65,351.73 L228.12,350.72 L226.59,351.73 L227.08,349.96 L225.65,348.82 L227.48,348.74Z" fill="#ff00ff"/>
<path d="M133.28,349.13 L133.92,350.85 L135.75,350.93 L134.31,352.07 L134.80,353.84 L133.28,352.83 L131.75,353.84 L132.24,352.07 L130.80,350.93 L132.63,350.85Z" fill="#ff00ff"/>
<rect x="22.8" y="221.1" width="236.1" height="175.8" fill="none" stroke="#6e6e6e" stroke-width="1.1"/>
<line x1="61.9" y1="396.9" x2="61.9" y2="399.4" stroke="#6e6e6e" stroke-width="0.8"/>
<text x="61.9" y="406.8" text-anchor="middle" class="tk">−15</text>
<line x1="102.2" y1="396.9" x2="102.2" y2="399.4" stroke="#6e6e6e" stroke-width="0.8"/>
<text x="102.2" y="406.8" text-anchor="middle" class="tk">−10</text>
<line x1="142.5" y1="396.9" x2="142.5" y2="399.4" stroke="#6e6e6e" stroke-width="0.8"/>
<text x="142.5" y="406.8" text-anchor="middle" class="tk">−5</text>
<line x1="182.8" y1="396.9" x2="182.8" y2="399.4" stroke="#6e6e6e" stroke-width="0.8"/>
<text x="182.8" y="406.8" text-anchor="middle" class="tk">0</text>
<line x1="223.0" y1="396.9" x2="223.0" y2="399.4" stroke="#6e6e6e" stroke-width="0.8"/>
<text x="223.0" y="406.8" text-anchor="middle" class="tk">5</text>
<line x1="20.3" y1="375.7" x2="22.8" y2="375.7" stroke="#6e6e6e" stroke-width="0.8"/>
<text x="17.5" y="377.8" text-anchor="end" class="tk">−15</text>
<line x1="20.3" y1="352.3" x2="22.8" y2="352.3" stroke="#6e6e6e" stroke-width="0.8"/>
<text x="17.5" y="354.4" text-anchor="end" class="tk">−10</text>
<line x1="20.3" y1="328.9" x2="22.8" y2="328.9" stroke="#6e6e6e" stroke-width="0.8"/>
<text x="17.5" y="331.0" text-anchor="end" class="tk">−5</text>
<line x1="20.3" y1="305.5" x2="22.8" y2="305.5" stroke="#6e6e6e" stroke-width="0.8"/>
<text x="17.5" y="307.6" text-anchor="end" class="tk">0</text>
<line x1="20.3" y1="282.1" x2="22.8" y2="282.1" stroke="#6e6e6e" stroke-width="0.8"/>
<text x="17.5" y="284.2" text-anchor="end" class="tk">5</text>
<line x1="20.3" y1="258.7" x2="22.8" y2="258.7" stroke="#6e6e6e" stroke-width="0.8"/>
<text x="17.5" y="260.8" text-anchor="end" class="tk">10</text>
<line x1="20.3" y1="235.3" x2="22.8" y2="235.3" stroke="#6e6e6e" stroke-width="0.8"/>
<text x="17.5" y="237.4" text-anchor="end" class="tk">15</text>
<text x="63.7" y="259.4" text-anchor="middle" class="lt">D</text>
<text x="241.1" y="275.1" text-anchor="middle" class="lt">A</text>
<text x="202.1" y="326.9" text-anchor="middle" class="lt">B</text>
<text x="238.7" y="380.2" text-anchor="middle" class="lt">C</text>
<text x="45.8" y="377.1" text-anchor="middle" class="lt">E</text>
<text x="132.5" y="422.5" text-anchor="middle" class="lb" style="font-size:13.3px">(<tspan font-weight="bold">c</tspan>)</text>
<g fill="#767676"><circle cx="460.3" cy="249.2" r="1.35"/><circle cx="457.3" cy="260.9" r="1.35"/><circle cx="456.1" cy="262.3" r="1.35"/><circle cx="461.0" cy="265.1" r="1.35"/><circle cx="464.2" cy="267.2" r="1.35"/><circle cx="465.6" cy="268.6" r="1.35"/><circle cx="462.8" cy="269.3" r="1.35"/><circle cx="458.6" cy="270.7" r="1.35"/><circle cx="456.5" cy="271.7" r="1.35"/><circle cx="462.2" cy="271.4" r="1.35"/><circle cx="466.9" cy="270.7" r="1.35"/><circle cx="450.3" cy="275.6" r="1.35"/><circle cx="458.3" cy="274.2" r="1.35"/><circle cx="470.5" cy="248.8" r="1.35"/><circle cx="468.8" cy="269.4" r="1.35"/><circle cx="469.4" cy="295.6" r="1.35"/><circle cx="453.1" cy="279.4" r="1.35"/><circle cx="459.3" cy="282.2" r="1.35"/><circle cx="460.7" cy="281.2" r="1.35"/><circle cx="453.7" cy="286.8" r="1.35"/><circle cx="457.3" cy="287.4" r="1.35"/><circle cx="459.3" cy="289.6" r="1.35"/><circle cx="451.6" cy="290.5" r="1.35"/><circle cx="455.2" cy="292.0" r="1.35"/><circle cx="448.9" cy="294.8" r="1.35"/><circle cx="465.3" cy="296.1" r="1.35"/><circle cx="498.7" cy="258.8" r="1.35"/><circle cx="479.4" cy="267.9" r="1.35"/><circle cx="503.1" cy="267.0" r="1.35"/><circle cx="496.8" cy="268.3" r="1.35"/><circle cx="509.0" cy="274.2" r="1.35"/><circle cx="470.9" cy="278.3" r="1.35"/><circle cx="472.0" cy="286.2" r="1.35"/><circle cx="475.6" cy="292.5" r="1.35"/><circle cx="476.7" cy="288.8" r="1.35"/><circle cx="513.7" cy="278.3" r="1.35"/><circle cx="496.0" cy="290.3" r="1.35"/><circle cx="499.6" cy="288.8" r="1.35"/><circle cx="510.0" cy="281.5" r="1.35"/><circle cx="465.2" cy="288.2" r="1.35"/><circle cx="491.4" cy="276.7" r="1.35"/><circle cx="491.6" cy="280.2" r="1.35"/><circle cx="487.5" cy="279.8" r="1.35"/><circle cx="499.4" cy="277.1" r="1.35"/><circle cx="499.0" cy="277.8" r="1.35"/><circle cx="495.2" cy="278.1" r="1.35"/><circle cx="483.2" cy="275.2" r="1.35"/><circle cx="495.9" cy="276.7" r="1.35"/><circle cx="483.0" cy="286.4" r="1.35"/><circle cx="487.7" cy="280.9" r="1.35"/><circle cx="494.7" cy="279.1" r="1.35"/><circle cx="496.0" cy="281.7" r="1.35"/><circle cx="494.7" cy="277.2" r="1.35"/><circle cx="489.1" cy="271.5" r="1.35"/><circle cx="496.2" cy="273.7" r="1.35"/><circle cx="489.3" cy="282.1" r="1.35"/><circle cx="490.9" cy="279.3" r="1.35"/><circle cx="496.6" cy="277.8" r="1.35"/><circle cx="490.3" cy="283.0" r="1.35"/><circle cx="489.9" cy="273.6" r="1.35"/><circle cx="488.2" cy="277.8" r="1.35"/><circle cx="495.4" cy="285.3" r="1.35"/><circle cx="493.2" cy="273.2" r="1.35"/><circle cx="481.2" cy="280.3" r="1.35"/><circle cx="492.3" cy="282.4" r="1.35"/><circle cx="495.8" cy="279.2" r="1.35"/><circle cx="484.4" cy="275.3" r="1.35"/><circle cx="496.8" cy="274.8" r="1.35"/><circle cx="501.3" cy="277.3" r="1.35"/><circle cx="493.6" cy="284.5" r="1.35"/><circle cx="496.5" cy="281.5" r="1.35"/><circle cx="490.3" cy="284.3" r="1.35"/><circle cx="487.3" cy="281.2" r="1.35"/><circle cx="500.5" cy="287.7" r="1.35"/><circle cx="484.4" cy="277.9" r="1.35"/><circle cx="501.4" cy="276.4" r="1.35"/><circle cx="481.8" cy="289.7" r="1.35"/><circle cx="495.0" cy="282.1" r="1.35"/><circle cx="486.4" cy="274.7" r="1.35"/><circle cx="499.4" cy="278.2" r="1.35"/><circle cx="494.4" cy="277.0" r="1.35"/><circle cx="502.2" cy="276.2" r="1.35"/><circle cx="496.0" cy="276.5" r="1.35"/><circle cx="483.8" cy="273.4" r="1.35"/><circle cx="498.5" cy="276.6" r="1.35"/><circle cx="481.4" cy="281.6" r="1.35"/><circle cx="497.8" cy="286.7" r="1.35"/><circle cx="491.9" cy="274.5" r="1.35"/><circle cx="485.3" cy="271.9" r="1.35"/><circle cx="496.2" cy="279.5" r="1.35"/><circle cx="494.8" cy="276.1" r="1.35"/><circle cx="493.6" cy="273.9" r="1.35"/><circle cx="489.1" cy="280.7" r="1.35"/><circle cx="499.0" cy="278.8" r="1.35"/><circle cx="487.8" cy="274.8" r="1.35"/><circle cx="501.5" cy="280.8" r="1.35"/><circle cx="484.9" cy="279.5" r="1.35"/><circle cx="492.1" cy="280.2" r="1.35"/><circle cx="501.1" cy="283.3" r="1.35"/><circle cx="500.3" cy="284.4" r="1.35"/><circle cx="488.3" cy="276.2" r="1.35"/><circle cx="499.5" cy="275.2" r="1.35"/><circle cx="494.9" cy="278.3" r="1.35"/><circle cx="493.8" cy="276.4" r="1.35"/><circle cx="491.9" cy="277.7" r="1.35"/><circle cx="496.3" cy="278.9" r="1.35"/><circle cx="497.4" cy="276.4" r="1.35"/><circle cx="504.7" cy="277.5" r="1.35"/><circle cx="490.4" cy="280.5" r="1.35"/><circle cx="492.9" cy="274.9" r="1.35"/><circle cx="491.0" cy="277.2" r="1.35"/><circle cx="503.7" cy="289.9" r="1.35"/><circle cx="486.4" cy="277.8" r="1.35"/><circle cx="495.3" cy="277.9" r="1.35"/><circle cx="490.4" cy="276.1" r="1.35"/><circle cx="494.6" cy="281.1" r="1.35"/><circle cx="507.1" cy="277.4" r="1.35"/><circle cx="489.7" cy="279.3" r="1.35"/><circle cx="491.6" cy="279.2" r="1.35"/><circle cx="477.0" cy="281.0" r="1.35"/><circle cx="498.8" cy="283.9" r="1.35"/><circle cx="492.5" cy="274.8" r="1.35"/><circle cx="497.9" cy="272.4" r="1.35"/><circle cx="483.0" cy="280.4" r="1.35"/><circle cx="490.9" cy="276.2" r="1.35"/><circle cx="499.3" cy="290.5" r="1.35"/><circle cx="499.3" cy="285.1" r="1.35"/><circle cx="496.9" cy="285.3" r="1.35"/><circle cx="494.0" cy="273.7" r="1.35"/><circle cx="492.1" cy="278.1" r="1.35"/><circle cx="497.6" cy="278.3" r="1.35"/><circle cx="492.4" cy="272.3" r="1.35"/><circle cx="499.1" cy="280.2" r="1.35"/><circle cx="509.0" cy="283.8" r="1.35"/><circle cx="498.3" cy="280.0" r="1.35"/><circle cx="493.7" cy="275.8" r="1.35"/><circle cx="494.2" cy="276.1" r="1.35"/><circle cx="484.0" cy="285.4" r="1.35"/><circle cx="496.5" cy="283.0" r="1.35"/><circle cx="486.9" cy="285.2" r="1.35"/><circle cx="500.3" cy="275.7" r="1.35"/><circle cx="501.5" cy="282.9" r="1.35"/><circle cx="492.9" cy="283.8" r="1.35"/><circle cx="497.4" cy="272.0" r="1.35"/><circle cx="487.7" cy="272.2" r="1.35"/><circle cx="498.7" cy="279.7" r="1.35"/><circle cx="481.4" cy="272.8" r="1.35"/><circle cx="492.4" cy="281.5" r="1.35"/><circle cx="495.3" cy="277.1" r="1.35"/><circle cx="501.7" cy="283.3" r="1.35"/><circle cx="499.6" cy="272.5" r="1.35"/><circle cx="501.4" cy="279.7" r="1.35"/><circle cx="488.6" cy="274.5" r="1.35"/><circle cx="493.6" cy="278.3" r="1.35"/><circle cx="501.2" cy="280.0" r="1.35"/><circle cx="479.5" cy="280.6" r="1.35"/><circle cx="482.1" cy="275.4" r="1.35"/><circle cx="494.8" cy="281.5" r="1.35"/><circle cx="492.9" cy="275.3" r="1.35"/><circle cx="493.4" cy="273.2" r="1.35"/><circle cx="492.6" cy="274.4" r="1.35"/><circle cx="501.6" cy="271.9" r="1.35"/><circle cx="489.0" cy="275.1" r="1.35"/><circle cx="482.0" cy="283.6" r="1.35"/><circle cx="481.5" cy="274.3" r="1.35"/><circle cx="485.7" cy="278.9" r="1.35"/><circle cx="491.8" cy="279.0" r="1.35"/><circle cx="489.5" cy="277.9" r="1.35"/><circle cx="503.4" cy="278.7" r="1.35"/><circle cx="496.0" cy="274.6" r="1.35"/><circle cx="491.8" cy="284.3" r="1.35"/><circle cx="489.7" cy="274.3" r="1.35"/><circle cx="483.3" cy="281.5" r="1.35"/><circle cx="498.8" cy="275.5" r="1.35"/><circle cx="493.0" cy="275.4" r="1.35"/><circle cx="493.9" cy="284.0" r="1.35"/><circle cx="483.8" cy="281.6" r="1.35"/><circle cx="498.3" cy="281.3" r="1.35"/><circle cx="487.7" cy="282.2" r="1.35"/><circle cx="484.0" cy="279.4" r="1.35"/><circle cx="486.0" cy="277.3" r="1.35"/><circle cx="479.1" cy="277.5" r="1.35"/><circle cx="489.2" cy="287.3" r="1.35"/><circle cx="497.2" cy="280.1" r="1.35"/><circle cx="479.9" cy="282.7" r="1.35"/><circle cx="494.6" cy="280.9" r="1.35"/><circle cx="497.5" cy="275.7" r="1.35"/><circle cx="496.8" cy="277.5" r="1.35"/><circle cx="500.7" cy="276.0" r="1.35"/><circle cx="495.6" cy="287.9" r="1.35"/><circle cx="498.2" cy="273.2" r="1.35"/><circle cx="491.2" cy="280.9" r="1.35"/><circle cx="504.3" cy="286.5" r="1.35"/><circle cx="495.7" cy="268.4" r="1.35"/><circle cx="487.5" cy="275.9" r="1.35"/><circle cx="503.9" cy="279.4" r="1.35"/><circle cx="496.2" cy="275.0" r="1.35"/><circle cx="487.6" cy="279.3" r="1.35"/><circle cx="494.6" cy="275.3" r="1.35"/><circle cx="492.7" cy="279.7" r="1.35"/><circle cx="487.0" cy="280.4" r="1.35"/><circle cx="498.1" cy="278.4" r="1.35"/><circle cx="487.9" cy="282.5" r="1.35"/><circle cx="508.5" cy="274.0" r="1.35"/><circle cx="496.7" cy="290.1" r="1.35"/><circle cx="496.6" cy="276.8" r="1.35"/><circle cx="502.8" cy="277.0" r="1.35"/><circle cx="492.5" cy="276.6" r="1.35"/><circle cx="481.6" cy="274.4" r="1.35"/><circle cx="494.8" cy="281.9" r="1.35"/><circle cx="500.7" cy="271.1" r="1.35"/><circle cx="484.7" cy="281.8" r="1.35"/><circle cx="494.6" cy="278.1" r="1.35"/><circle cx="490.6" cy="283.1" r="1.35"/><circle cx="505.3" cy="274.4" r="1.35"/><circle cx="486.0" cy="284.7" r="1.35"/><circle cx="502.9" cy="274.6" r="1.35"/><circle cx="503.6" cy="275.4" r="1.35"/><circle cx="487.8" cy="277.8" r="1.35"/><circle cx="480.3" cy="282.1" r="1.35"/><circle cx="492.6" cy="276.6" r="1.35"/><circle cx="488.7" cy="279.4" r="1.35"/><circle cx="495.6" cy="277.3" r="1.35"/><circle cx="496.7" cy="278.0" r="1.35"/><circle cx="491.0" cy="275.5" r="1.35"/><circle cx="493.2" cy="282.4" r="1.35"/><circle cx="489.3" cy="278.9" r="1.35"/><circle cx="492.3" cy="278.2" r="1.35"/><circle cx="492.9" cy="278.1" r="1.35"/><circle cx="492.1" cy="284.3" r="1.35"/><circle cx="495.4" cy="274.3" r="1.35"/><circle cx="495.5" cy="279.7" r="1.35"/><circle cx="495.5" cy="283.1" r="1.35"/><circle cx="481.9" cy="278.6" r="1.35"/><circle cx="487.5" cy="275.7" r="1.35"/><circle cx="486.6" cy="290.2" r="1.35"/><circle cx="486.9" cy="272.1" r="1.35"/><circle cx="490.7" cy="284.8" r="1.35"/><circle cx="488.5" cy="276.6" r="1.35"/><circle cx="495.8" cy="278.1" r="1.35"/><circle cx="501.6" cy="275.8" r="1.35"/><circle cx="492.8" cy="276.3" r="1.35"/><circle cx="502.6" cy="274.7" r="1.35"/><circle cx="498.9" cy="283.6" r="1.35"/><circle cx="492.1" cy="275.7" r="1.35"/><circle cx="491.2" cy="274.3" r="1.35"/><circle cx="496.4" cy="275.0" r="1.35"/><circle cx="491.7" cy="267.9" r="1.35"/><circle cx="500.2" cy="279.8" r="1.35"/><circle cx="493.5" cy="267.7" r="1.35"/></g>
<g fill="#0000ff"><circle cx="374.8" cy="233.6" r="1.35"/><circle cx="369.3" cy="240.6" r="1.35"/><circle cx="375.8" cy="243.4" r="1.35"/><circle cx="385.8" cy="249.7" r="1.35"/><circle cx="393.5" cy="252.0" r="1.35"/><circle cx="369.6" cy="255.7" r="1.35"/><circle cx="387.6" cy="260.9" r="1.35"/><circle cx="391.3" cy="264.6" r="1.35"/><circle cx="371.6" cy="267.4" r="1.35"/><circle cx="360.9" cy="270.5" r="1.35"/><circle cx="380.4" cy="268.6" r="1.35"/><circle cx="381.6" cy="269.7" r="1.35"/><circle cx="388.0" cy="268.6" r="1.35"/><circle cx="389.0" cy="271.1" r="1.35"/><circle cx="367.2" cy="273.1" r="1.35"/><circle cx="371.2" cy="274.9" r="1.35"/><circle cx="384.1" cy="273.2" r="1.35"/><circle cx="354.5" cy="275.6" r="1.35"/><circle cx="386.8" cy="277.0" r="1.35"/><circle cx="409.3" cy="240.6" r="1.35"/><circle cx="398.6" cy="244.8" r="1.35"/><circle cx="404.7" cy="248.8" r="1.35"/><circle cx="414.5" cy="251.6" r="1.35"/><circle cx="401.9" cy="254.6" r="1.35"/><circle cx="404.1" cy="256.3" r="1.35"/><circle cx="412.5" cy="258.1" r="1.35"/><circle cx="398.6" cy="261.6" r="1.35"/><circle cx="409.3" cy="261.6" r="1.35"/><circle cx="399.9" cy="265.8" r="1.35"/><circle cx="403.0" cy="267.2" r="1.35"/><circle cx="395.0" cy="267.9" r="1.35"/><circle cx="405.1" cy="270.3" r="1.35"/><circle cx="407.2" cy="272.8" r="1.35"/><circle cx="401.4" cy="273.1" r="1.35"/><circle cx="416.3" cy="272.1" r="1.35"/><circle cx="405.8" cy="275.6" r="1.35"/><circle cx="407.9" cy="274.9" r="1.35"/><circle cx="413.9" cy="276.3" r="1.35"/><circle cx="327.8" cy="281.8" r="1.35"/><circle cx="367.2" cy="274.7" r="1.35"/><circle cx="369.6" cy="279.0" r="1.35"/><circle cx="364.2" cy="285.3" r="1.35"/><circle cx="377.9" cy="283.1" r="1.35"/><circle cx="381.6" cy="282.5" r="1.35"/><circle cx="382.3" cy="281.5" r="1.35"/><circle cx="386.2" cy="284.6" r="1.35"/><circle cx="389.0" cy="284.9" r="1.35"/><circle cx="388.3" cy="287.7" r="1.35"/><circle cx="392.9" cy="280.3" r="1.35"/><circle cx="397.5" cy="279.7" r="1.35"/><circle cx="399.2" cy="284.6" r="1.35"/><circle cx="405.6" cy="283.1" r="1.35"/><circle cx="410.0" cy="280.7" r="1.35"/><circle cx="412.5" cy="282.2" r="1.35"/><circle cx="414.2" cy="283.6" r="1.35"/><circle cx="418.0" cy="281.2" r="1.35"/><circle cx="421.1" cy="280.0" r="1.35"/><circle cx="422.2" cy="281.5" r="1.35"/><circle cx="411.7" cy="283.6" r="1.35"/><circle cx="440.6" cy="226.9" r="1.35"/><circle cx="424.1" cy="237.8" r="1.35"/><circle cx="437.8" cy="237.8" r="1.35"/><circle cx="436.6" cy="239.9" r="1.35"/><circle cx="425.0" cy="242.3" r="1.35"/><circle cx="431.6" cy="242.0" r="1.35"/><circle cx="435.9" cy="242.3" r="1.35"/><circle cx="447.2" cy="241.7" r="1.35"/><circle cx="456.7" cy="245.1" r="1.35"/><circle cx="433.6" cy="249.2" r="1.35"/><circle cx="439.7" cy="249.7" r="1.35"/><circle cx="429.5" cy="251.1" r="1.35"/><circle cx="432.8" cy="255.3" r="1.35"/><circle cx="435.3" cy="259.5" r="1.35"/><circle cx="437.1" cy="258.8" r="1.35"/><circle cx="426.4" cy="259.5" r="1.35"/><circle cx="422.5" cy="263.0" r="1.35"/><circle cx="429.2" cy="264.4" r="1.35"/><circle cx="433.3" cy="263.0" r="1.35"/><circle cx="446.1" cy="263.7" r="1.35"/><circle cx="443.6" cy="265.1" r="1.35"/><circle cx="422.8" cy="266.5" r="1.35"/><circle cx="441.2" cy="267.2" r="1.35"/><circle cx="436.2" cy="267.2" r="1.35"/><circle cx="421.8" cy="269.3" r="1.35"/><circle cx="434.3" cy="269.7" r="1.35"/><circle cx="424.1" cy="271.4" r="1.35"/><circle cx="436.2" cy="271.7" r="1.35"/><circle cx="446.9" cy="272.1" r="1.35"/><circle cx="432.2" cy="272.8" r="1.35"/><circle cx="426.4" cy="273.9" r="1.35"/><circle cx="440.3" cy="273.9" r="1.35"/><circle cx="447.5" cy="276.3" r="1.35"/><circle cx="440.3" cy="277.2" r="1.35"/><circle cx="432.2" cy="280.3" r="1.35"/><circle cx="440.6" cy="282.2" r="1.35"/><circle cx="419.1" cy="285.6" r="1.35"/><circle cx="422.8" cy="286.8" r="1.35"/><circle cx="426.7" cy="285.9" r="1.35"/><circle cx="415.2" cy="288.2" r="1.35"/><circle cx="435.3" cy="285.9" r="1.35"/><circle cx="436.4" cy="287.1" r="1.35"/><circle cx="439.2" cy="287.7" r="1.35"/><circle cx="437.8" cy="286.4" r="1.35"/></g>
<g fill="#ffc0cb"><circle cx="465.6" cy="356.5" r="1.35"/><circle cx="477.0" cy="364.1" r="1.35"/><circle cx="489.2" cy="326.9" r="1.35"/><circle cx="492.3" cy="328.3" r="1.35"/><circle cx="460.7" cy="346.8" r="1.35"/><circle cx="464.2" cy="345.7" r="1.35"/><circle cx="456.2" cy="331.8" r="1.35"/><circle cx="456.7" cy="335.0" r="1.35"/><circle cx="452.0" cy="337.1" r="1.35"/><circle cx="457.3" cy="339.7" r="1.35"/><circle cx="485.4" cy="333.4" r="1.35"/><circle cx="463.5" cy="343.9" r="1.35"/><circle cx="494.7" cy="347.3" r="1.35"/><circle cx="498.7" cy="352.7" r="1.35"/><circle cx="521.9" cy="358.9" r="1.35"/><circle cx="528.9" cy="354.0" r="1.35"/><circle cx="535.1" cy="349.9" r="1.35"/><circle cx="524.0" cy="333.3" r="1.35"/><circle cx="516.3" cy="333.3" r="1.35"/><circle cx="502.4" cy="338.4" r="1.35"/><circle cx="469.7" cy="322.6" r="1.35"/><circle cx="479.5" cy="326.3" r="1.35"/><circle cx="463.7" cy="325.5" r="1.35"/><circle cx="474.9" cy="321.5" r="1.35"/><circle cx="478.1" cy="326.2" r="1.35"/><circle cx="478.6" cy="324.0" r="1.35"/><circle cx="473.8" cy="326.1" r="1.35"/><circle cx="470.5" cy="323.4" r="1.35"/><circle cx="464.5" cy="329.1" r="1.35"/><circle cx="472.3" cy="332.7" r="1.35"/><circle cx="469.1" cy="335.0" r="1.35"/><circle cx="467.2" cy="323.9" r="1.35"/><circle cx="476.5" cy="326.6" r="1.35"/><circle cx="470.6" cy="332.5" r="1.35"/><circle cx="485.8" cy="324.1" r="1.35"/><circle cx="480.4" cy="330.2" r="1.35"/><circle cx="470.9" cy="334.2" r="1.35"/><circle cx="478.1" cy="322.3" r="1.35"/><circle cx="458.3" cy="326.6" r="1.35"/><circle cx="477.0" cy="334.0" r="1.35"/><circle cx="458.8" cy="330.9" r="1.35"/><circle cx="467.6" cy="332.4" r="1.35"/><circle cx="472.5" cy="325.3" r="1.35"/><circle cx="477.0" cy="323.3" r="1.35"/><circle cx="483.4" cy="321.3" r="1.35"/><circle cx="462.6" cy="328.5" r="1.35"/><circle cx="464.4" cy="331.0" r="1.35"/><circle cx="471.7" cy="326.3" r="1.35"/><circle cx="475.9" cy="333.2" r="1.35"/><circle cx="463.1" cy="326.4" r="1.35"/><circle cx="470.8" cy="327.7" r="1.35"/><circle cx="471.8" cy="329.6" r="1.35"/><circle cx="477.5" cy="324.8" r="1.35"/><circle cx="471.6" cy="329.2" r="1.35"/><circle cx="471.0" cy="338.1" r="1.35"/><circle cx="465.0" cy="326.2" r="1.35"/><circle cx="461.2" cy="325.5" r="1.35"/><circle cx="473.4" cy="332.3" r="1.35"/><circle cx="470.4" cy="327.7" r="1.35"/><circle cx="475.7" cy="323.7" r="1.35"/><circle cx="472.0" cy="330.0" r="1.35"/><circle cx="471.2" cy="326.6" r="1.35"/><circle cx="477.7" cy="325.1" r="1.35"/><circle cx="466.9" cy="332.2" r="1.35"/><circle cx="469.5" cy="329.5" r="1.35"/><circle cx="464.1" cy="326.8" r="1.35"/><circle cx="468.7" cy="325.9" r="1.35"/><circle cx="476.2" cy="328.1" r="1.35"/><circle cx="489.5" cy="327.7" r="1.35"/><circle cx="480.4" cy="325.8" r="1.35"/><circle cx="480.5" cy="336.6" r="1.35"/><circle cx="466.7" cy="325.3" r="1.35"/><circle cx="476.7" cy="316.3" r="1.35"/><circle cx="474.7" cy="320.8" r="1.35"/><circle cx="478.0" cy="322.3" r="1.35"/><circle cx="476.1" cy="327.0" r="1.35"/><circle cx="476.1" cy="331.0" r="1.35"/><circle cx="481.0" cy="330.7" r="1.35"/><circle cx="474.1" cy="317.2" r="1.35"/><circle cx="470.6" cy="326.3" r="1.35"/><circle cx="480.9" cy="326.2" r="1.35"/><circle cx="466.3" cy="325.2" r="1.35"/><circle cx="476.6" cy="323.3" r="1.35"/><circle cx="466.6" cy="318.8" r="1.35"/><circle cx="484.6" cy="326.3" r="1.35"/><circle cx="474.3" cy="328.2" r="1.35"/><circle cx="482.8" cy="329.4" r="1.35"/><circle cx="477.3" cy="328.4" r="1.35"/><circle cx="467.2" cy="323.2" r="1.35"/><circle cx="482.2" cy="326.4" r="1.35"/><circle cx="467.3" cy="322.8" r="1.35"/><circle cx="471.9" cy="325.0" r="1.35"/><circle cx="483.6" cy="321.5" r="1.35"/><circle cx="468.4" cy="316.5" r="1.35"/><circle cx="472.3" cy="323.0" r="1.35"/><circle cx="467.5" cy="326.5" r="1.35"/><circle cx="459.3" cy="318.6" r="1.35"/><circle cx="482.4" cy="331.6" r="1.35"/><circle cx="461.2" cy="333.3" r="1.35"/><circle cx="481.0" cy="328.3" r="1.35"/><circle cx="471.8" cy="327.7" r="1.35"/><circle cx="471.4" cy="331.0" r="1.35"/><circle cx="472.5" cy="332.6" r="1.35"/><circle cx="471.8" cy="325.0" r="1.35"/><circle cx="475.7" cy="327.3" r="1.35"/><circle cx="465.6" cy="325.7" r="1.35"/><circle cx="468.7" cy="319.6" r="1.35"/><circle cx="478.0" cy="326.8" r="1.35"/><circle cx="468.8" cy="329.4" r="1.35"/><circle cx="465.4" cy="327.9" r="1.35"/><circle cx="474.5" cy="324.1" r="1.35"/><circle cx="476.5" cy="317.3" r="1.35"/><circle cx="467.1" cy="326.3" r="1.35"/><circle cx="468.4" cy="325.6" r="1.35"/><circle cx="473.4" cy="324.6" r="1.35"/><circle cx="470.5" cy="324.8" r="1.35"/><circle cx="472.7" cy="323.0" r="1.35"/><circle cx="458.3" cy="330.2" r="1.35"/><circle cx="472.3" cy="330.8" r="1.35"/><circle cx="464.6" cy="323.6" r="1.35"/><circle cx="467.5" cy="323.6" r="1.35"/><circle cx="477.8" cy="325.0" r="1.35"/><circle cx="476.0" cy="326.8" r="1.35"/><circle cx="461.9" cy="326.5" r="1.35"/><circle cx="475.6" cy="328.6" r="1.35"/><circle cx="471.6" cy="323.1" r="1.35"/><circle cx="465.8" cy="323.6" r="1.35"/><circle cx="486.1" cy="328.7" r="1.35"/><circle cx="473.4" cy="327.0" r="1.35"/><circle cx="483.7" cy="325.0" r="1.35"/><circle cx="478.9" cy="329.3" r="1.35"/><circle cx="472.2" cy="326.4" r="1.35"/><circle cx="459.1" cy="320.1" r="1.35"/><circle cx="478.9" cy="333.9" r="1.35"/><circle cx="477.8" cy="326.9" r="1.35"/><circle cx="475.6" cy="324.8" r="1.35"/><circle cx="461.2" cy="327.3" r="1.35"/><circle cx="483.3" cy="328.8" r="1.35"/><circle cx="464.7" cy="332.2" r="1.35"/><circle cx="463.3" cy="324.9" r="1.35"/><circle cx="484.8" cy="324.5" r="1.35"/><circle cx="474.1" cy="316.7" r="1.35"/><circle cx="468.4" cy="329.3" r="1.35"/><circle cx="476.2" cy="324.0" r="1.35"/><circle cx="464.8" cy="331.4" r="1.35"/><circle cx="474.4" cy="325.3" r="1.35"/><circle cx="462.6" cy="327.2" r="1.35"/><circle cx="468.3" cy="324.4" r="1.35"/><circle cx="471.4" cy="326.7" r="1.35"/><circle cx="469.7" cy="321.8" r="1.35"/><circle cx="482.6" cy="327.9" r="1.35"/><circle cx="478.5" cy="329.6" r="1.35"/><circle cx="472.8" cy="323.1" r="1.35"/><circle cx="483.5" cy="328.0" r="1.35"/><circle cx="471.7" cy="325.5" r="1.35"/><circle cx="461.2" cy="326.3" r="1.35"/><circle cx="467.3" cy="324.7" r="1.35"/><circle cx="463.9" cy="334.9" r="1.35"/><circle cx="472.6" cy="325.2" r="1.35"/><circle cx="468.2" cy="322.5" r="1.35"/><circle cx="470.3" cy="329.0" r="1.35"/><circle cx="475.8" cy="333.1" r="1.35"/><circle cx="467.3" cy="326.4" r="1.35"/><circle cx="478.6" cy="327.0" r="1.35"/><circle cx="474.6" cy="329.2" r="1.35"/><circle cx="474.5" cy="319.2" r="1.35"/><circle cx="467.2" cy="316.1" r="1.35"/><circle cx="467.5" cy="326.3" r="1.35"/><circle cx="473.6" cy="321.9" r="1.35"/><circle cx="463.1" cy="335.4" r="1.35"/><circle cx="476.8" cy="322.9" r="1.35"/><circle cx="476.9" cy="315.0" r="1.35"/><circle cx="473.8" cy="325.3" r="1.35"/><circle cx="479.2" cy="324.8" r="1.35"/><circle cx="484.6" cy="331.7" r="1.35"/><circle cx="478.3" cy="328.0" r="1.35"/><circle cx="479.1" cy="317.1" r="1.35"/><circle cx="472.2" cy="327.4" r="1.35"/><circle cx="468.6" cy="330.0" r="1.35"/><circle cx="467.6" cy="323.6" r="1.35"/><circle cx="472.6" cy="326.1" r="1.35"/><circle cx="471.0" cy="322.4" r="1.35"/><circle cx="475.9" cy="327.0" r="1.35"/><circle cx="477.2" cy="327.0" r="1.35"/><circle cx="463.8" cy="320.1" r="1.35"/><circle cx="475.7" cy="330.5" r="1.35"/><circle cx="480.3" cy="324.9" r="1.35"/><circle cx="460.7" cy="319.4" r="1.35"/><circle cx="474.8" cy="322.5" r="1.35"/><circle cx="473.8" cy="327.0" r="1.35"/><circle cx="460.8" cy="322.2" r="1.35"/><circle cx="472.5" cy="327.6" r="1.35"/><circle cx="474.9" cy="326.0" r="1.35"/><circle cx="477.3" cy="327.9" r="1.35"/><circle cx="472.0" cy="335.6" r="1.35"/><circle cx="469.2" cy="323.4" r="1.35"/><circle cx="482.2" cy="327.9" r="1.35"/><circle cx="471.4" cy="319.5" r="1.35"/><circle cx="469.9" cy="323.2" r="1.35"/><circle cx="484.7" cy="326.2" r="1.35"/><circle cx="481.4" cy="329.4" r="1.35"/><circle cx="473.8" cy="326.7" r="1.35"/><circle cx="473.1" cy="321.5" r="1.35"/><circle cx="490.0" cy="329.2" r="1.35"/><circle cx="468.0" cy="324.2" r="1.35"/><circle cx="464.5" cy="324.2" r="1.35"/><circle cx="476.5" cy="327.5" r="1.35"/><circle cx="476.2" cy="333.0" r="1.35"/><circle cx="477.9" cy="333.0" r="1.35"/><circle cx="467.1" cy="328.7" r="1.35"/><circle cx="469.3" cy="322.6" r="1.35"/><circle cx="472.9" cy="328.1" r="1.35"/><circle cx="476.3" cy="319.5" r="1.35"/><circle cx="472.3" cy="324.8" r="1.35"/><circle cx="481.5" cy="325.2" r="1.35"/><circle cx="462.8" cy="315.6" r="1.35"/><circle cx="488.6" cy="334.9" r="1.35"/><circle cx="472.0" cy="324.5" r="1.35"/><circle cx="479.4" cy="323.5" r="1.35"/><circle cx="470.3" cy="330.9" r="1.35"/><circle cx="473.1" cy="321.9" r="1.35"/><circle cx="464.2" cy="330.8" r="1.35"/><circle cx="472.1" cy="334.7" r="1.35"/><circle cx="470.4" cy="328.2" r="1.35"/><circle cx="475.6" cy="329.4" r="1.35"/><circle cx="465.8" cy="328.0" r="1.35"/><circle cx="471.9" cy="329.2" r="1.35"/><circle cx="472.4" cy="323.1" r="1.35"/><circle cx="481.1" cy="319.0" r="1.35"/><circle cx="466.5" cy="328.2" r="1.35"/><circle cx="453.9" cy="318.2" r="1.35"/><circle cx="466.9" cy="326.5" r="1.35"/><circle cx="476.2" cy="332.2" r="1.35"/><circle cx="475.7" cy="326.5" r="1.35"/><circle cx="458.8" cy="325.1" r="1.35"/><circle cx="481.1" cy="334.4" r="1.35"/><circle cx="478.3" cy="325.4" r="1.35"/><circle cx="475.8" cy="324.4" r="1.35"/><circle cx="481.9" cy="327.3" r="1.35"/><circle cx="478.8" cy="328.1" r="1.35"/><circle cx="477.7" cy="329.9" r="1.35"/><circle cx="471.5" cy="318.9" r="1.35"/><circle cx="475.6" cy="327.0" r="1.35"/><circle cx="463.8" cy="329.8" r="1.35"/><circle cx="473.7" cy="322.3" r="1.35"/><circle cx="475.4" cy="324.1" r="1.35"/><circle cx="472.0" cy="320.5" r="1.35"/><circle cx="469.4" cy="328.7" r="1.35"/><circle cx="478.9" cy="326.1" r="1.35"/><circle cx="470.2" cy="328.8" r="1.35"/><circle cx="512.9" cy="342.9" r="1.35"/><circle cx="517.2" cy="350.4" r="1.35"/><circle cx="517.7" cy="344.7" r="1.35"/><circle cx="507.7" cy="342.3" r="1.35"/><circle cx="512.8" cy="346.8" r="1.35"/><circle cx="520.3" cy="340.0" r="1.35"/><circle cx="509.9" cy="343.6" r="1.35"/><circle cx="508.6" cy="336.0" r="1.35"/><circle cx="511.3" cy="340.5" r="1.35"/><circle cx="510.2" cy="342.1" r="1.35"/><circle cx="511.7" cy="343.4" r="1.35"/><circle cx="514.1" cy="348.2" r="1.35"/><circle cx="529.8" cy="345.1" r="1.35"/><circle cx="503.2" cy="341.9" r="1.35"/><circle cx="502.7" cy="340.7" r="1.35"/><circle cx="510.7" cy="344.8" r="1.35"/><circle cx="523.6" cy="344.9" r="1.35"/><circle cx="505.0" cy="352.4" r="1.35"/><circle cx="523.0" cy="342.4" r="1.35"/><circle cx="509.0" cy="341.9" r="1.35"/><circle cx="518.2" cy="342.8" r="1.35"/><circle cx="498.9" cy="346.7" r="1.35"/><circle cx="521.0" cy="342.4" r="1.35"/><circle cx="520.9" cy="355.5" r="1.35"/><circle cx="515.9" cy="343.4" r="1.35"/><circle cx="532.6" cy="349.3" r="1.35"/><circle cx="512.4" cy="345.3" r="1.35"/><circle cx="520.9" cy="347.2" r="1.35"/><circle cx="522.8" cy="348.6" r="1.35"/><circle cx="516.6" cy="347.6" r="1.35"/><circle cx="515.8" cy="348.2" r="1.35"/><circle cx="503.5" cy="341.0" r="1.35"/><circle cx="516.9" cy="347.7" r="1.35"/><circle cx="516.1" cy="341.4" r="1.35"/><circle cx="507.9" cy="345.9" r="1.35"/><circle cx="518.5" cy="343.3" r="1.35"/><circle cx="512.4" cy="354.0" r="1.35"/><circle cx="523.4" cy="344.1" r="1.35"/><circle cx="514.8" cy="346.6" r="1.35"/><circle cx="516.6" cy="347.2" r="1.35"/><circle cx="507.6" cy="348.4" r="1.35"/><circle cx="510.6" cy="347.9" r="1.35"/><circle cx="506.6" cy="342.8" r="1.35"/><circle cx="505.6" cy="342.7" r="1.35"/><circle cx="507.6" cy="344.0" r="1.35"/><circle cx="524.4" cy="344.6" r="1.35"/><circle cx="509.6" cy="345.2" r="1.35"/><circle cx="515.8" cy="352.5" r="1.35"/><circle cx="510.5" cy="344.8" r="1.35"/><circle cx="511.4" cy="345.1" r="1.35"/><circle cx="519.9" cy="342.3" r="1.35"/><circle cx="521.1" cy="343.0" r="1.35"/><circle cx="512.7" cy="345.5" r="1.35"/><circle cx="512.8" cy="346.7" r="1.35"/><circle cx="513.5" cy="352.5" r="1.35"/><circle cx="512.4" cy="345.5" r="1.35"/><circle cx="507.9" cy="345.5" r="1.35"/><circle cx="518.3" cy="346.1" r="1.35"/><circle cx="513.3" cy="352.9" r="1.35"/><circle cx="521.6" cy="334.6" r="1.35"/><circle cx="497.2" cy="344.9" r="1.35"/><circle cx="518.4" cy="346.7" r="1.35"/><circle cx="518.6" cy="354.6" r="1.35"/><circle cx="520.7" cy="343.9" r="1.35"/><circle cx="514.9" cy="347.8" r="1.35"/><circle cx="519.2" cy="347.4" r="1.35"/><circle cx="516.3" cy="347.5" r="1.35"/><circle cx="499.0" cy="345.6" r="1.35"/><circle cx="516.2" cy="342.3" r="1.35"/><circle cx="508.6" cy="345.6" r="1.35"/><circle cx="519.1" cy="344.8" r="1.35"/><circle cx="523.4" cy="337.3" r="1.35"/><circle cx="508.4" cy="353.3" r="1.35"/><circle cx="520.7" cy="339.2" r="1.35"/><circle cx="521.2" cy="342.1" r="1.35"/><circle cx="510.4" cy="348.3" r="1.35"/><circle cx="521.0" cy="349.2" r="1.35"/><circle cx="502.0" cy="349.5" r="1.35"/><circle cx="532.2" cy="337.6" r="1.35"/><circle cx="509.9" cy="348.4" r="1.35"/><circle cx="516.4" cy="348.5" r="1.35"/><circle cx="523.9" cy="345.7" r="1.35"/><circle cx="507.1" cy="340.1" r="1.35"/><circle cx="510.6" cy="344.5" r="1.35"/><circle cx="514.6" cy="346.7" r="1.35"/><circle cx="517.0" cy="348.3" r="1.35"/><circle cx="501.8" cy="354.5" r="1.35"/><circle cx="505.9" cy="348.5" r="1.35"/><circle cx="514.6" cy="345.2" r="1.35"/><circle cx="518.6" cy="344.9" r="1.35"/><circle cx="509.2" cy="348.3" r="1.35"/><circle cx="499.9" cy="346.1" r="1.35"/><circle cx="518.1" cy="343.3" r="1.35"/><circle cx="513.9" cy="346.1" r="1.35"/><circle cx="521.3" cy="345.4" r="1.35"/><circle cx="519.9" cy="343.0" r="1.35"/><circle cx="516.2" cy="340.1" r="1.35"/><circle cx="510.7" cy="346.9" r="1.35"/><circle cx="509.1" cy="348.7" r="1.35"/><circle cx="525.6" cy="338.2" r="1.35"/><circle cx="514.9" cy="343.1" r="1.35"/><circle cx="523.0" cy="342.1" r="1.35"/><circle cx="523.2" cy="350.6" r="1.35"/><circle cx="510.3" cy="343.6" r="1.35"/><circle cx="524.8" cy="345.0" r="1.35"/><circle cx="508.7" cy="346.9" r="1.35"/><circle cx="510.1" cy="348.9" r="1.35"/><circle cx="525.3" cy="348.0" r="1.35"/><circle cx="514.9" cy="336.6" r="1.35"/><circle cx="523.0" cy="344.1" r="1.35"/><circle cx="510.4" cy="343.7" r="1.35"/><circle cx="526.1" cy="342.9" r="1.35"/><circle cx="523.6" cy="345.0" r="1.35"/><circle cx="518.4" cy="346.2" r="1.35"/><circle cx="517.7" cy="340.1" r="1.35"/><circle cx="504.7" cy="345.7" r="1.35"/><circle cx="516.4" cy="347.8" r="1.35"/><circle cx="512.6" cy="342.2" r="1.35"/><circle cx="528.8" cy="342.9" r="1.35"/><circle cx="517.0" cy="351.8" r="1.35"/><circle cx="528.2" cy="345.1" r="1.35"/><circle cx="514.5" cy="350.0" r="1.35"/><circle cx="514.3" cy="349.9" r="1.35"/><circle cx="515.2" cy="343.5" r="1.35"/><circle cx="515.0" cy="344.3" r="1.35"/><circle cx="508.8" cy="339.6" r="1.35"/><circle cx="510.2" cy="352.9" r="1.35"/><circle cx="513.4" cy="348.5" r="1.35"/><circle cx="507.7" cy="346.9" r="1.35"/><circle cx="516.8" cy="350.3" r="1.35"/><circle cx="513.8" cy="339.6" r="1.35"/><circle cx="519.5" cy="346.0" r="1.35"/><circle cx="515.6" cy="345.9" r="1.35"/><circle cx="514.4" cy="342.4" r="1.35"/><circle cx="514.1" cy="355.3" r="1.35"/><circle cx="514.6" cy="349.1" r="1.35"/><circle cx="519.3" cy="347.9" r="1.35"/><circle cx="515.8" cy="336.5" r="1.35"/><circle cx="507.4" cy="350.0" r="1.35"/><circle cx="504.8" cy="355.2" r="1.35"/><circle cx="501.6" cy="343.9" r="1.35"/><circle cx="510.3" cy="353.1" r="1.35"/><circle cx="504.3" cy="342.9" r="1.35"/><circle cx="509.3" cy="346.9" r="1.35"/><circle cx="517.1" cy="339.9" r="1.35"/><circle cx="528.3" cy="341.2" r="1.35"/><circle cx="515.7" cy="344.7" r="1.35"/><circle cx="527.4" cy="339.6" r="1.35"/><circle cx="512.6" cy="343.6" r="1.35"/><circle cx="516.7" cy="345.2" r="1.35"/><circle cx="511.2" cy="350.8" r="1.35"/><circle cx="511.0" cy="351.7" r="1.35"/><circle cx="523.3" cy="343.2" r="1.35"/><circle cx="506.3" cy="339.7" r="1.35"/><circle cx="521.0" cy="353.2" r="1.35"/><circle cx="527.6" cy="342.1" r="1.35"/><circle cx="529.2" cy="350.5" r="1.35"/><circle cx="518.5" cy="343.7" r="1.35"/><circle cx="516.2" cy="344.7" r="1.35"/><circle cx="522.1" cy="351.5" r="1.35"/><circle cx="506.0" cy="351.1" r="1.35"/><circle cx="510.8" cy="347.9" r="1.35"/><circle cx="517.3" cy="344.3" r="1.35"/><circle cx="515.0" cy="348.2" r="1.35"/><circle cx="511.6" cy="341.5" r="1.35"/><circle cx="520.1" cy="345.0" r="1.35"/><circle cx="512.5" cy="339.1" r="1.35"/><circle cx="510.6" cy="342.8" r="1.35"/><circle cx="522.8" cy="346.5" r="1.35"/><circle cx="520.5" cy="350.0" r="1.35"/><circle cx="521.8" cy="344.6" r="1.35"/><circle cx="503.6" cy="342.7" r="1.35"/><circle cx="508.5" cy="340.2" r="1.35"/><circle cx="510.0" cy="346.1" r="1.35"/><circle cx="516.7" cy="346.8" r="1.35"/><circle cx="516.6" cy="347.7" r="1.35"/><circle cx="519.4" cy="345.4" r="1.35"/><circle cx="516.2" cy="356.7" r="1.35"/><circle cx="522.9" cy="345.3" r="1.35"/><circle cx="502.2" cy="345.0" r="1.35"/><circle cx="518.0" cy="341.0" r="1.35"/><circle cx="507.1" cy="339.1" r="1.35"/><circle cx="513.6" cy="335.6" r="1.35"/><circle cx="513.7" cy="342.6" r="1.35"/><circle cx="512.2" cy="350.0" r="1.35"/><circle cx="522.4" cy="341.7" r="1.35"/><circle cx="525.5" cy="341.9" r="1.35"/><circle cx="510.7" cy="352.2" r="1.35"/><circle cx="510.2" cy="348.2" r="1.35"/><circle cx="509.0" cy="343.0" r="1.35"/><circle cx="517.0" cy="346.5" r="1.35"/><circle cx="515.9" cy="346.0" r="1.35"/><circle cx="516.2" cy="342.4" r="1.35"/><circle cx="521.5" cy="348.2" r="1.35"/><circle cx="504.2" cy="339.6" r="1.35"/><circle cx="515.5" cy="340.9" r="1.35"/><circle cx="503.2" cy="346.8" r="1.35"/><circle cx="514.9" cy="351.3" r="1.35"/><circle cx="511.1" cy="342.5" r="1.35"/><circle cx="522.3" cy="338.9" r="1.35"/><circle cx="508.7" cy="351.2" r="1.35"/><circle cx="518.4" cy="341.6" r="1.35"/><circle cx="516.1" cy="350.7" r="1.35"/><circle cx="520.2" cy="342.2" r="1.35"/><circle cx="518.6" cy="347.4" r="1.35"/><circle cx="516.9" cy="342.2" r="1.35"/><circle cx="510.8" cy="353.0" r="1.35"/><circle cx="517.0" cy="343.5" r="1.35"/><circle cx="514.8" cy="341.8" r="1.35"/><circle cx="510.6" cy="345.8" r="1.35"/><circle cx="465.7" cy="322.5" r="1.35"/><circle cx="467.2" cy="322.0" r="1.35"/><circle cx="468.8" cy="322.3" r="1.35"/><circle cx="470.3" cy="322.9" r="1.35"/><circle cx="468.0" cy="323.8" r="1.35"/><circle cx="471.1" cy="324.1" r="1.35"/><circle cx="464.9" cy="323.4" r="1.35"/><circle cx="469.6" cy="324.8" r="1.35"/><circle cx="467.2" cy="330.2" r="1.35"/><circle cx="469.6" cy="329.3" r="1.35"/><circle cx="471.9" cy="330.7" r="1.35"/><circle cx="466.4" cy="332.0" r="1.35"/><circle cx="470.3" cy="332.5" r="1.35"/><circle cx="473.5" cy="332.9" r="1.35"/><circle cx="476.6" cy="333.4" r="1.35"/><circle cx="475.0" cy="331.6" r="1.35"/><circle cx="468.8" cy="331.1" r="1.35"/><circle cx="471.9" cy="333.8" r="1.35"/></g>
<g fill="#ff0000"><circle cx="353.8" cy="325.2" r="1.35"/><circle cx="361.6" cy="329.3" r="1.35"/><circle cx="406.5" cy="330.5" r="1.35"/><circle cx="421.1" cy="331.1" r="1.35"/><circle cx="397.2" cy="331.1" r="1.35"/><circle cx="349.8" cy="334.9" r="1.35"/><circle cx="362.6" cy="335.2" r="1.35"/><circle cx="365.3" cy="333.1" r="1.35"/><circle cx="368.1" cy="333.3" r="1.35"/><circle cx="370.9" cy="333.3" r="1.35"/><circle cx="389.3" cy="333.3" r="1.35"/><circle cx="378.8" cy="336.1" r="1.35"/><circle cx="381.6" cy="340.1" r="1.35"/><circle cx="384.6" cy="338.6" r="1.35"/><circle cx="390.4" cy="340.4" r="1.35"/><circle cx="363.6" cy="341.4" r="1.35"/><circle cx="356.7" cy="344.2" r="1.35"/><circle cx="371.3" cy="345.0" r="1.35"/><circle cx="373.7" cy="347.1" r="1.35"/><circle cx="380.0" cy="344.5" r="1.35"/><circle cx="389.3" cy="344.2" r="1.35"/><circle cx="342.1" cy="346.3" r="1.35"/><circle cx="348.5" cy="346.1" r="1.35"/><circle cx="356.7" cy="353.0" r="1.35"/><circle cx="361.8" cy="351.2" r="1.35"/><circle cx="386.6" cy="351.9" r="1.35"/><circle cx="391.1" cy="351.2" r="1.35"/><circle cx="391.7" cy="349.9" r="1.35"/><circle cx="390.8" cy="357.6" r="1.35"/><circle cx="369.9" cy="362.2" r="1.35"/><circle cx="389.3" cy="367.8" r="1.35"/><circle cx="358.7" cy="372.2" r="1.35"/><circle cx="364.7" cy="371.9" r="1.35"/><circle cx="381.0" cy="371.9" r="1.35"/><circle cx="389.0" cy="382.0" r="1.35"/><circle cx="407.2" cy="331.7" r="1.35"/><circle cx="409.3" cy="330.9" r="1.35"/><circle cx="405.8" cy="335.2" r="1.35"/><circle cx="400.2" cy="335.2" r="1.35"/><circle cx="396.8" cy="337.6" r="1.35"/><circle cx="398.9" cy="338.9" r="1.35"/><circle cx="403.0" cy="338.0" r="1.35"/><circle cx="405.6" cy="340.8" r="1.35"/><circle cx="410.0" cy="337.6" r="1.35"/><circle cx="415.8" cy="338.6" r="1.35"/><circle cx="419.7" cy="338.0" r="1.35"/><circle cx="423.9" cy="337.6" r="1.35"/><circle cx="426.7" cy="336.1" r="1.35"/><circle cx="432.2" cy="336.1" r="1.35"/><circle cx="432.9" cy="338.0" r="1.35"/><circle cx="434.3" cy="338.9" r="1.35"/><circle cx="436.4" cy="333.1" r="1.35"/><circle cx="435.0" cy="332.4" r="1.35"/><circle cx="417.6" cy="340.8" r="1.35"/><circle cx="418.3" cy="342.9" r="1.35"/><circle cx="420.4" cy="342.2" r="1.35"/><circle cx="424.6" cy="342.9" r="1.35"/><circle cx="429.5" cy="341.7" r="1.35"/><circle cx="414.8" cy="345.0" r="1.35"/><circle cx="417.0" cy="347.1" r="1.35"/><circle cx="398.9" cy="344.2" r="1.35"/><circle cx="400.5" cy="343.2" r="1.35"/><circle cx="407.9" cy="347.3" r="1.35"/><circle cx="412.7" cy="349.1" r="1.35"/><circle cx="421.3" cy="347.8" r="1.35"/><circle cx="422.8" cy="349.6" r="1.35"/><circle cx="425.3" cy="348.5" r="1.35"/><circle cx="420.4" cy="351.2" r="1.35"/><circle cx="426.7" cy="351.9" r="1.35"/><circle cx="430.1" cy="349.1" r="1.35"/><circle cx="424.6" cy="346.3" r="1.35"/><circle cx="438.5" cy="344.2" r="1.35"/><circle cx="439.9" cy="346.0" r="1.35"/><circle cx="441.2" cy="342.2" r="1.35"/><circle cx="440.6" cy="347.8" r="1.35"/><circle cx="442.7" cy="350.6" r="1.35"/><circle cx="444.5" cy="352.4" r="1.35"/><circle cx="436.2" cy="351.0" r="1.35"/><circle cx="438.5" cy="349.9" r="1.35"/><circle cx="394.0" cy="353.4" r="1.35"/><circle cx="398.1" cy="351.5" r="1.35"/><circle cx="401.7" cy="351.9" r="1.35"/><circle cx="401.0" cy="355.5" r="1.35"/><circle cx="400.5" cy="353.4" r="1.35"/><circle cx="408.8" cy="356.2" r="1.35"/><circle cx="410.6" cy="354.0" r="1.35"/><circle cx="411.1" cy="358.3" r="1.35"/><circle cx="410.0" cy="359.6" r="1.35"/><circle cx="415.2" cy="355.8" r="1.35"/><circle cx="434.3" cy="355.8" r="1.35"/><circle cx="421.8" cy="358.9" r="1.35"/><circle cx="425.6" cy="360.8" r="1.35"/><circle cx="428.3" cy="361.7" r="1.35"/><circle cx="428.7" cy="363.9" r="1.35"/><circle cx="433.6" cy="363.2" r="1.35"/><circle cx="444.0" cy="364.1" r="1.35"/><circle cx="450.0" cy="357.6" r="1.35"/><circle cx="450.3" cy="359.6" r="1.35"/><circle cx="457.3" cy="358.9" r="1.35"/><circle cx="415.2" cy="366.4" r="1.35"/><circle cx="407.5" cy="370.2" r="1.35"/><circle cx="412.1" cy="370.9" r="1.35"/><circle cx="435.0" cy="371.2" r="1.35"/><circle cx="444.0" cy="371.2" r="1.35"/><circle cx="449.2" cy="371.2" r="1.35"/><circle cx="451.9" cy="369.1" r="1.35"/><circle cx="453.1" cy="374.0" r="1.35"/><circle cx="415.8" cy="375.8" r="1.35"/><circle cx="416.7" cy="377.9" r="1.35"/><circle cx="414.8" cy="379.9" r="1.35"/><circle cx="431.6" cy="376.2" r="1.35"/><circle cx="452.4" cy="379.5" r="1.35"/><circle cx="406.5" cy="382.7" r="1.35"/><circle cx="427.4" cy="330.9" r="1.35"/><circle cx="419.1" cy="330.3" r="1.35"/><circle cx="429.5" cy="343.7" r="1.35"/><circle cx="446.8" cy="334.5" r="1.35"/><circle cx="445.8" cy="341.8" r="1.35"/><circle cx="447.3" cy="340.8" r="1.35"/></g>
<g fill="#ffa500"><circle cx="368.8" cy="296.9" r="1.35"/><circle cx="376.0" cy="299.0" r="1.35"/><circle cx="380.6" cy="293.8" r="1.35"/><circle cx="382.7" cy="294.8" r="1.35"/><circle cx="390.1" cy="293.3" r="1.35"/><circle cx="383.0" cy="304.3" r="1.35"/><circle cx="397.2" cy="292.4" r="1.35"/><circle cx="397.2" cy="296.1" r="1.35"/><circle cx="404.4" cy="295.7" r="1.35"/><circle cx="407.9" cy="296.1" r="1.35"/><circle cx="410.0" cy="295.4" r="1.35"/><circle cx="412.5" cy="299.0" r="1.35"/><circle cx="414.5" cy="301.0" r="1.35"/><circle cx="417.0" cy="300.7" r="1.35"/><circle cx="403.3" cy="302.5" r="1.35"/><circle cx="407.5" cy="303.6" r="1.35"/><circle cx="412.5" cy="303.8" r="1.35"/><circle cx="417.2" cy="303.8" r="1.35"/><circle cx="423.6" cy="302.5" r="1.35"/><circle cx="426.7" cy="297.6" r="1.35"/><circle cx="425.3" cy="301.0" r="1.35"/><circle cx="432.2" cy="296.1" r="1.35"/><circle cx="431.6" cy="299.7" r="1.35"/><circle cx="435.0" cy="296.6" r="1.35"/><circle cx="437.8" cy="293.3" r="1.35"/><circle cx="440.6" cy="295.4" r="1.35"/><circle cx="441.2" cy="297.6" r="1.35"/><circle cx="447.5" cy="297.6" r="1.35"/><circle cx="444.8" cy="300.7" r="1.35"/><circle cx="442.0" cy="303.6" r="1.35"/><circle cx="423.6" cy="306.9" r="1.35"/><circle cx="422.8" cy="308.7" r="1.35"/><circle cx="425.3" cy="310.2" r="1.35"/><circle cx="421.8" cy="311.5" r="1.35"/><circle cx="361.8" cy="317.5" r="1.35"/><circle cx="363.2" cy="321.0" r="1.35"/><circle cx="372.4" cy="319.7" r="1.35"/><circle cx="377.1" cy="322.1" r="1.35"/><circle cx="388.0" cy="316.1" r="1.35"/><circle cx="388.6" cy="317.9" r="1.35"/><circle cx="392.4" cy="320.6" r="1.35"/><circle cx="387.6" cy="323.4" r="1.35"/><circle cx="390.7" cy="324.3" r="1.35"/><circle cx="379.7" cy="326.7" r="1.35"/><circle cx="394.4" cy="308.7" r="1.35"/><circle cx="400.5" cy="310.5" r="1.35"/><circle cx="410.0" cy="311.5" r="1.35"/><circle cx="408.6" cy="313.6" r="1.35"/><circle cx="407.2" cy="316.1" r="1.35"/><circle cx="420.4" cy="313.9" r="1.35"/><circle cx="414.2" cy="317.9" r="1.35"/><circle cx="412.7" cy="319.0" r="1.35"/><circle cx="418.3" cy="320.6" r="1.35"/><circle cx="424.6" cy="318.5" r="1.35"/><circle cx="423.9" cy="322.1" r="1.35"/><circle cx="398.9" cy="324.1" r="1.35"/><circle cx="400.2" cy="327.7" r="1.35"/><circle cx="417.0" cy="325.2" r="1.35"/><circle cx="416.3" cy="327.4" r="1.35"/><circle cx="414.2" cy="326.5" r="1.35"/><circle cx="408.6" cy="329.3" r="1.35"/><circle cx="425.3" cy="329.0" r="1.35"/><circle cx="445.8" cy="306.1" r="1.35"/><circle cx="453.6" cy="305.8" r="1.35"/><circle cx="455.7" cy="305.3" r="1.35"/><circle cx="439.3" cy="307.9" r="1.35"/><circle cx="442.7" cy="309.3" r="1.35"/><circle cx="470.8" cy="308.5" r="1.35"/><circle cx="440.6" cy="315.1" r="1.35"/><circle cx="442.7" cy="315.5" r="1.35"/><circle cx="445.5" cy="317.2" r="1.35"/><circle cx="466.6" cy="314.0" r="1.35"/><circle cx="472.9" cy="315.9" r="1.35"/><circle cx="474.4" cy="315.5" r="1.35"/><circle cx="431.4" cy="320.8" r="1.35"/><circle cx="431.4" cy="322.4" r="1.35"/><circle cx="437.2" cy="323.6" r="1.35"/><circle cx="443.7" cy="323.0" r="1.35"/><circle cx="446.3" cy="320.8" r="1.35"/><circle cx="449.9" cy="323.9" r="1.35"/><circle cx="451.5" cy="326.0" r="1.35"/><circle cx="453.6" cy="325.6" r="1.35"/><circle cx="457.3" cy="321.3" r="1.35"/><circle cx="461.4" cy="319.2" r="1.35"/><circle cx="436.4" cy="327.1" r="1.35"/><circle cx="438.0" cy="329.2" r="1.35"/><circle cx="446.3" cy="331.3" r="1.35"/><circle cx="449.9" cy="329.7" r="1.35"/><circle cx="463.5" cy="310.8" r="1.35"/></g>
<path d="M411.62,266.02 L412.26,267.73 L414.09,267.81 L412.66,268.96 L413.15,270.72 L411.62,269.71 L410.09,270.72 L410.58,268.96 L409.14,267.81 L410.98,267.73Z" fill="#ff00ff"/>
<path d="M487.48,276.06 L488.12,277.77 L489.95,277.85 L488.52,278.99 L489.00,280.76 L487.48,279.75 L485.95,280.76 L486.44,278.99 L485.00,277.85 L486.83,277.77Z" fill="#ff00ff"/>
<path d="M492.93,333.29 L493.57,335.00 L495.40,335.08 L493.97,336.22 L494.46,337.99 L492.93,336.98 L491.40,337.99 L491.89,336.22 L490.46,335.08 L492.29,335.00Z" fill="#ff00ff"/>
<path d="M421.90,309.44 L422.54,311.16 L424.37,311.24 L422.94,312.38 L423.43,314.14 L421.90,313.13 L420.37,314.14 L420.86,312.38 L419.43,311.24 L421.26,311.16Z" fill="#ff00ff"/>
<path d="M409.98,346.23 L410.62,347.95 L412.45,348.03 L411.02,349.17 L411.51,350.93 L409.98,349.92 L408.45,350.93 L408.94,349.17 L407.51,348.03 L409.34,347.95Z" fill="#ff00ff"/>
<rect x="317.3" y="219.7" width="228.2" height="170.6" fill="none" stroke="#6e6e6e" stroke-width="1.1"/>
<line x1="355.1" y1="390.3" x2="355.1" y2="392.8" stroke="#6e6e6e" stroke-width="0.8"/>
<text x="355.1" y="400.2" text-anchor="middle" class="tk">−15</text>
<line x1="394.0" y1="390.3" x2="394.0" y2="392.8" stroke="#6e6e6e" stroke-width="0.8"/>
<text x="394.0" y="400.2" text-anchor="middle" class="tk">−10</text>
<line x1="433.0" y1="390.3" x2="433.0" y2="392.8" stroke="#6e6e6e" stroke-width="0.8"/>
<text x="433.0" y="400.2" text-anchor="middle" class="tk">−5</text>
<line x1="471.9" y1="390.3" x2="471.9" y2="392.8" stroke="#6e6e6e" stroke-width="0.8"/>
<text x="471.9" y="400.2" text-anchor="middle" class="tk">0</text>
<line x1="510.8" y1="390.3" x2="510.8" y2="392.8" stroke="#6e6e6e" stroke-width="0.8"/>
<text x="510.8" y="400.2" text-anchor="middle" class="tk">5</text>
<line x1="314.8" y1="369.7" x2="317.3" y2="369.7" stroke="#6e6e6e" stroke-width="0.8"/>
<text x="312.0" y="371.8" text-anchor="end" class="tk">−15</text>
<line x1="314.8" y1="347.0" x2="317.3" y2="347.0" stroke="#6e6e6e" stroke-width="0.8"/>
<text x="312.0" y="349.1" text-anchor="end" class="tk">−10</text>
<line x1="314.8" y1="324.3" x2="317.3" y2="324.3" stroke="#6e6e6e" stroke-width="0.8"/>
<text x="312.0" y="326.4" text-anchor="end" class="tk">−5</text>
<line x1="314.8" y1="301.6" x2="317.3" y2="301.6" stroke="#6e6e6e" stroke-width="0.8"/>
<text x="312.0" y="303.7" text-anchor="end" class="tk">0</text>
<line x1="314.8" y1="278.9" x2="317.3" y2="278.9" stroke="#6e6e6e" stroke-width="0.8"/>
<text x="312.0" y="281.0" text-anchor="end" class="tk">5</text>
<line x1="314.8" y1="256.2" x2="317.3" y2="256.2" stroke="#6e6e6e" stroke-width="0.8"/>
<text x="312.0" y="258.3" text-anchor="end" class="tk">10</text>
<line x1="314.8" y1="233.5" x2="317.3" y2="233.5" stroke="#6e6e6e" stroke-width="0.8"/>
<text x="312.0" y="235.6" text-anchor="end" class="tk">15</text>
<text x="352.8" y="251.8" text-anchor="middle" class="lt">C</text>
<text x="520.0" y="274.9" text-anchor="middle" class="lt">A</text>
<text x="372.8" y="312.6" text-anchor="middle" class="lt">D</text>
<text x="512.0" y="326.9" text-anchor="middle" class="lt">B</text>
<text x="346.2" y="370.8" text-anchor="middle" class="lt">E</text>
<text x="423.7" y="422.5" text-anchor="middle" class="lb" style="font-size:13.3px">(<tspan font-weight="bold">d</tspan>)</text>
</svg>
</body></html>
